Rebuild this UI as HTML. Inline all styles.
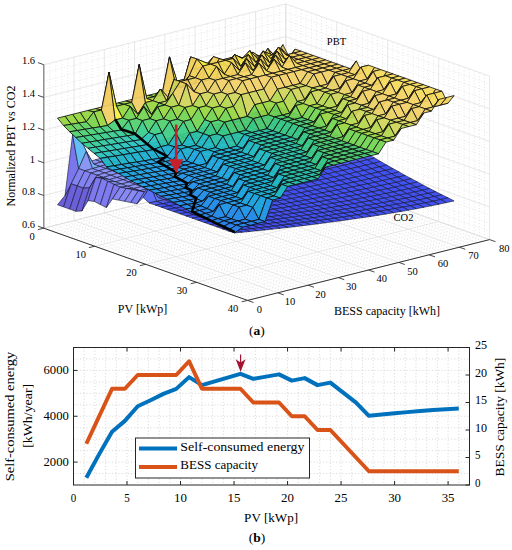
<!DOCTYPE html>
<html><head><meta charset="utf-8"><style>
html,body{margin:0;padding:0;background:#fff;width:512px;height:550px;overflow:hidden}
svg{display:block}
text{font-family:"Liberation Serif",serif;fill:#000}
.tl{font-size:13px}
.lg{font-size:13.2px}
.al{font-size:13.5px}
.gd{stroke:#c4c4c4;stroke-width:0.7;stroke-dasharray:1 2.2}
.tk{stroke:#262626;stroke-width:1}
.gM{stroke:#dcdcdc;stroke-width:0.7}
.gm{stroke:#cfcfcf;stroke-width:0.6;stroke-dasharray:0.8 2.2}
.q polygon{stroke:#0a0a0a;stroke-width:0.8;stroke-linejoin:round}
.q polygon.c{stroke:#12122a;stroke-width:0.6}
.t3{font-size:10.5px}
.l3{font-size:12px}
</style></head><body>
<svg width="512" height="550" viewBox="0 0 512 550">
<line x1="43.80" y1="228.20" x2="43.80" y2="64.70" class="gM"/>
<line x1="49.85" y1="226.68" x2="49.85" y2="63.18" class="gm"/>
<line x1="55.90" y1="225.16" x2="55.90" y2="61.66" class="gm"/>
<line x1="61.95" y1="223.64" x2="61.95" y2="60.14" class="gm"/>
<line x1="68.00" y1="222.12" x2="68.00" y2="58.62" class="gm"/>
<line x1="74.05" y1="220.60" x2="74.05" y2="57.10" class="gM"/>
<line x1="80.10" y1="219.08" x2="80.10" y2="55.58" class="gm"/>
<line x1="86.15" y1="217.56" x2="86.15" y2="54.06" class="gm"/>
<line x1="92.20" y1="216.04" x2="92.20" y2="52.54" class="gm"/>
<line x1="98.25" y1="214.52" x2="98.25" y2="51.02" class="gm"/>
<line x1="104.30" y1="213.00" x2="104.30" y2="49.50" class="gM"/>
<line x1="110.35" y1="211.48" x2="110.35" y2="47.98" class="gm"/>
<line x1="116.40" y1="209.96" x2="116.40" y2="46.46" class="gm"/>
<line x1="122.45" y1="208.44" x2="122.45" y2="44.94" class="gm"/>
<line x1="128.50" y1="206.92" x2="128.50" y2="43.42" class="gm"/>
<line x1="134.55" y1="205.40" x2="134.55" y2="41.90" class="gM"/>
<line x1="140.60" y1="203.88" x2="140.60" y2="40.38" class="gm"/>
<line x1="146.65" y1="202.36" x2="146.65" y2="38.86" class="gm"/>
<line x1="152.70" y1="200.84" x2="152.70" y2="37.34" class="gm"/>
<line x1="158.75" y1="199.32" x2="158.75" y2="35.82" class="gm"/>
<line x1="164.80" y1="197.80" x2="164.80" y2="34.30" class="gM"/>
<line x1="170.85" y1="196.28" x2="170.85" y2="32.78" class="gm"/>
<line x1="176.90" y1="194.76" x2="176.90" y2="31.26" class="gm"/>
<line x1="182.95" y1="193.24" x2="182.95" y2="29.74" class="gm"/>
<line x1="189.00" y1="191.72" x2="189.00" y2="28.22" class="gm"/>
<line x1="195.05" y1="190.20" x2="195.05" y2="26.70" class="gM"/>
<line x1="201.10" y1="188.68" x2="201.10" y2="25.18" class="gm"/>
<line x1="207.15" y1="187.16" x2="207.15" y2="23.66" class="gm"/>
<line x1="213.20" y1="185.64" x2="213.20" y2="22.14" class="gm"/>
<line x1="219.25" y1="184.12" x2="219.25" y2="20.62" class="gm"/>
<line x1="225.30" y1="182.60" x2="225.30" y2="19.10" class="gM"/>
<line x1="231.35" y1="181.08" x2="231.35" y2="17.58" class="gm"/>
<line x1="237.40" y1="179.56" x2="237.40" y2="16.06" class="gm"/>
<line x1="243.45" y1="178.04" x2="243.45" y2="14.54" class="gm"/>
<line x1="249.50" y1="176.52" x2="249.50" y2="13.02" class="gm"/>
<line x1="255.55" y1="175.00" x2="255.55" y2="11.50" class="gM"/>
<line x1="261.60" y1="173.48" x2="261.60" y2="9.98" class="gm"/>
<line x1="267.65" y1="171.96" x2="267.65" y2="8.46" class="gm"/>
<line x1="273.70" y1="170.44" x2="273.70" y2="6.94" class="gm"/>
<line x1="279.75" y1="168.92" x2="279.75" y2="5.42" class="gm"/>
<line x1="285.80" y1="167.40" x2="285.80" y2="3.90" class="gM"/>
<line x1="43.80" y1="228.20" x2="285.80" y2="167.40" class="gM"/>
<line x1="43.80" y1="220.02" x2="285.80" y2="159.22" class="gm"/>
<line x1="43.80" y1="211.85" x2="285.80" y2="151.05" class="gm"/>
<line x1="43.80" y1="203.67" x2="285.80" y2="142.87" class="gm"/>
<line x1="43.80" y1="195.50" x2="285.80" y2="134.70" class="gM"/>
<line x1="43.80" y1="187.32" x2="285.80" y2="126.52" class="gm"/>
<line x1="43.80" y1="179.15" x2="285.80" y2="118.35" class="gm"/>
<line x1="43.80" y1="170.97" x2="285.80" y2="110.17" class="gm"/>
<line x1="43.80" y1="162.80" x2="285.80" y2="102.00" class="gM"/>
<line x1="43.80" y1="154.62" x2="285.80" y2="93.82" class="gm"/>
<line x1="43.80" y1="146.45" x2="285.80" y2="85.65" class="gm"/>
<line x1="43.80" y1="138.28" x2="285.80" y2="77.47" class="gm"/>
<line x1="43.80" y1="130.10" x2="285.80" y2="69.30" class="gM"/>
<line x1="43.80" y1="121.92" x2="285.80" y2="61.12" class="gm"/>
<line x1="43.80" y1="113.75" x2="285.80" y2="52.95" class="gm"/>
<line x1="43.80" y1="105.57" x2="285.80" y2="44.77" class="gm"/>
<line x1="43.80" y1="97.40" x2="285.80" y2="36.60" class="gM"/>
<line x1="43.80" y1="89.22" x2="285.80" y2="28.42" class="gm"/>
<line x1="43.80" y1="81.05" x2="285.80" y2="20.25" class="gm"/>
<line x1="43.80" y1="72.87" x2="285.80" y2="12.07" class="gm"/>
<line x1="43.80" y1="64.70" x2="285.80" y2="3.90" class="gM"/>
<line x1="285.80" y1="167.40" x2="285.80" y2="3.90" class="gM"/>
<line x1="290.89" y1="169.20" x2="290.89" y2="5.70" class="gm"/>
<line x1="295.99" y1="171.01" x2="295.99" y2="7.51" class="gm"/>
<line x1="301.08" y1="172.81" x2="301.08" y2="9.31" class="gm"/>
<line x1="306.18" y1="174.62" x2="306.18" y2="11.12" class="gm"/>
<line x1="311.27" y1="176.43" x2="311.27" y2="12.93" class="gm"/>
<line x1="316.37" y1="178.23" x2="316.37" y2="14.73" class="gm"/>
<line x1="321.47" y1="180.03" x2="321.47" y2="16.53" class="gm"/>
<line x1="326.56" y1="181.84" x2="326.56" y2="18.34" class="gm"/>
<line x1="331.65" y1="183.64" x2="331.65" y2="20.14" class="gm"/>
<line x1="336.75" y1="185.45" x2="336.75" y2="21.95" class="gM"/>
<line x1="341.85" y1="187.25" x2="341.85" y2="23.75" class="gm"/>
<line x1="346.94" y1="189.06" x2="346.94" y2="25.56" class="gm"/>
<line x1="352.03" y1="190.87" x2="352.03" y2="27.37" class="gm"/>
<line x1="357.13" y1="192.67" x2="357.13" y2="29.17" class="gm"/>
<line x1="362.23" y1="194.47" x2="362.23" y2="30.97" class="gm"/>
<line x1="367.32" y1="196.28" x2="367.32" y2="32.78" class="gm"/>
<line x1="372.41" y1="198.08" x2="372.41" y2="34.58" class="gm"/>
<line x1="377.51" y1="199.89" x2="377.51" y2="36.39" class="gm"/>
<line x1="382.61" y1="201.69" x2="382.61" y2="38.19" class="gm"/>
<line x1="387.70" y1="203.50" x2="387.70" y2="40.00" class="gM"/>
<line x1="392.79" y1="205.31" x2="392.79" y2="41.81" class="gm"/>
<line x1="397.89" y1="207.11" x2="397.89" y2="43.61" class="gm"/>
<line x1="402.99" y1="208.91" x2="402.99" y2="45.41" class="gm"/>
<line x1="408.08" y1="210.72" x2="408.08" y2="47.22" class="gm"/>
<line x1="413.18" y1="212.52" x2="413.18" y2="49.02" class="gm"/>
<line x1="418.27" y1="214.33" x2="418.27" y2="50.83" class="gm"/>
<line x1="423.37" y1="216.13" x2="423.37" y2="52.63" class="gm"/>
<line x1="428.46" y1="217.94" x2="428.46" y2="54.44" class="gm"/>
<line x1="433.56" y1="219.74" x2="433.56" y2="56.24" class="gm"/>
<line x1="438.65" y1="221.55" x2="438.65" y2="58.05" class="gM"/>
<line x1="443.75" y1="223.35" x2="443.75" y2="59.85" class="gm"/>
<line x1="448.84" y1="225.16" x2="448.84" y2="61.66" class="gm"/>
<line x1="453.94" y1="226.96" x2="453.94" y2="63.46" class="gm"/>
<line x1="459.03" y1="228.77" x2="459.03" y2="65.27" class="gm"/>
<line x1="464.12" y1="230.57" x2="464.12" y2="67.07" class="gm"/>
<line x1="469.22" y1="232.38" x2="469.22" y2="68.88" class="gm"/>
<line x1="474.31" y1="234.19" x2="474.31" y2="70.69" class="gm"/>
<line x1="479.41" y1="235.99" x2="479.41" y2="72.49" class="gm"/>
<line x1="484.50" y1="237.79" x2="484.50" y2="74.29" class="gm"/>
<line x1="489.60" y1="239.60" x2="489.60" y2="76.10" class="gM"/>
<line x1="285.80" y1="167.40" x2="489.60" y2="239.60" class="gM"/>
<line x1="285.80" y1="159.22" x2="489.60" y2="231.42" class="gm"/>
<line x1="285.80" y1="151.05" x2="489.60" y2="223.25" class="gm"/>
<line x1="285.80" y1="142.87" x2="489.60" y2="215.07" class="gm"/>
<line x1="285.80" y1="134.70" x2="489.60" y2="206.90" class="gM"/>
<line x1="285.80" y1="126.52" x2="489.60" y2="198.72" class="gm"/>
<line x1="285.80" y1="118.35" x2="489.60" y2="190.55" class="gm"/>
<line x1="285.80" y1="110.17" x2="489.60" y2="182.37" class="gm"/>
<line x1="285.80" y1="102.00" x2="489.60" y2="174.20" class="gM"/>
<line x1="285.80" y1="93.82" x2="489.60" y2="166.02" class="gm"/>
<line x1="285.80" y1="85.65" x2="489.60" y2="157.85" class="gm"/>
<line x1="285.80" y1="77.47" x2="489.60" y2="149.67" class="gm"/>
<line x1="285.80" y1="69.30" x2="489.60" y2="141.50" class="gM"/>
<line x1="285.80" y1="61.12" x2="489.60" y2="133.32" class="gm"/>
<line x1="285.80" y1="52.95" x2="489.60" y2="125.15" class="gm"/>
<line x1="285.80" y1="44.77" x2="489.60" y2="116.97" class="gm"/>
<line x1="285.80" y1="36.60" x2="489.60" y2="108.80" class="gM"/>
<line x1="285.80" y1="28.42" x2="489.60" y2="100.62" class="gm"/>
<line x1="285.80" y1="20.25" x2="489.60" y2="92.45" class="gm"/>
<line x1="285.80" y1="12.07" x2="489.60" y2="84.27" class="gm"/>
<line x1="285.80" y1="3.90" x2="489.60" y2="76.10" class="gM"/>
<line x1="43.80" y1="228.20" x2="285.80" y2="167.40" class="gM"/>
<line x1="48.89" y1="230.00" x2="290.89" y2="169.20" class="gm"/>
<line x1="53.99" y1="231.81" x2="295.99" y2="171.01" class="gm"/>
<line x1="59.08" y1="233.61" x2="301.08" y2="172.81" class="gm"/>
<line x1="64.18" y1="235.42" x2="306.18" y2="174.62" class="gm"/>
<line x1="69.27" y1="237.22" x2="311.27" y2="176.43" class="gm"/>
<line x1="74.37" y1="239.03" x2="316.37" y2="178.23" class="gm"/>
<line x1="79.47" y1="240.83" x2="321.47" y2="180.03" class="gm"/>
<line x1="84.56" y1="242.64" x2="326.56" y2="181.84" class="gm"/>
<line x1="89.66" y1="244.44" x2="331.65" y2="183.64" class="gm"/>
<line x1="94.75" y1="246.25" x2="336.75" y2="185.45" class="gM"/>
<line x1="99.84" y1="248.05" x2="341.85" y2="187.25" class="gm"/>
<line x1="104.94" y1="249.86" x2="346.94" y2="189.06" class="gm"/>
<line x1="110.03" y1="251.66" x2="352.03" y2="190.87" class="gm"/>
<line x1="115.13" y1="253.47" x2="357.13" y2="192.67" class="gm"/>
<line x1="120.22" y1="255.27" x2="362.23" y2="194.47" class="gm"/>
<line x1="125.32" y1="257.08" x2="367.32" y2="196.28" class="gm"/>
<line x1="130.41" y1="258.88" x2="372.41" y2="198.08" class="gm"/>
<line x1="135.51" y1="260.69" x2="377.51" y2="199.89" class="gm"/>
<line x1="140.60" y1="262.50" x2="382.61" y2="201.69" class="gm"/>
<line x1="145.70" y1="264.30" x2="387.70" y2="203.50" class="gM"/>
<line x1="150.79" y1="266.11" x2="392.79" y2="205.31" class="gm"/>
<line x1="155.89" y1="267.91" x2="397.89" y2="207.11" class="gm"/>
<line x1="160.98" y1="269.71" x2="402.99" y2="208.91" class="gm"/>
<line x1="166.08" y1="271.52" x2="408.08" y2="210.72" class="gm"/>
<line x1="171.18" y1="273.32" x2="413.18" y2="212.52" class="gm"/>
<line x1="176.27" y1="275.13" x2="418.27" y2="214.33" class="gm"/>
<line x1="181.37" y1="276.94" x2="423.37" y2="216.13" class="gm"/>
<line x1="186.46" y1="278.74" x2="428.46" y2="217.94" class="gm"/>
<line x1="191.56" y1="280.54" x2="433.56" y2="219.74" class="gm"/>
<line x1="196.65" y1="282.35" x2="438.65" y2="221.55" class="gM"/>
<line x1="201.75" y1="284.15" x2="443.75" y2="223.35" class="gm"/>
<line x1="206.84" y1="285.96" x2="448.84" y2="225.16" class="gm"/>
<line x1="211.94" y1="287.76" x2="453.94" y2="226.96" class="gm"/>
<line x1="217.03" y1="289.57" x2="459.03" y2="228.77" class="gm"/>
<line x1="222.12" y1="291.38" x2="464.12" y2="230.57" class="gm"/>
<line x1="227.22" y1="293.18" x2="469.22" y2="232.38" class="gm"/>
<line x1="232.31" y1="294.99" x2="474.31" y2="234.19" class="gm"/>
<line x1="237.41" y1="296.79" x2="479.41" y2="235.99" class="gm"/>
<line x1="242.50" y1="298.59" x2="484.50" y2="237.79" class="gm"/>
<line x1="247.60" y1="300.40" x2="489.60" y2="239.60" class="gM"/>
<line x1="43.80" y1="228.20" x2="247.60" y2="300.40" class="gM"/>
<line x1="49.85" y1="226.68" x2="253.65" y2="298.88" class="gm"/>
<line x1="55.90" y1="225.16" x2="259.70" y2="297.36" class="gm"/>
<line x1="61.95" y1="223.64" x2="265.75" y2="295.84" class="gm"/>
<line x1="68.00" y1="222.12" x2="271.80" y2="294.32" class="gm"/>
<line x1="74.05" y1="220.60" x2="277.85" y2="292.80" class="gM"/>
<line x1="80.10" y1="219.08" x2="283.90" y2="291.28" class="gm"/>
<line x1="86.15" y1="217.56" x2="289.95" y2="289.76" class="gm"/>
<line x1="92.20" y1="216.04" x2="296.00" y2="288.24" class="gm"/>
<line x1="98.25" y1="214.52" x2="302.05" y2="286.72" class="gm"/>
<line x1="104.30" y1="213.00" x2="308.10" y2="285.20" class="gM"/>
<line x1="110.35" y1="211.48" x2="314.15" y2="283.68" class="gm"/>
<line x1="116.40" y1="209.96" x2="320.20" y2="282.16" class="gm"/>
<line x1="122.45" y1="208.44" x2="326.25" y2="280.64" class="gm"/>
<line x1="128.50" y1="206.92" x2="332.30" y2="279.12" class="gm"/>
<line x1="134.55" y1="205.40" x2="338.35" y2="277.60" class="gM"/>
<line x1="140.60" y1="203.88" x2="344.40" y2="276.08" class="gm"/>
<line x1="146.65" y1="202.36" x2="350.45" y2="274.56" class="gm"/>
<line x1="152.70" y1="200.84" x2="356.50" y2="273.04" class="gm"/>
<line x1="158.75" y1="199.32" x2="362.55" y2="271.52" class="gm"/>
<line x1="164.80" y1="197.80" x2="368.60" y2="270.00" class="gM"/>
<line x1="170.85" y1="196.28" x2="374.65" y2="268.48" class="gm"/>
<line x1="176.90" y1="194.76" x2="380.70" y2="266.96" class="gm"/>
<line x1="182.95" y1="193.24" x2="386.75" y2="265.44" class="gm"/>
<line x1="189.00" y1="191.72" x2="392.80" y2="263.92" class="gm"/>
<line x1="195.05" y1="190.20" x2="398.85" y2="262.40" class="gM"/>
<line x1="201.10" y1="188.68" x2="404.90" y2="260.88" class="gm"/>
<line x1="207.15" y1="187.16" x2="410.95" y2="259.36" class="gm"/>
<line x1="213.20" y1="185.64" x2="417.00" y2="257.84" class="gm"/>
<line x1="219.25" y1="184.12" x2="423.05" y2="256.32" class="gm"/>
<line x1="225.30" y1="182.60" x2="429.10" y2="254.80" class="gM"/>
<line x1="231.35" y1="181.08" x2="435.15" y2="253.28" class="gm"/>
<line x1="237.40" y1="179.56" x2="441.20" y2="251.76" class="gm"/>
<line x1="243.45" y1="178.04" x2="447.25" y2="250.24" class="gm"/>
<line x1="249.50" y1="176.52" x2="453.30" y2="248.72" class="gm"/>
<line x1="255.55" y1="175.00" x2="459.35" y2="247.20" class="gM"/>
<line x1="261.60" y1="173.48" x2="465.40" y2="245.68" class="gm"/>
<line x1="267.65" y1="171.96" x2="471.45" y2="244.16" class="gm"/>
<line x1="273.70" y1="170.44" x2="477.50" y2="242.64" class="gm"/>
<line x1="279.75" y1="168.92" x2="483.55" y2="241.12" class="gm"/>
<line x1="285.80" y1="167.40" x2="489.60" y2="239.60" class="gM"/>
<line x1="43.8" y1="228.2" x2="43.8" y2="64.69999999999999" stroke="#7a7a7a" stroke-width="1.2"/>
<line x1="43.8" y1="228.2" x2="247.59999999999997" y2="300.4" stroke="#333" stroke-width="1"/>
<line x1="247.59999999999997" y1="300.4" x2="489.59999999999997" y2="239.59999999999997" stroke="#333" stroke-width="1"/>
<line x1="43.80" y1="228.20" x2="37.90" y2="226.10" stroke="#333" stroke-width="0.9"/>
<line x1="43.80" y1="195.50" x2="37.90" y2="193.40" stroke="#333" stroke-width="0.9"/>
<line x1="43.80" y1="162.80" x2="37.90" y2="160.70" stroke="#333" stroke-width="0.9"/>
<line x1="43.80" y1="130.10" x2="37.90" y2="128.00" stroke="#333" stroke-width="0.9"/>
<line x1="43.80" y1="97.40" x2="37.90" y2="95.30" stroke="#333" stroke-width="0.9"/>
<line x1="43.80" y1="64.70" x2="37.90" y2="62.60" stroke="#333" stroke-width="0.9"/>
<line x1="43.80" y1="228.20" x2="37.90" y2="229.60" stroke="#333" stroke-width="0.9"/>
<line x1="94.75" y1="246.25" x2="88.85" y2="247.65" stroke="#333" stroke-width="0.9"/>
<line x1="145.70" y1="264.30" x2="139.80" y2="265.70" stroke="#333" stroke-width="0.9"/>
<line x1="196.65" y1="282.35" x2="190.75" y2="283.75" stroke="#333" stroke-width="0.9"/>
<line x1="247.60" y1="300.40" x2="241.70" y2="301.80" stroke="#333" stroke-width="0.9"/>
<line x1="247.60" y1="300.40" x2="253.50" y2="302.50" stroke="#333" stroke-width="0.9"/>
<line x1="277.85" y1="292.80" x2="283.75" y2="294.90" stroke="#333" stroke-width="0.9"/>
<line x1="308.10" y1="285.20" x2="314.00" y2="287.30" stroke="#333" stroke-width="0.9"/>
<line x1="338.35" y1="277.60" x2="344.25" y2="279.70" stroke="#333" stroke-width="0.9"/>
<line x1="368.60" y1="270.00" x2="374.50" y2="272.10" stroke="#333" stroke-width="0.9"/>
<line x1="398.85" y1="262.40" x2="404.75" y2="264.50" stroke="#333" stroke-width="0.9"/>
<line x1="429.10" y1="254.80" x2="435.00" y2="256.90" stroke="#333" stroke-width="0.9"/>
<line x1="459.35" y1="247.20" x2="465.25" y2="249.30" stroke="#333" stroke-width="0.9"/>
<line x1="489.60" y1="239.60" x2="495.50" y2="241.70" stroke="#333" stroke-width="0.9"/>
<g class="q"><polygon points="269.2,108.6 275.3,110.8 282.9,108.6 276.8,106.3" fill="#81a3f5" class="c"/>
<polygon points="261.7,110.8 267.8,113.0 275.3,110.8 269.2,108.6" fill="#82a3f5" class="c"/>
<polygon points="275.3,110.8 281.5,113.2 289.0,110.9 282.9,108.6" fill="#81a3f5" class="c"/>
<polygon points="254.1,113.0 260.2,115.2 267.8,113.0 261.7,110.8" fill="#82a2f5" class="c"/>
<polygon points="267.8,113.0 273.9,115.4 281.5,113.2 275.3,110.8" fill="#82a3f5" class="c"/>
<polygon points="281.5,113.2 287.6,115.7 295.1,113.5 289.0,110.9" fill="#82a3f5" class="c"/>
<polygon points="269.2,64.9 275.3,56.4 282.9,44.7 276.8,63.0" fill="#cdd456" fill-opacity="0.92"/>
<polygon points="246.5,115.2 252.7,117.5 260.2,115.2 254.1,113.0" fill="#82a2f5" class="c"/>
<polygon points="260.2,115.2 266.3,117.6 273.9,115.4 267.8,113.0" fill="#82a2f5" class="c"/>
<polygon points="273.9,115.4 280.0,117.9 287.6,115.7 281.5,113.2" fill="#82a2f5" class="c"/>
<polygon points="287.6,115.7 293.7,118.3 301.2,116.1 295.1,113.5" fill="#82a2f5" class="c"/>
<polygon points="261.7,66.8 267.8,48.5 275.3,56.4 269.2,64.9" fill="#cdd456" fill-opacity="0.92"/>
<polygon points="239.0,117.5 245.1,119.7 252.7,117.5 246.5,115.2" fill="#83a1f5" class="c"/>
<polygon points="252.7,117.5 258.8,119.8 266.3,117.6 260.2,115.2" fill="#83a2f5" class="c"/>
<polygon points="275.3,56.4 281.5,48.8 289.0,56.7 282.9,44.7" fill="#e8cf61" fill-opacity="0.92"/>
<polygon points="266.3,117.6 272.4,120.1 280.0,117.9 273.9,115.4" fill="#82a2f5" class="c"/>
<polygon points="280.0,117.9 286.1,120.5 293.7,118.3 287.6,115.7" fill="#82a2f5" class="c"/>
<polygon points="293.7,118.3 299.8,121.1 307.4,118.9 301.2,116.1" fill="#83a2f5" class="c"/>
<polygon points="254.1,68.7 260.2,60.2 267.8,48.5 261.7,66.8" fill="#cdd456" fill-opacity="0.92"/>
<polygon points="231.4,119.7 237.5,121.9 245.1,119.7 239.0,117.5" fill="#83a0f5" class="c"/>
<polygon points="245.1,119.7 251.2,122.0 258.8,119.8 252.7,117.5" fill="#83a1f5" class="c"/>
<polygon points="267.8,48.5 273.9,60.5 281.5,48.8 275.3,56.4" fill="#f1cf63" fill-opacity="0.92"/>
<polygon points="258.8,119.8 264.9,122.3 272.4,120.1 266.3,117.6" fill="#83a1f5" class="c"/>
<polygon points="281.5,48.8 287.6,60.8 295.1,49.1 289.0,56.7" fill="#f1cf63" fill-opacity="0.92"/>
<polygon points="272.4,120.1 278.6,122.7 286.1,120.5 280.0,117.9" fill="#83a1f5" class="c"/>
<polygon points="286.1,120.5 292.2,123.3 299.8,121.1 293.7,118.3" fill="#83a1f5" class="c"/>
<polygon points="299.8,121.1 305.9,124.0 313.5,121.8 307.4,118.9" fill="#83a0f5" class="c"/>
<polygon points="246.5,70.6 252.7,52.3 260.2,60.2 254.1,68.7" fill="#cdd456" fill-opacity="0.92"/>
<polygon points="223.9,121.9 230.0,124.1 237.5,121.9 231.4,119.7" fill="#84a0f5" class="c"/>
<polygon points="237.5,121.9 243.6,124.3 251.2,122.0 245.1,119.7" fill="#83a0f5" class="c"/>
<polygon points="260.2,60.2 266.3,52.6 273.9,60.5 267.8,48.5" fill="#e8cf61" fill-opacity="0.92"/>
<polygon points="251.2,122.0 257.3,124.5 264.9,122.3 258.8,119.8" fill="#83a1f5" class="c"/>
<polygon points="273.9,60.5 280.0,52.9 287.6,60.8 281.5,48.8" fill="#e8cf61" fill-opacity="0.92"/>
<polygon points="264.9,122.3 271.0,124.9 278.6,122.7 272.4,120.1" fill="#83a1f5" class="c"/>
<polygon points="278.6,122.7 284.7,125.4 292.2,123.3 286.1,120.5" fill="#83a0f5" class="c"/>
<polygon points="292.2,123.3 298.3,126.1 305.9,124.0 299.8,121.1" fill="#84a0f5" class="c"/>
<polygon points="287.6,60.8 293.7,53.1 301.2,51.2 295.1,49.1" fill="#e8cf61" fill-opacity="0.92"/>
<polygon points="239.0,72.5 245.1,64.0 252.7,52.3 246.5,70.6" fill="#cdd456" fill-opacity="0.92"/>
<polygon points="305.9,124.0 312.0,127.0 319.6,124.9 313.5,121.8" fill="#849ff5" class="c"/>
<polygon points="216.3,124.1 222.4,126.4 230.0,124.1 223.9,121.9" fill="#849ff5" class="c"/>
<polygon points="230.0,124.1 236.1,126.5 243.6,124.3 237.5,121.9" fill="#84a0f5" class="c"/>
<polygon points="243.6,124.3 249.8,126.7 257.3,124.5 251.2,122.0" fill="#84a0f5" class="c"/>
<polygon points="252.7,52.3 258.8,56.0 266.3,52.6 260.2,60.2" fill="#f5d45f" fill-opacity="0.92"/>
<polygon points="257.3,124.5 263.4,127.1 271.0,124.9 264.9,122.3" fill="#84a0f5" class="c"/>
<polygon points="266.3,52.6 272.4,54.8 280.0,52.9 273.9,60.5" fill="#f1cf63" fill-opacity="0.92"/>
<polygon points="271.0,124.9 277.1,127.6 284.7,125.4 278.6,122.7" fill="#84a0f5" class="c"/>
<polygon points="284.7,125.4 290.8,128.3 298.3,126.1 292.2,123.3" fill="#849ff5" class="c"/>
<polygon points="280.0,52.9 286.1,55.0 293.7,53.1 287.6,60.8" fill="#f1cf63" fill-opacity="0.92"/>
<polygon points="231.4,74.4 237.5,56.1 245.1,64.0 239.0,72.5" fill="#cdd456" fill-opacity="0.92"/>
<polygon points="298.3,126.1 304.5,129.2 312.0,127.0 305.9,124.0" fill="#859ff5" class="c"/>
<polygon points="312.0,127.0 318.1,130.2 325.7,128.1 319.6,124.9" fill="#869df5" class="c"/>
<polygon points="293.7,53.1 299.8,55.3 307.4,53.4 301.2,51.2" fill="#f1cf63" fill-opacity="0.92"/>
<polygon points="208.7,126.4 214.8,128.6 222.4,126.4 216.3,124.1" fill="#859ff5" class="c"/>
<polygon points="222.4,126.4 228.5,128.7 236.1,126.5 230.0,124.1" fill="#849ff5" class="c"/>
<polygon points="236.1,126.5 242.2,128.9 249.8,126.7 243.6,124.3" fill="#849ff5" class="c"/>
<polygon points="245.1,64.0 251.2,56.4 258.8,56.0 252.7,52.3" fill="#f3d161" fill-opacity="0.92"/>
<polygon points="249.8,126.7 255.9,129.3 263.4,127.1 257.3,124.5" fill="#84a0f5" class="c"/>
<polygon points="263.4,127.1 269.5,129.8 277.1,127.6 271.0,124.9" fill="#849ff5" class="c"/>
<polygon points="258.8,56.0 264.9,58.1 272.4,54.8 266.3,52.6" fill="#f5f03c" fill-opacity="0.92"/>
<polygon points="277.1,127.6 283.2,130.5 290.8,128.3 284.7,125.4" fill="#859ff5" class="c"/>
<polygon points="290.8,128.3 296.9,131.3 304.5,129.2 298.3,126.1" fill="#859ef5" class="c"/>
<polygon points="223.9,76.3 230.0,58.0 237.5,56.1 231.4,74.4" fill="#cdd456" fill-opacity="0.92"/>
<polygon points="304.5,129.2 310.6,132.3 318.1,130.2 312.0,127.0" fill="#869df5" class="c"/>
<polygon points="272.4,54.8 278.6,47.1 286.1,55.0 280.0,52.9" fill="#f4d260" fill-opacity="0.92"/>
<polygon points="201.2,128.6 207.3,130.8 214.8,128.6 208.7,126.4" fill="#859ef5" class="c"/>
<polygon points="286.1,55.0 292.2,57.2 299.8,55.3 293.7,53.1" fill="#f1cf63" fill-opacity="0.92"/>
<polygon points="318.1,130.2 324.3,133.5 331.8,131.4 325.7,128.1" fill="#879cf5" class="c"/>
<polygon points="299.8,55.3 305.9,57.5 313.5,55.6 307.4,53.4" fill="#f1cf63" fill-opacity="0.92"/>
<polygon points="214.8,128.6 221.0,130.9 228.5,128.7 222.4,126.4" fill="#859ff5" class="c"/>
<polygon points="228.5,128.7 234.6,131.1 242.2,128.9 236.1,126.5" fill="#859ff5" class="c"/>
<polygon points="242.2,128.9 248.3,131.5 255.9,129.3 249.8,126.7" fill="#849ff5" class="c"/>
<polygon points="237.5,56.1 243.6,58.3 251.2,56.4 245.1,64.0" fill="#f1cf63" fill-opacity="0.92"/>
<polygon points="255.9,129.3 262.0,132.0 269.5,129.8 263.4,127.1" fill="#859ff5" class="c"/>
<polygon points="251.2,56.4 257.3,58.6 264.9,58.1 258.8,56.0" fill="#f5d45f" fill-opacity="0.92"/>
<polygon points="269.5,129.8 275.7,132.6 283.2,130.5 277.1,127.6" fill="#859ef5" class="c"/>
<polygon points="283.2,130.5 289.3,133.4 296.9,131.3 290.8,128.3" fill="#869ef5" class="c"/>
<polygon points="296.9,131.3 303.0,134.4 310.6,132.3 304.5,129.2" fill="#869df5" class="c"/>
<polygon points="216.3,78.2 222.4,59.9 230.0,58.0 223.9,76.3" fill="#cdd456" fill-opacity="0.92"/>
<polygon points="264.9,58.1 271.0,58.8 278.6,47.1 272.4,54.8" fill="#f5f03c" fill-opacity="0.92"/>
<polygon points="193.6,130.8 199.7,133.0 207.3,130.8 201.2,128.6" fill="#869df5" class="c"/>
<polygon points="310.6,132.3 316.7,135.6 324.3,133.5 318.1,130.2" fill="#879bf5" class="c"/>
<polygon points="324.3,133.5 330.4,137.0 337.9,134.9 331.8,131.4" fill="#8999f5" class="c"/>
<polygon points="278.6,47.1 284.7,59.1 292.2,57.2 286.1,55.0" fill="#f5da58" fill-opacity="0.92"/>
<polygon points="207.3,130.8 213.4,133.1 221.0,130.9 214.8,128.6" fill="#859ef5" class="c"/>
<polygon points="292.2,57.2 298.3,59.4 305.9,57.5 299.8,55.3" fill="#f1cf63" fill-opacity="0.92"/>
<polygon points="305.9,57.5 312.0,59.6 319.6,57.7 313.5,55.6" fill="#f1cf63" fill-opacity="0.92"/>
<polygon points="221.0,130.9 227.1,133.3 234.6,131.1 228.5,128.7" fill="#859ef5" class="c"/>
<polygon points="234.6,131.1 240.7,133.7 248.3,131.5 242.2,128.9" fill="#859ef5" class="c"/>
<polygon points="248.3,131.5 254.4,134.1 262.0,132.0 255.9,129.3" fill="#859ef5" class="c"/>
<polygon points="230.0,58.0 236.1,56.3 243.6,58.3 237.5,56.1" fill="#f5d45f" fill-opacity="0.92"/>
<polygon points="262.0,132.0 268.1,134.8 275.7,132.6 269.5,129.8" fill="#859ef5" class="c"/>
<polygon points="275.7,132.6 281.8,135.6 289.3,133.4 283.2,130.5" fill="#869df5" class="c"/>
<polygon points="243.6,58.3 249.8,50.7 257.3,58.6 251.2,56.4" fill="#f4d260" fill-opacity="0.92"/>
<polygon points="289.3,133.4 295.5,136.5 303.0,134.4 296.9,131.3" fill="#879cf5" class="c"/>
<polygon points="208.7,80.1 214.8,61.8 222.4,59.9 216.3,78.2" fill="#cdd456" fill-opacity="0.92"/>
<polygon points="186.0,133.1 192.2,135.3 199.7,133.0 193.6,130.8" fill="#869df5" class="c"/>
<polygon points="257.3,58.6 263.4,50.9 271.0,58.8 264.9,58.1" fill="#f5d45f" fill-opacity="0.92"/>
<polygon points="303.0,134.4 309.1,137.7 316.7,135.6 310.6,132.3" fill="#889bf5" class="c"/>
<polygon points="316.7,135.6 322.8,139.0 330.4,137.0 324.3,133.5" fill="#8999f5" class="c"/>
<polygon points="199.7,133.0 205.8,135.3 213.4,133.1 207.3,130.8" fill="#869df5" class="c"/>
<polygon points="284.7,59.1 290.8,61.3 298.3,59.4 292.2,57.2" fill="#f1cf63" fill-opacity="0.92"/>
<polygon points="330.4,137.0 336.5,140.6 344.0,138.5 337.9,134.9" fill="#8a97f5" class="c"/>
<polygon points="271.0,58.8 277.1,51.2 284.7,59.1 278.6,47.1" fill="#f4d260" fill-opacity="0.92"/>
<polygon points="213.4,133.1 219.5,135.5 227.1,133.3 221.0,130.9" fill="#859ef5" class="c"/>
<polygon points="298.3,59.4 304.5,61.5 312.0,59.6 305.9,57.5" fill="#f1cf63" fill-opacity="0.92"/>
<polygon points="227.1,133.3 233.2,135.9 240.7,133.7 234.6,131.1" fill="#859ef5" class="c"/>
<polygon points="312.0,59.6 318.1,61.8 325.7,59.9 319.6,57.7" fill="#f1cf63" fill-opacity="0.92"/>
<polygon points="240.7,133.7 246.9,136.3 254.4,134.1 248.3,131.5" fill="#859ef5" class="c"/>
<polygon points="222.4,59.9 228.5,62.1 236.1,56.3 230.0,58.0" fill="#f5d45f" fill-opacity="0.92"/>
<polygon points="254.4,134.1 260.5,136.9 268.1,134.8 262.0,132.0" fill="#869df5" class="c"/>
<polygon points="268.1,134.8 274.2,137.7 281.8,135.6 275.7,132.6" fill="#869df5" class="c"/>
<polygon points="281.8,135.6 287.9,138.6 295.5,136.5 289.3,133.4" fill="#879cf5" class="c"/>
<polygon points="201.2,82.0 207.3,63.7 214.8,61.8 208.7,80.1" fill="#cdd456" fill-opacity="0.92"/>
<polygon points="236.1,56.3 242.2,58.4 249.8,50.7 243.6,58.3" fill="#f5f03c" fill-opacity="0.92"/>
<polygon points="178.5,135.3 184.6,137.5 192.2,135.3 186.0,133.1" fill="#869cf5" class="c"/>
<polygon points="295.5,136.5 301.6,139.7 309.1,137.7 303.0,134.4" fill="#889af5" class="c"/>
<polygon points="309.1,137.7 315.2,141.1 322.8,139.0 316.7,135.6" fill="#8999f5" class="c"/>
<polygon points="192.2,135.3 198.3,137.6 205.8,135.3 199.7,133.0" fill="#869df5" class="c"/>
<polygon points="249.8,50.7 255.9,62.6 263.4,50.9 257.3,58.6" fill="#f5da58" fill-opacity="0.92"/>
<polygon points="322.8,139.0 328.9,142.6 336.5,140.6 330.4,137.0" fill="#8a97f5" class="c"/>
<polygon points="336.5,140.6 342.6,144.3 350.2,142.3 344.0,138.5" fill="#8c94f5" class="c"/>
<polygon points="205.8,135.3 211.9,137.7 219.5,135.5 213.4,133.1" fill="#869df5" class="c"/>
<polygon points="263.4,50.9 269.5,62.9 277.1,51.2 271.0,58.8" fill="#f5da58" fill-opacity="0.92"/>
<polygon points="277.1,51.2 283.2,63.2 290.8,61.3 284.7,59.1" fill="#f5da58" fill-opacity="0.92"/>
<polygon points="290.8,61.3 296.9,63.4 304.5,61.5 298.3,59.4" fill="#f1cf63" fill-opacity="0.92"/>
<polygon points="219.5,135.5 225.6,138.0 233.2,135.9 227.1,133.3" fill="#869df5" class="c"/>
<polygon points="304.5,61.5 310.6,63.7 318.1,61.8 312.0,59.6" fill="#f1cf63" fill-opacity="0.92"/>
<polygon points="233.2,135.9 239.3,138.5 246.9,136.3 240.7,133.7" fill="#869df5" class="c"/>
<polygon points="318.1,61.8 324.3,64.0 331.8,62.1 325.7,59.9" fill="#f1cf63" fill-opacity="0.92"/>
<polygon points="214.8,61.8 221.0,64.0 228.5,62.1 222.4,59.9" fill="#f1cf63" fill-opacity="0.92"/>
<polygon points="246.9,136.3 253.0,139.1 260.5,136.9 254.4,134.1" fill="#869df5" class="c"/>
<polygon points="260.5,136.9 266.6,139.8 274.2,137.7 268.1,134.8" fill="#879cf5" class="c"/>
<polygon points="193.6,83.9 199.7,75.4 207.3,63.7 201.2,82.0" fill="#cdd456" fill-opacity="0.92"/>
<polygon points="274.2,137.7 280.3,140.7 287.9,138.6 281.8,135.6" fill="#879bf5" class="c"/>
<polygon points="170.9,137.5 177.0,139.7 184.6,137.5 178.5,135.3" fill="#879cf5" class="c"/>
<polygon points="228.5,62.1 234.6,54.5 242.2,58.4 236.1,56.3" fill="#f5d45f" fill-opacity="0.92"/>
<polygon points="287.9,138.6 294.0,141.8 301.6,139.7 295.5,136.5" fill="#889af5" class="c"/>
<polygon points="301.6,139.7 307.7,143.1 315.2,141.1 309.1,137.7" fill="#8998f5" class="c"/>
<polygon points="184.6,137.5 190.7,139.8 198.3,137.6 192.2,135.3" fill="#879cf5" class="c"/>
<polygon points="315.2,141.1 321.4,144.6 328.9,142.6 322.8,139.0" fill="#8b97f5" class="c"/>
<polygon points="242.2,58.4 248.3,54.7 255.9,62.6 249.8,50.7" fill="#f5f03c" fill-opacity="0.92"/>
<polygon points="328.9,142.6 335.0,146.2 342.6,144.3 336.5,140.6" fill="#8c94f5" class="c"/>
<polygon points="198.3,137.6 204.4,139.9 211.9,137.7 205.8,135.3" fill="#869df5" class="c"/>
<polygon points="255.9,62.6 262.0,55.0 269.5,62.9 263.4,50.9" fill="#f4d260" fill-opacity="0.92"/>
<polygon points="342.6,144.3 348.7,148.1 356.3,146.2 350.2,142.3" fill="#7f85f4" class="c"/>
<polygon points="211.9,137.7 218.1,140.2 225.6,138.0 219.5,135.5" fill="#869df5" class="c"/>
<polygon points="269.5,62.9 275.7,55.3 283.2,63.2 277.1,51.2" fill="#f4d260" fill-opacity="0.92"/>
<polygon points="283.2,63.2 289.3,55.5 296.9,63.4 290.8,61.3" fill="#f4d260" fill-opacity="0.92"/>
<polygon points="296.9,63.4 303.0,65.6 310.6,63.7 304.5,61.5" fill="#f1cf63" fill-opacity="0.92"/>
<polygon points="225.6,138.0 231.7,140.6 239.3,138.5 233.2,135.9" fill="#869df5" class="c"/>
<polygon points="310.6,63.7 316.7,65.9 324.3,64.0 318.1,61.8" fill="#f1cf63" fill-opacity="0.92"/>
<polygon points="239.3,138.5 245.4,141.2 253.0,139.1 246.9,136.3" fill="#869cf5" class="c"/>
<polygon points="207.3,63.7 213.4,56.6 221.0,64.0 214.8,61.8" fill="#f5d45f" fill-opacity="0.92"/>
<polygon points="324.3,64.0 330.4,66.1 337.9,64.2 331.8,62.1" fill="#f1cf63" fill-opacity="0.92"/>
<polygon points="253.0,139.1 259.1,141.9 266.6,139.8 260.5,136.9" fill="#879cf5" class="c"/>
<polygon points="186.0,85.8 192.2,67.5 199.7,75.4 193.6,83.9" fill="#cdd456" fill-opacity="0.92"/>
<polygon points="221.0,64.0 227.1,66.2 234.6,54.5 228.5,62.1" fill="#f4d260" fill-opacity="0.92"/>
<polygon points="266.6,139.8 272.8,142.8 280.3,140.7 274.2,137.7" fill="#879bf5" class="c"/>
<polygon points="163.4,139.7 169.5,141.9 177.0,139.7 170.9,137.5" fill="#879bf5" class="c"/>
<polygon points="280.3,140.7 286.4,143.9 294.0,141.8 287.9,138.6" fill="#889af5" class="c"/>
<polygon points="294.0,141.8 300.1,145.1 307.7,143.1 301.6,139.7" fill="#8998f5" class="c"/>
<polygon points="177.0,139.7 183.1,142.0 190.7,139.8 184.6,137.5" fill="#879cf5" class="c"/>
<polygon points="307.7,143.1 313.8,146.5 321.4,144.6 315.2,141.1" fill="#8b96f5" class="c"/>
<polygon points="234.6,54.5 240.7,66.4 248.3,54.7 242.2,58.4" fill="#f5e54a" fill-opacity="0.92"/>
<polygon points="190.7,139.8 196.8,142.2 204.4,139.9 198.3,137.6" fill="#879cf5" class="c"/>
<polygon points="321.4,144.6 327.5,148.2 335.0,146.2 328.9,142.6" fill="#8c94f5" class="c"/>
<polygon points="248.3,54.7 254.4,66.7 262.0,55.0 255.9,62.6" fill="#f5da58" fill-opacity="0.92"/>
<polygon points="335.0,146.2 341.1,150.0 348.7,148.1 342.6,144.3" fill="#7f85f4" class="c"/>
<polygon points="348.7,148.1 354.8,152.1 362.4,150.2 356.3,146.2" fill="#6e77f3" class="c"/>
<polygon points="204.4,139.9 210.5,142.4 218.1,140.2 211.9,137.7" fill="#879cf5" class="c"/>
<polygon points="262.0,55.0 268.1,67.0 275.7,55.3 269.5,62.9" fill="#f5da58" fill-opacity="0.92"/>
<polygon points="218.1,140.2 224.2,142.8 231.7,140.6 225.6,138.0" fill="#879cf5" class="c"/>
<polygon points="275.7,55.3 281.8,67.2 289.3,55.5 283.2,63.2" fill="#f5da58" fill-opacity="0.92"/>
<polygon points="289.3,55.5 295.5,67.5 303.0,65.6 296.9,63.4" fill="#f5da58" fill-opacity="0.92"/>
<polygon points="303.0,65.6 309.1,67.8 316.7,65.9 310.6,63.7" fill="#f1cf63" fill-opacity="0.92"/>
<polygon points="199.7,75.4 205.8,67.8 213.4,56.6 207.3,63.7" fill="#f3d161" fill-opacity="0.92"/>
<polygon points="231.7,140.6 237.8,143.4 245.4,141.2 239.3,138.5" fill="#879cf5" class="c"/>
<polygon points="316.7,65.9 322.8,68.0 330.4,66.1 324.3,64.0" fill="#f1cf63" fill-opacity="0.92"/>
<polygon points="245.4,141.2 251.5,144.0 259.1,141.9 253.0,139.1" fill="#879bf5" class="c"/>
<polygon points="178.5,87.7 184.6,79.2 192.2,67.5 186.0,85.8" fill="#cdd456" fill-opacity="0.92"/>
<polygon points="330.4,66.1 336.5,68.3 344.0,66.4 337.9,64.2" fill="#f1cf63" fill-opacity="0.92"/>
<polygon points="259.1,141.9 265.2,144.9 272.8,142.8 266.6,139.8" fill="#889af5" class="c"/>
<polygon points="155.8,142.0 161.9,144.2 169.5,141.9 163.4,139.7" fill="#889af5" class="c"/>
<polygon points="213.4,56.6 219.5,58.7 227.1,66.2 221.0,64.0" fill="#f5f03c" fill-opacity="0.92"/>
<polygon points="272.8,142.8 278.9,145.9 286.4,143.9 280.3,140.7" fill="#8999f5" class="c"/>
<polygon points="169.5,141.9 175.6,144.2 183.1,142.0 177.0,139.7" fill="#879bf5" class="c"/>
<polygon points="286.4,143.9 292.6,147.1 300.1,145.1 294.0,141.8" fill="#8a98f5" class="c"/>
<polygon points="227.1,66.2 233.2,58.5 240.7,66.4 234.6,54.5" fill="#f4d260" fill-opacity="0.92"/>
<polygon points="300.1,145.1 306.2,148.5 313.8,146.5 307.7,143.1" fill="#8b96f5" class="c"/>
<polygon points="183.1,142.0 189.3,144.4 196.8,142.2 190.7,139.8" fill="#879bf5" class="c"/>
<polygon points="313.8,146.5 319.9,150.1 327.5,148.2 321.4,144.6" fill="#8d94f5" class="c"/>
<polygon points="240.7,66.4 246.9,58.8 254.4,66.7 248.3,54.7" fill="#f4d260" fill-opacity="0.92"/>
<polygon points="327.5,148.2 333.6,152.0 341.1,150.0 335.0,146.2" fill="#7f85f4" class="c"/>
<polygon points="341.1,150.0 347.3,154.0 354.8,152.1 348.7,148.1" fill="#6e77f3" class="c"/>
<polygon points="196.8,142.2 202.9,144.6 210.5,142.4 204.4,139.9" fill="#879cf5" class="c"/>
<polygon points="354.8,152.1 360.9,156.2 368.5,154.4 362.4,150.2" fill="#5f69f3" class="c"/>
<polygon points="254.4,66.7 260.5,59.1 268.1,67.0 262.0,55.0" fill="#f4d260" fill-opacity="0.92"/>
<polygon points="192.2,67.5 198.3,69.7 205.8,67.8 199.7,75.4" fill="#f1cf63" fill-opacity="0.92"/>
<polygon points="210.5,142.4 216.6,145.0 224.2,142.8 218.1,140.2" fill="#879cf5" class="c"/>
<polygon points="268.1,67.0 274.2,59.3 281.8,67.2 275.7,55.3" fill="#f4d260" fill-opacity="0.92"/>
<polygon points="281.8,67.2 287.9,69.4 295.5,67.5 289.3,55.5" fill="#f4d260" fill-opacity="0.92"/>
<polygon points="295.5,67.5 301.6,69.7 309.1,67.8 303.0,65.6" fill="#f1cf63" fill-opacity="0.92"/>
<polygon points="224.2,142.8 230.3,145.5 237.8,143.4 231.7,140.6" fill="#879bf5" class="c"/>
<polygon points="170.9,89.6 177.0,81.1 184.6,79.2 178.5,87.7" fill="#b1d64a" fill-opacity="0.92"/>
<polygon points="309.1,67.8 315.2,69.9 322.8,68.0 316.7,65.9" fill="#f1cf63" fill-opacity="0.92"/>
<polygon points="237.8,143.4 244.0,146.1 251.5,144.0 245.4,141.2" fill="#889bf5" class="c"/>
<polygon points="322.8,68.0 328.9,70.2 336.5,68.3 330.4,66.1" fill="#f1cf63" fill-opacity="0.92"/>
<polygon points="251.5,144.0 257.6,147.0 265.2,144.9 259.1,141.9" fill="#889af5" class="c"/>
<polygon points="148.2,144.2 154.3,146.4 161.9,144.2 155.8,142.0" fill="#889af5" class="c"/>
<polygon points="265.2,144.9 271.3,148.0 278.9,145.9 272.8,142.8" fill="#8999f5" class="c"/>
<polygon points="205.8,67.8 211.9,70.0 219.5,58.7 213.4,56.6" fill="#f5d45f" fill-opacity="0.92"/>
<polygon points="336.5,68.3 342.6,70.5 350.2,68.6 344.0,66.4" fill="#f1cf63" fill-opacity="0.92"/>
<polygon points="161.9,144.2 168.0,146.4 175.6,144.2 169.5,141.9" fill="#889af5" class="c"/>
<polygon points="278.9,145.9 285.0,149.1 292.6,147.1 286.4,143.9" fill="#8a98f5" class="c"/>
<polygon points="292.6,147.1 298.7,150.5 306.2,148.5 300.1,145.1" fill="#8b96f5" class="c"/>
<polygon points="175.6,144.2 181.7,146.6 189.3,144.4 183.1,142.0" fill="#889bf5" class="c"/>
<polygon points="306.2,148.5 312.3,152.1 319.9,150.1 313.8,146.5" fill="#8d94f5" class="c"/>
<polygon points="219.5,58.7 225.6,60.4 233.2,58.5 227.1,66.2" fill="#f5f03c" fill-opacity="0.92"/>
<polygon points="233.2,58.5 239.3,70.5 246.9,58.8 240.7,66.4" fill="#f5da58" fill-opacity="0.92"/>
<polygon points="319.9,150.1 326.0,153.8 333.6,152.0 327.5,148.2" fill="#7e85f4" class="c"/>
<polygon points="189.3,144.4 195.4,146.8 202.9,144.6 196.8,142.2" fill="#879bf5" class="c"/>
<polygon points="333.6,152.0 339.7,155.8 347.3,154.0 341.1,150.0" fill="#6e77f3" class="c"/>
<polygon points="347.3,154.0 353.4,158.1 360.9,156.2 354.8,152.1" fill="#5f69f3" class="c"/>
<polygon points="246.9,58.8 253.0,70.8 260.5,59.1 254.4,66.7" fill="#f5da58" fill-opacity="0.92"/>
<polygon points="360.9,156.2 367.1,159.8 374.6,158.0 368.5,154.4" fill="#505df2" class="c"/>
<polygon points="202.9,144.6 209.0,147.1 216.6,145.0 210.5,142.4" fill="#879bf5" class="c"/>
<polygon points="260.5,59.1 266.6,71.0 274.2,59.3 268.1,67.0" fill="#f5da58" fill-opacity="0.92"/>
<polygon points="274.2,59.3 280.3,71.3 287.9,69.4 281.8,67.2" fill="#f5da58" fill-opacity="0.92"/>
<polygon points="287.9,69.4 294.0,71.6 301.6,69.7 295.5,67.5" fill="#f1cf63" fill-opacity="0.92"/>
<polygon points="216.6,145.0 222.7,147.6 230.3,145.5 224.2,142.8" fill="#889bf5" class="c"/>
<polygon points="184.6,79.2 190.7,56.9 198.3,69.7 192.2,67.5" fill="#f3d161" fill-opacity="0.92"/>
<polygon points="301.6,69.7 307.7,71.8 315.2,69.9 309.1,67.8" fill="#f1cf63" fill-opacity="0.92"/>
<polygon points="230.3,145.5 236.4,148.3 244.0,146.1 237.8,143.4" fill="#889af5" class="c"/>
<polygon points="244.0,146.1 250.1,149.0 257.6,147.0 251.5,144.0" fill="#889af5" class="c"/>
<polygon points="315.2,69.9 321.4,72.1 328.9,70.2 322.8,68.0" fill="#f1cf63" fill-opacity="0.92"/>
<polygon points="198.3,69.7 204.4,62.1 211.9,70.0 205.8,67.8" fill="#f4d260" fill-opacity="0.92"/>
<polygon points="140.7,146.4 146.8,148.6 154.3,146.4 148.2,144.2" fill="#8999f5" class="c"/>
<polygon points="257.6,147.0 263.8,150.0 271.3,148.0 265.2,144.9" fill="#8999f5" class="c"/>
<polygon points="328.9,70.2 335.0,72.4 342.6,70.5 336.5,68.3" fill="#f1cf63" fill-opacity="0.92"/>
<polygon points="163.4,91.5 169.5,56.9 177.0,81.1 170.9,89.6" fill="#f1ce63" fill-opacity="0.92"/>
<polygon points="154.3,146.4 160.5,148.6 168.0,146.4 161.9,144.2" fill="#889af5" class="c"/>
<polygon points="271.3,148.0 277.4,151.1 285.0,149.1 278.9,145.9" fill="#8a97f5" class="c"/>
<polygon points="285.0,149.1 291.1,152.5 298.7,150.5 292.6,147.1" fill="#8b96f5" class="c"/>
<polygon points="168.0,146.4 174.1,148.8 181.7,146.6 175.6,144.2" fill="#889af5" class="c"/>
<polygon points="298.7,150.5 304.8,154.0 312.3,152.1 306.2,148.5" fill="#8d94f5" class="c"/>
<polygon points="211.9,70.0 218.1,62.3 225.6,60.4 219.5,58.7" fill="#f5d45f" fill-opacity="0.92"/>
<polygon points="342.6,70.5 348.7,72.6 356.3,60.9 350.2,68.6" fill="#f4d260" fill-opacity="0.92"/>
<polygon points="312.3,152.1 318.5,155.7 326.0,153.8 319.9,150.1" fill="#7e85f4" class="c"/>
<polygon points="181.7,146.6 187.8,149.0 195.4,146.8 189.3,144.4" fill="#889af5" class="c"/>
<polygon points="326.0,153.8 332.1,157.7 339.7,155.8 333.6,152.0" fill="#6e77f3" class="c"/>
<polygon points="225.6,60.4 231.7,62.6 239.3,70.5 233.2,58.5" fill="#f5da58" fill-opacity="0.92"/>
<polygon points="339.7,155.8 345.8,159.9 353.4,158.1 347.3,154.0" fill="#5f69f3" class="c"/>
<polygon points="177.0,81.1 183.1,83.3 190.7,56.9 184.6,79.2" fill="#f3d161" fill-opacity="0.92"/>
<polygon points="239.3,70.5 245.4,62.9 253.0,70.8 246.9,58.8" fill="#f4d260" fill-opacity="0.92"/>
<polygon points="353.4,158.1 359.5,161.7 367.1,159.8 360.9,156.2" fill="#505df2" class="c"/>
<polygon points="195.4,146.8 201.5,149.3 209.0,147.1 202.9,144.6" fill="#889bf5" class="c"/>
<polygon points="367.1,159.8 373.2,163.4 380.7,161.6 374.6,158.0" fill="#4252f2" class="c"/>
<polygon points="253.0,70.8 259.1,63.1 266.6,71.0 260.5,59.1" fill="#f4d260" fill-opacity="0.92"/>
<polygon points="266.6,71.0 272.8,73.2 280.3,71.3 274.2,59.3" fill="#f4d260" fill-opacity="0.92"/>
<polygon points="280.3,71.3 286.4,73.5 294.0,71.6 287.9,69.4" fill="#f1cf63" fill-opacity="0.92"/>
<polygon points="294.0,71.6 300.1,83.5 307.7,71.8 301.6,69.7" fill="#f1cf63" fill-opacity="0.92"/>
<polygon points="209.0,147.1 215.2,149.8 222.7,147.6 216.6,145.0" fill="#889af5" class="c"/>
<polygon points="222.7,147.6 228.8,150.4 236.4,148.3 230.3,145.5" fill="#889af5" class="c"/>
<polygon points="236.4,148.3 242.5,151.1 250.1,149.0 244.0,146.1" fill="#8999f5" class="c"/>
<polygon points="307.7,71.8 313.8,74.0 321.4,72.1 315.2,69.9" fill="#f1cf63" fill-opacity="0.92"/>
<polygon points="133.1,148.6 139.2,150.8 146.8,148.6 140.7,146.4" fill="#8999f5" class="c"/>
<polygon points="321.4,72.1 327.5,84.1 335.0,72.4 328.9,70.2" fill="#f1cf63" fill-opacity="0.92"/>
<polygon points="155.8,93.4 161.9,94.8 169.5,56.9 163.4,91.5" fill="#f1ce63" fill-opacity="0.92"/>
<polygon points="250.1,149.0 256.2,152.0 263.8,150.0 257.6,147.0" fill="#8998f5" class="c"/>
<polygon points="146.8,148.6 152.9,150.9 160.5,148.6 154.3,146.4" fill="#8999f5" class="c"/>
<polygon points="263.8,150.0 269.9,153.1 277.4,151.1 271.3,148.0" fill="#8a97f5" class="c"/>
<polygon points="335.0,72.4 341.1,74.5 348.7,72.6 342.6,70.5" fill="#f1cf63" fill-opacity="0.92"/>
<polygon points="277.4,151.1 283.5,154.4 291.1,152.5 285.0,149.1" fill="#8b95f5" class="c"/>
<polygon points="160.5,148.6 166.6,151.0 174.1,148.8 168.0,146.4" fill="#889af5" class="c"/>
<polygon points="291.1,152.5 297.2,155.9 304.8,154.0 298.7,150.5" fill="#8d93f5" class="c"/>
<polygon points="190.7,56.9 196.8,59.0 204.4,62.1 198.3,69.7" fill="#f5f03c" fill-opacity="0.92"/>
<polygon points="204.4,62.1 210.5,64.2 218.1,62.3 211.9,70.0" fill="#f5da58" fill-opacity="0.92"/>
<polygon points="304.8,154.0 310.9,157.6 318.5,155.7 312.3,152.1" fill="#7e85f4" class="c"/>
<polygon points="174.1,148.8 180.2,151.2 187.8,149.0 181.7,146.6" fill="#889af5" class="c"/>
<polygon points="318.5,155.7 324.6,159.5 332.1,157.7 326.0,153.8" fill="#6e77f3" class="c"/>
<polygon points="218.1,62.3 224.2,74.3 231.7,62.6 225.6,60.4" fill="#f5da58" fill-opacity="0.92"/>
<polygon points="332.1,157.7 338.2,161.6 345.8,159.9 339.7,155.8" fill="#5f69f3" class="c"/>
<polygon points="348.7,72.6 354.8,74.8 362.4,72.9 356.3,60.9" fill="#f4d260" fill-opacity="0.92"/>
<polygon points="231.7,62.6 237.8,74.6 245.4,62.9 239.3,70.5" fill="#f5da58" fill-opacity="0.92"/>
<polygon points="148.2,95.3 154.3,96.7 161.9,94.8 155.8,93.4" fill="#93d43b" fill-opacity="0.92"/>
<polygon points="169.5,56.9 175.6,85.2 183.1,83.3 177.0,81.1" fill="#f5f03c" fill-opacity="0.92"/>
<polygon points="345.8,159.9 351.9,163.4 359.5,161.7 353.4,158.1" fill="#505df2" class="c"/>
<polygon points="187.8,149.0 193.9,151.5 201.5,149.3 195.4,146.8" fill="#889af5" class="c"/>
<polygon points="286.4,73.5 292.6,85.4 300.1,83.5 294.0,71.6" fill="#f1cf63" fill-opacity="0.92"/>
<polygon points="359.5,161.7 365.6,165.2 373.2,163.4 367.1,159.8" fill="#4252f2" class="c"/>
<polygon points="245.4,62.9 251.5,74.8 259.1,63.1 253.0,70.8" fill="#f5da58" fill-opacity="0.92"/>
<polygon points="259.1,63.1 265.2,75.1 272.8,73.2 266.6,71.0" fill="#f5da58" fill-opacity="0.92"/>
<polygon points="272.8,73.2 278.9,75.4 286.4,73.5 280.3,71.3" fill="#f1cf63" fill-opacity="0.92"/>
<polygon points="373.2,163.4 379.3,166.9 386.8,165.1 380.7,161.6" fill="#4252f2" class="c"/>
<polygon points="201.5,149.3 207.6,151.9 215.2,149.8 209.0,147.1" fill="#889af5" class="c"/>
<polygon points="300.1,83.5 306.2,85.7 313.8,74.0 307.7,71.8" fill="#e8cf61" fill-opacity="0.92"/>
<polygon points="215.2,149.8 221.3,152.5 228.8,150.4 222.7,147.6" fill="#889af5" class="c"/>
<polygon points="313.8,74.0 319.9,86.0 327.5,84.1 321.4,72.1" fill="#f1cf63" fill-opacity="0.92"/>
<polygon points="228.8,150.4 235.0,153.2 242.5,151.1 236.4,148.3" fill="#8999f5" class="c"/>
<polygon points="125.5,150.9 131.7,153.1 139.2,150.8 133.1,148.6" fill="#8a98f5" class="c"/>
<polygon points="242.5,151.1 248.6,154.1 256.2,152.0 250.1,149.0" fill="#8a98f5" class="c"/>
<polygon points="183.1,83.3 189.3,75.7 196.8,59.0 190.7,56.9" fill="#f3d161" fill-opacity="0.92"/>
<polygon points="139.2,150.8 145.3,153.1 152.9,150.9 146.8,148.6" fill="#8999f5" class="c"/>
<polygon points="327.5,84.1 333.6,76.4 341.1,74.5 335.0,72.4" fill="#e8cf61" fill-opacity="0.92"/>
<polygon points="256.2,152.0 262.3,155.1 269.9,153.1 263.8,150.0" fill="#8a97f5" class="c"/>
<polygon points="269.9,153.1 276.0,156.4 283.5,154.4 277.4,151.1" fill="#8c95f5" class="c"/>
<polygon points="152.9,150.9 159.0,153.2 166.6,151.0 160.5,148.6" fill="#8999f5" class="c"/>
<polygon points="161.9,94.8 168.0,96.9 175.6,85.2 169.5,56.9" fill="#f1ce63" fill-opacity="0.92"/>
<polygon points="283.5,154.4 289.7,157.8 297.2,155.9 291.1,152.5" fill="#8d93f5" class="c"/>
<polygon points="341.1,74.5 347.3,76.7 354.8,74.8 348.7,72.6" fill="#f1cf63" fill-opacity="0.92"/>
<polygon points="224.2,74.3 230.3,76.5 237.8,74.6 231.7,62.6" fill="#f4d260" fill-opacity="0.92"/>
<polygon points="297.2,155.9 303.3,159.5 310.9,157.6 304.8,154.0" fill="#7e85f4" class="c"/>
<polygon points="166.6,151.0 172.7,153.4 180.2,151.2 174.1,148.8" fill="#8999f5" class="c"/>
<polygon points="292.6,85.4 298.7,87.6 306.2,85.7 300.1,83.5" fill="#cfd457" fill-opacity="0.92"/>
<polygon points="310.9,157.6 317.0,161.3 324.6,159.5 318.5,155.7" fill="#6e77f3" class="c"/>
<polygon points="175.6,85.2 181.7,87.4 189.3,75.7 183.1,83.3" fill="#e8cf61" fill-opacity="0.92"/>
<polygon points="210.5,64.2 216.6,66.4 224.2,74.3 218.1,62.3" fill="#f5da58" fill-opacity="0.92"/>
<polygon points="324.6,159.5 330.7,163.4 338.2,161.6 332.1,157.7" fill="#5f69f3" class="c"/>
<polygon points="237.8,74.6 244.0,76.7 251.5,74.8 245.4,62.9" fill="#f4d260" fill-opacity="0.92"/>
<polygon points="140.7,97.2 146.8,98.6 154.3,96.7 148.2,95.3" fill="#93d43b" fill-opacity="0.92"/>
<polygon points="180.2,151.2 186.4,153.6 193.9,151.5 187.8,149.0" fill="#8999f5" class="c"/>
<polygon points="196.8,59.0 202.9,66.1 210.5,64.2 204.4,62.1" fill="#f5f03c" fill-opacity="0.92"/>
<polygon points="338.2,161.6 344.4,165.2 351.9,163.4 345.8,159.9" fill="#505df2" class="c"/>
<polygon points="278.9,75.4 285.0,87.3 292.6,85.4 286.4,73.5" fill="#f1cf63" fill-opacity="0.92"/>
<polygon points="351.9,163.4 358.0,167.0 365.6,165.2 359.5,161.7" fill="#4252f2" class="c"/>
<polygon points="251.5,74.8 257.6,77.0 265.2,75.1 259.1,63.1" fill="#f4d260" fill-opacity="0.92"/>
<polygon points="193.9,151.5 200.0,154.0 207.6,151.9 201.5,149.3" fill="#8999f5" class="c"/>
<polygon points="265.2,75.1 271.3,77.3 278.9,75.4 272.8,73.2" fill="#f1cf63" fill-opacity="0.92"/>
<polygon points="365.6,165.2 371.7,168.7 379.3,166.9 373.2,163.4" fill="#4252f2" class="c"/>
<polygon points="306.2,85.7 312.3,87.9 319.9,86.0 313.8,74.0" fill="#e8cf61" fill-opacity="0.92"/>
<polygon points="379.3,166.9 385.4,170.4 393.0,168.6 386.8,165.1" fill="#4252f2" class="c"/>
<polygon points="354.8,74.8 360.9,67.1 368.5,65.2 362.4,72.9" fill="#f4d260" fill-opacity="0.92"/>
<polygon points="207.6,151.9 213.7,154.6 221.3,152.5 215.2,149.8" fill="#8999f5" class="c"/>
<polygon points="154.3,96.7 160.5,89.0 168.0,96.9 161.9,94.8" fill="#b4d64b" fill-opacity="0.92"/>
<polygon points="319.9,86.0 326.0,88.1 333.6,76.4 327.5,84.1" fill="#e8cf61" fill-opacity="0.92"/>
<polygon points="221.3,152.5 227.4,155.3 235.0,153.2 228.8,150.4" fill="#8999f5" class="c"/>
<polygon points="118.0,153.1 124.1,155.3 131.7,153.1 125.5,150.9" fill="#8a97f5" class="c"/>
<polygon points="235.0,153.2 241.1,156.1 248.6,154.1 242.5,151.1" fill="#8a98f5" class="c"/>
<polygon points="131.7,153.1 137.8,155.3 145.3,153.1 139.2,150.8" fill="#8a98f5" class="c"/>
<polygon points="248.6,154.1 254.7,157.1 262.3,155.1 256.2,152.0" fill="#8b97f5" class="c"/>
<polygon points="262.3,155.1 268.4,158.3 276.0,156.4 269.9,153.1" fill="#8c95f5" class="c"/>
<polygon points="145.3,153.1 151.4,155.4 159.0,153.2 152.9,150.9" fill="#8998f5" class="c"/>
<polygon points="333.6,76.4 339.7,88.4 347.3,76.7 341.1,74.5" fill="#f1cf63" fill-opacity="0.92"/>
<polygon points="189.3,75.7 195.4,77.8 202.9,66.1 196.8,59.0" fill="#f5d45f" fill-opacity="0.92"/>
<polygon points="276.0,156.4 282.1,159.7 289.7,157.8 283.5,154.4" fill="#8d93f5" class="c"/>
<polygon points="168.0,96.9 174.1,79.5 181.7,87.4 175.6,85.2" fill="#cfd457" fill-opacity="0.92"/>
<polygon points="216.6,66.4 222.7,78.4 230.3,76.5 224.2,74.3" fill="#f5da58" fill-opacity="0.92"/>
<polygon points="159.0,153.2 165.1,155.5 172.7,153.4 166.6,151.0" fill="#8999f5" class="c"/>
<polygon points="289.7,157.8 295.8,161.3 303.3,159.5 297.2,155.9" fill="#7e85f4" class="c"/>
<polygon points="230.3,76.5 236.4,78.6 244.0,76.7 237.8,74.6" fill="#f1cf63" fill-opacity="0.92"/>
<polygon points="285.0,87.3 291.1,89.5 298.7,87.6 292.6,85.4" fill="#cfd457" fill-opacity="0.92"/>
<polygon points="303.3,159.5 309.4,163.1 317.0,161.3 310.9,157.6" fill="#6e77f3" class="c"/>
<polygon points="298.7,87.6 304.8,99.6 312.3,87.9 306.2,85.7" fill="#cfd457" fill-opacity="0.92"/>
<polygon points="202.9,66.1 209.0,78.1 216.6,66.4 210.5,64.2" fill="#f5da58" fill-opacity="0.92"/>
<polygon points="317.0,161.3 323.1,165.2 330.7,163.4 324.6,159.5" fill="#5f69f3" class="c"/>
<polygon points="172.7,153.4 178.8,155.8 186.4,153.6 180.2,151.2" fill="#8999f5" class="c"/>
<polygon points="244.0,76.7 250.1,78.9 257.6,77.0 251.5,74.8" fill="#f1cf63" fill-opacity="0.92"/>
<polygon points="257.6,77.0 263.8,89.0 271.3,77.3 265.2,75.1" fill="#f1cf63" fill-opacity="0.92"/>
<polygon points="271.3,77.3 277.4,89.2 285.0,87.3 278.9,75.4" fill="#f1cf63" fill-opacity="0.92"/>
<polygon points="330.7,163.4 336.8,166.9 344.4,165.2 338.2,161.6" fill="#505df2" class="c"/>
<polygon points="344.4,165.2 350.5,168.7 358.0,167.0 351.9,163.4" fill="#4252f2" class="c"/>
<polygon points="347.3,76.7 353.4,78.9 360.9,67.1 354.8,74.8" fill="#f4d260" fill-opacity="0.92"/>
<polygon points="186.4,153.6 192.5,156.2 200.0,154.0 193.9,151.5" fill="#8999f5" class="c"/>
<polygon points="358.0,167.0 364.2,170.4 371.7,168.7 365.6,165.2" fill="#4252f2" class="c"/>
<polygon points="312.3,87.9 318.5,90.0 326.0,88.1 319.9,86.0" fill="#cfd457" fill-opacity="0.92"/>
<polygon points="371.7,168.7 377.8,172.2 385.4,170.4 379.3,166.9" fill="#4252f2" class="c"/>
<polygon points="200.0,154.0 206.1,156.7 213.7,154.6 207.6,151.9" fill="#8999f5" class="c"/>
<polygon points="146.8,98.6 152.9,100.7 160.5,89.0 154.3,96.7" fill="#b4d64b" fill-opacity="0.92"/>
<polygon points="385.4,170.4 391.5,173.8 399.1,172.0 393.0,168.6" fill="#4252f2" class="c"/>
<polygon points="181.7,87.4 187.8,79.7 195.4,77.8 189.3,75.7" fill="#e8cf61" fill-opacity="0.92"/>
<polygon points="213.7,154.6 219.8,157.3 227.4,155.3 221.3,152.5" fill="#8998f5" class="c"/>
<polygon points="110.4,155.3 116.5,157.5 124.1,155.3 118.0,153.1" fill="#8a97f5" class="c"/>
<polygon points="133.1,99.1 139.2,64.5 146.8,98.6 140.7,97.2" fill="#f1ce63" fill-opacity="0.92"/>
<polygon points="326.0,88.1 332.1,90.3 339.7,88.4 333.6,76.4" fill="#e8cf61" fill-opacity="0.92"/>
<polygon points="227.4,155.3 233.5,158.1 241.1,156.1 235.0,153.2" fill="#8a97f5" class="c"/>
<polygon points="360.9,67.1 367.1,79.1 374.6,67.4 368.5,65.2" fill="#f5da58" fill-opacity="0.92"/>
<polygon points="124.1,155.3 130.2,157.5 137.8,155.3 131.7,153.1" fill="#8a97f5" class="c"/>
<polygon points="241.1,156.1 247.2,159.1 254.7,157.1 248.6,154.1" fill="#8b96f5" class="c"/>
<polygon points="160.5,89.0 166.6,101.0 174.1,79.5 168.0,96.9" fill="#e8cf61" fill-opacity="0.92"/>
<polygon points="137.8,155.3 143.9,157.6 151.4,155.4 145.3,153.1" fill="#8a98f5" class="c"/>
<polygon points="254.7,157.1 260.9,160.3 268.4,158.3 262.3,155.1" fill="#8c95f5" class="c"/>
<polygon points="195.4,77.8 201.5,80.0 209.0,78.1 202.9,66.1" fill="#f4d260" fill-opacity="0.92"/>
<polygon points="263.8,89.0 269.9,100.9 277.4,89.2 271.3,77.3" fill="#e8cf61" fill-opacity="0.92"/>
<polygon points="268.4,158.3 274.5,161.6 282.1,159.7 276.0,156.4" fill="#8d93f5" class="c"/>
<polygon points="277.4,89.2 283.5,101.2 291.1,89.5 285.0,87.3" fill="#cfd457" fill-opacity="0.92"/>
<polygon points="291.1,89.5 297.2,101.5 304.8,99.6 298.7,87.6" fill="#cfd457" fill-opacity="0.92"/>
<polygon points="151.4,155.4 157.6,157.7 165.1,155.5 159.0,153.2" fill="#8998f5" class="c"/>
<polygon points="209.0,78.1 215.2,80.3 222.7,78.4 216.6,66.4" fill="#f4d260" fill-opacity="0.92"/>
<polygon points="339.7,88.4 345.8,80.8 353.4,78.9 347.3,76.7" fill="#e8cf61" fill-opacity="0.92"/>
<polygon points="282.1,159.7 288.2,163.2 295.8,161.3 289.7,157.8" fill="#7e85f4" class="c"/>
<polygon points="222.7,78.4 228.8,80.5 236.4,78.6 230.3,76.5" fill="#f1cf63" fill-opacity="0.92"/>
<polygon points="250.1,78.9 256.2,90.9 263.8,89.0 257.6,77.0" fill="#f1cf63" fill-opacity="0.92"/>
<polygon points="295.8,161.3 301.9,164.9 309.4,163.1 303.3,159.5" fill="#6e77f3" class="c"/>
<polygon points="165.1,155.5 171.2,158.0 178.8,155.8 172.7,153.4" fill="#8998f5" class="c"/>
<polygon points="309.4,163.1 315.6,166.9 323.1,165.2 317.0,161.3" fill="#5f69f3" class="c"/>
<polygon points="236.4,78.6 242.5,80.8 250.1,78.9 244.0,76.7" fill="#f1cf63" fill-opacity="0.92"/>
<polygon points="323.1,165.2 329.2,168.6 336.8,166.9 330.7,163.4" fill="#505df2" class="c"/>
<polygon points="304.8,99.6 310.9,91.9 318.5,90.0 312.3,87.9" fill="#b4d64b" fill-opacity="0.92"/>
<polygon points="336.8,166.9 342.9,170.4 350.5,168.7 344.4,165.2" fill="#4252f2" class="c"/>
<polygon points="178.8,155.8 184.9,158.3 192.5,156.2 186.4,153.6" fill="#8998f5" class="c"/>
<polygon points="350.5,168.7 356.6,172.1 364.2,170.4 358.0,167.0" fill="#4252f2" class="c"/>
<polygon points="364.2,170.4 370.3,173.9 377.8,172.2 371.7,168.7" fill="#4252f2" class="c"/>
<polygon points="192.5,156.2 198.6,158.8 206.1,156.7 200.0,154.0" fill="#8998f5" class="c"/>
<polygon points="353.4,78.9 359.5,81.0 367.1,79.1 360.9,67.1" fill="#f4d260" fill-opacity="0.92"/>
<polygon points="377.8,172.2 383.9,175.6 391.5,173.8 385.4,170.4" fill="#4252f2" class="c"/>
<polygon points="174.1,79.5 180.2,81.6 187.8,79.7 181.7,87.4" fill="#f1cf63" fill-opacity="0.92"/>
<polygon points="318.5,90.0 324.6,92.2 332.1,90.3 326.0,88.1" fill="#cfd457" fill-opacity="0.92"/>
<polygon points="102.9,157.6 109.0,159.7 116.5,157.5 110.4,155.3" fill="#8b96f5" class="c"/>
<polygon points="391.5,173.8 397.6,177.2 405.2,175.4 399.1,172.0" fill="#4252f2" class="c"/>
<polygon points="206.1,156.7 212.3,159.4 219.8,157.3 213.7,154.6" fill="#8a98f5" class="c"/>
<polygon points="152.9,100.7 159.0,102.9 166.6,101.0 160.5,89.0" fill="#b4d64b" fill-opacity="0.92"/>
<polygon points="125.5,101.0 131.7,102.4 139.2,64.5 133.1,99.1" fill="#f1ce63" fill-opacity="0.92"/>
<polygon points="187.8,79.7 193.9,91.7 201.5,80.0 195.4,77.8" fill="#f1cf63" fill-opacity="0.92"/>
<polygon points="219.8,157.3 225.9,160.2 233.5,158.1 227.4,155.3" fill="#8a97f5" class="c"/>
<polygon points="116.5,157.5 122.6,159.7 130.2,157.5 124.1,155.3" fill="#8a97f5" class="c"/>
<polygon points="256.2,90.9 262.3,102.8 269.9,100.9 263.8,89.0" fill="#cfd457" fill-opacity="0.92"/>
<polygon points="269.9,100.9 276.0,103.1 283.5,101.2 277.4,89.2" fill="#b4d64b" fill-opacity="0.92"/>
<polygon points="283.5,101.2 289.7,113.2 297.2,101.5 291.1,89.5" fill="#b4d64b" fill-opacity="0.92"/>
<polygon points="233.5,158.1 239.6,161.1 247.2,159.1 241.1,156.1" fill="#8b96f5" class="c"/>
<polygon points="201.5,80.0 207.6,92.0 215.2,80.3 209.0,78.1" fill="#f1cf63" fill-opacity="0.92"/>
<polygon points="332.1,90.3 338.2,92.5 345.8,80.8 339.7,88.4" fill="#e8cf61" fill-opacity="0.92"/>
<polygon points="139.2,64.5 145.3,102.6 152.9,100.7 146.8,98.6" fill="#f5f03c" fill-opacity="0.92"/>
<polygon points="367.1,79.1 373.2,71.5 380.7,69.6 374.6,67.4" fill="#f4d260" fill-opacity="0.92"/>
<polygon points="130.2,157.5 136.3,159.8 143.9,157.6 137.8,155.3" fill="#8a97f5" class="c"/>
<polygon points="247.2,159.1 253.3,162.2 260.9,160.3 254.7,157.1" fill="#8c95f5" class="c"/>
<polygon points="215.2,80.3 221.3,92.2 228.8,80.5 222.7,78.4" fill="#f1cf63" fill-opacity="0.92"/>
<polygon points="260.9,160.3 267.0,163.5 274.5,161.6 268.4,158.3" fill="#8d93f5" class="c"/>
<polygon points="143.9,157.6 150.0,159.9 157.6,157.7 151.4,155.4" fill="#8a98f5" class="c"/>
<polygon points="297.2,101.5 303.3,103.6 310.9,91.9 304.8,99.6" fill="#b4d64b" fill-opacity="0.92"/>
<polygon points="274.5,161.6 280.6,165.0 288.2,163.2 282.1,159.7" fill="#7e85f4" class="c"/>
<polygon points="228.8,80.5 235.0,92.5 242.5,80.8 236.4,78.6" fill="#f1cf63" fill-opacity="0.92"/>
<polygon points="242.5,80.8 248.6,92.8 256.2,90.9 250.1,78.9" fill="#f1cf63" fill-opacity="0.92"/>
<polygon points="288.2,163.2 294.3,166.7 301.9,164.9 295.8,161.3" fill="#6f77f3" class="c"/>
<polygon points="157.6,157.7 163.7,160.1 171.2,158.0 165.1,155.5" fill="#8a98f5" class="c"/>
<polygon points="301.9,164.9 308.0,168.6 315.6,166.9 309.4,163.1" fill="#5f6af3" class="c"/>
<polygon points="118.0,102.9 124.1,104.3 131.7,102.4 125.5,101.0" fill="#93d43b" fill-opacity="0.92"/>
<polygon points="345.8,80.8 351.9,92.7 359.5,81.0 353.4,78.9" fill="#f1cf63" fill-opacity="0.92"/>
<polygon points="315.6,166.9 321.7,170.3 329.2,168.6 323.1,165.2" fill="#505df2" class="c"/>
<polygon points="166.6,101.0 172.7,93.3 180.2,81.6 174.1,79.5" fill="#cfd457" fill-opacity="0.92"/>
<polygon points="171.2,158.0 177.3,160.4 184.9,158.3 178.8,155.8" fill="#8a98f5" class="c"/>
<polygon points="329.2,168.6 335.4,172.1 342.9,170.4 336.8,166.9" fill="#4252f2" class="c"/>
<polygon points="145.3,102.6 151.4,114.6 159.0,102.9 152.9,100.7" fill="#96d53c" fill-opacity="0.92"/>
<polygon points="342.9,170.4 349.0,173.8 356.6,172.1 350.5,168.7" fill="#4252f2" class="c"/>
<polygon points="310.9,91.9 317.0,103.9 324.6,92.2 318.5,90.0" fill="#cfd457" fill-opacity="0.92"/>
<polygon points="184.9,158.3 191.0,160.9 198.6,158.8 192.5,156.2" fill="#8a98f5" class="c"/>
<polygon points="356.6,172.1 362.7,175.6 370.3,173.9 364.2,170.4" fill="#4252f2" class="c"/>
<polygon points="262.3,102.8 268.4,114.8 276.0,103.1 269.9,100.9" fill="#96d53c" fill-opacity="0.92"/>
<polygon points="276.0,103.1 282.1,115.1 289.7,113.2 283.5,101.2" fill="#96d53c" fill-opacity="0.92"/>
<polygon points="370.3,173.9 376.4,177.3 383.9,175.6 377.8,172.2" fill="#4252f2" class="c"/>
<polygon points="193.9,91.7 200.0,93.9 207.6,92.0 201.5,80.0" fill="#e8cf61" fill-opacity="0.92"/>
<polygon points="95.3,159.8 101.4,162.0 109.0,159.7 102.9,157.6" fill="#8b96f5" class="c"/>
<polygon points="198.6,158.8 204.7,161.5 212.3,159.4 206.1,156.7" fill="#8a97f5" class="c"/>
<polygon points="383.9,175.6 390.1,178.9 397.6,177.2 391.5,173.8" fill="#4252f2" class="c"/>
<polygon points="359.5,81.0 365.6,83.2 373.2,71.5 367.1,79.1" fill="#f4d260" fill-opacity="0.92"/>
<polygon points="397.6,177.2 403.7,180.5 411.3,178.7 405.2,175.4" fill="#4252f2" class="c"/>
<polygon points="180.2,81.6 186.4,83.8 193.9,91.7 187.8,79.7" fill="#f1cf63" fill-opacity="0.92"/>
<polygon points="324.6,92.2 330.7,94.4 338.2,92.5 332.1,90.3" fill="#cfd457" fill-opacity="0.92"/>
<polygon points="212.3,159.4 218.4,162.2 225.9,160.2 219.8,157.3" fill="#8b97f5" class="c"/>
<polygon points="207.6,92.0 213.7,94.1 221.3,92.2 215.2,80.3" fill="#e8cf61" fill-opacity="0.92"/>
<polygon points="131.7,102.4 137.8,114.3 145.3,102.6 139.2,64.5" fill="#f1ce63" fill-opacity="0.92"/>
<polygon points="109.0,159.7 115.1,161.9 122.6,159.7 116.5,157.5" fill="#8b96f5" class="c"/>
<polygon points="248.6,92.8 254.7,104.7 262.3,102.8 256.2,90.9" fill="#cfd457" fill-opacity="0.92"/>
<polygon points="159.0,102.9 165.1,105.0 172.7,93.3 166.6,101.0" fill="#b4d64b" fill-opacity="0.92"/>
<polygon points="289.7,113.2 295.8,105.5 303.3,103.6 297.2,101.5" fill="#70d24e" fill-opacity="0.92"/>
<polygon points="225.9,160.2 232.1,163.1 239.6,161.1 233.5,158.1" fill="#8b96f5" class="c"/>
<polygon points="221.3,92.2 227.4,94.4 235.0,92.5 228.8,80.5" fill="#e8cf61" fill-opacity="0.92"/>
<polygon points="122.6,159.7 128.8,162.0 136.3,159.8 130.2,157.5" fill="#8b97f5" class="c"/>
<polygon points="239.6,161.1 245.7,164.1 253.3,162.2 247.2,159.1" fill="#8c95f5" class="c"/>
<polygon points="338.2,92.5 344.4,94.6 351.9,92.7 345.8,80.8" fill="#e8cf61" fill-opacity="0.92"/>
<polygon points="235.0,92.5 241.1,94.7 248.6,92.8 242.5,80.8" fill="#e8cf61" fill-opacity="0.92"/>
<polygon points="373.2,71.5 379.3,83.5 386.8,71.7 380.7,69.6" fill="#f5da58" fill-opacity="0.92"/>
<polygon points="253.3,162.2 259.4,165.4 267.0,163.5 260.9,160.3" fill="#8d93f5" class="c"/>
<polygon points="136.3,159.8 142.4,162.1 150.0,159.9 143.9,157.6" fill="#8a97f5" class="c"/>
<polygon points="267.0,163.5 273.1,166.8 280.6,165.0 274.5,161.6" fill="#7e85f4" class="c"/>
<polygon points="280.6,165.0 286.8,168.5 294.3,166.7 288.2,163.2" fill="#6f77f3" class="c"/>
<polygon points="150.0,159.9 156.1,162.3 163.7,160.1 157.6,157.7" fill="#8a97f5" class="c"/>
<polygon points="303.3,103.6 309.4,105.8 317.0,103.9 310.9,91.9" fill="#b4d64b" fill-opacity="0.92"/>
<polygon points="110.4,104.8 116.5,106.2 124.1,104.3 118.0,102.9" fill="#93d43b" fill-opacity="0.92"/>
<polygon points="294.3,166.7 300.4,170.3 308.0,168.6 301.9,164.9" fill="#5f6af3" class="c"/>
<polygon points="124.1,104.3 130.2,106.4 137.8,114.3 131.7,102.4" fill="#96d53c" fill-opacity="0.92"/>
<polygon points="137.8,114.3 143.9,106.7 151.4,114.6 145.3,102.6" fill="#70d24e" fill-opacity="0.92"/>
<polygon points="308.0,168.6 314.1,172.0 321.7,170.3 315.6,166.9" fill="#505df2" class="c"/>
<polygon points="163.7,160.1 169.8,162.6 177.3,160.4 171.2,158.0" fill="#8a97f5" class="c"/>
<polygon points="321.7,170.3 327.8,173.8 335.4,172.1 329.2,168.6" fill="#4252f2" class="c"/>
<polygon points="351.9,92.7 358.0,85.1 365.6,83.2 359.5,81.0" fill="#e8cf61" fill-opacity="0.92"/>
<polygon points="254.7,104.7 260.9,116.7 268.4,114.8 262.3,102.8" fill="#96d53c" fill-opacity="0.92"/>
<polygon points="268.4,114.8 274.5,117.0 282.1,115.1 276.0,103.1" fill="#70d24e" fill-opacity="0.92"/>
<polygon points="335.4,172.1 341.5,175.5 349.0,173.8 342.9,170.4" fill="#4252f2" class="c"/>
<polygon points="172.7,93.3 178.8,105.3 186.4,83.8 180.2,81.6" fill="#e8cf61" fill-opacity="0.92"/>
<polygon points="186.4,83.8 192.5,105.6 200.0,93.9 193.9,91.7" fill="#f1cf63" fill-opacity="0.92"/>
<polygon points="177.3,160.4 183.5,163.0 191.0,160.9 184.9,158.3" fill="#8a97f5" class="c"/>
<polygon points="317.0,103.9 323.1,106.1 330.7,94.4 324.6,92.2" fill="#b4d64b" fill-opacity="0.92"/>
<polygon points="200.0,93.9 206.1,105.8 213.7,94.1 207.6,92.0" fill="#cfd457" fill-opacity="0.92"/>
<polygon points="349.0,173.8 355.1,177.2 362.7,175.6 356.6,172.1" fill="#4252f2" class="c"/>
<polygon points="151.4,114.6 157.6,106.9 165.1,105.0 159.0,102.9" fill="#70d24e" fill-opacity="0.92"/>
<polygon points="362.7,175.6 368.8,178.9 376.4,177.3 370.3,173.9" fill="#4252f2" class="c"/>
<polygon points="282.1,115.1 288.2,117.3 295.8,105.5 289.7,113.2" fill="#70d24e" fill-opacity="0.92"/>
<polygon points="87.7,162.0 93.8,164.2 101.4,162.0 95.3,159.8" fill="#8c95f5" class="c"/>
<polygon points="191.0,160.9 197.1,163.5 204.7,161.5 198.6,158.8" fill="#8a97f5" class="c"/>
<polygon points="213.7,94.1 219.8,106.1 227.4,94.4 221.3,92.2" fill="#cfd457" fill-opacity="0.92"/>
<polygon points="376.4,177.3 382.5,180.6 390.1,178.9 383.9,175.6" fill="#4252f2" class="c"/>
<polygon points="241.1,94.7 247.2,116.5 254.7,104.7 248.6,92.8" fill="#cfd457" fill-opacity="0.92"/>
<polygon points="390.1,178.9 396.2,182.3 403.7,180.5 397.6,177.2" fill="#4252f2" class="c"/>
<polygon points="204.7,161.5 210.8,164.2 218.4,162.2 212.3,159.4" fill="#8b96f5" class="c"/>
<polygon points="101.4,162.0 107.5,164.2 115.1,161.9 109.0,159.7" fill="#8b96f5" class="c"/>
<polygon points="330.7,94.4 336.8,106.3 344.4,94.6 338.2,92.5" fill="#cfd457" fill-opacity="0.92"/>
<polygon points="227.4,94.4 233.5,106.4 241.1,94.7 235.0,92.5" fill="#cfd457" fill-opacity="0.92"/>
<polygon points="403.7,180.5 409.8,183.8 417.4,182.0 411.3,178.7" fill="#4252f2" class="c"/>
<polygon points="365.6,83.2 371.7,85.4 379.3,83.5 373.2,71.5" fill="#f4d260" fill-opacity="0.92"/>
<polygon points="218.4,162.2 224.5,165.0 232.1,163.1 225.9,160.2" fill="#8b96f5" class="c"/>
<polygon points="115.1,161.9 121.2,164.2 128.8,162.0 122.6,159.7" fill="#8b96f5" class="c"/>
<polygon points="232.1,163.1 238.2,166.1 245.7,164.1 239.6,161.1" fill="#8c94f5" class="c"/>
<polygon points="165.1,105.0 171.2,107.2 178.8,105.3 172.7,93.3" fill="#b4d64b" fill-opacity="0.92"/>
<polygon points="295.8,105.5 301.9,117.5 309.4,105.8 303.3,103.6" fill="#96d53c" fill-opacity="0.92"/>
<polygon points="245.7,164.1 251.8,167.2 259.4,165.4 253.3,162.2" fill="#8d93f5" class="c"/>
<polygon points="128.8,162.0 134.9,164.3 142.4,162.1 136.3,159.8" fill="#8b97f5" class="c"/>
<polygon points="259.4,165.4 265.5,168.6 273.1,166.8 267.0,163.5" fill="#7e85f4" class="c"/>
<polygon points="344.4,94.6 350.5,96.8 358.0,85.1 351.9,92.7" fill="#e8cf61" fill-opacity="0.92"/>
<polygon points="379.3,83.5 385.4,75.8 393.0,73.9 386.8,71.7" fill="#f4d260" fill-opacity="0.92"/>
<polygon points="260.9,116.7 267.0,128.7 274.5,117.0 268.4,114.8" fill="#4ecf6c" fill-opacity="0.92"/>
<polygon points="142.4,162.1 148.5,164.4 156.1,162.3 150.0,159.9" fill="#8a97f5" class="c"/>
<polygon points="273.1,166.8 279.2,170.2 286.8,168.5 280.6,165.0" fill="#6f77f3" class="c"/>
<polygon points="178.8,105.3 184.9,107.5 192.5,105.6 186.4,83.8" fill="#cfd457" fill-opacity="0.92"/>
<polygon points="309.4,105.8 315.6,108.0 323.1,106.1 317.0,103.9" fill="#96d53c" fill-opacity="0.92"/>
<polygon points="192.5,105.6 198.6,107.7 206.1,105.8 200.0,93.9" fill="#b4d64b" fill-opacity="0.92"/>
<polygon points="286.8,168.5 292.9,172.1 300.4,170.3 294.3,166.7" fill="#5f6af3" class="c"/>
<polygon points="116.5,106.2 122.6,118.1 130.2,106.4 124.1,104.3" fill="#96d53c" fill-opacity="0.92"/>
<polygon points="247.2,116.5 253.3,118.6 260.9,116.7 254.7,104.7" fill="#70d24e" fill-opacity="0.92"/>
<polygon points="130.2,106.4 136.3,118.4 143.9,106.7 137.8,114.3" fill="#96d53c" fill-opacity="0.92"/>
<polygon points="300.4,170.3 306.6,173.7 314.1,172.0 308.0,168.6" fill="#505df2" class="c"/>
<polygon points="156.1,162.3 162.2,164.7 169.8,162.6 163.7,160.1" fill="#8a97f5" class="c"/>
<polygon points="206.1,105.8 212.3,108.0 219.8,106.1 213.7,94.1" fill="#b4d64b" fill-opacity="0.92"/>
<polygon points="314.1,172.0 320.2,175.4 327.8,173.8 321.7,170.3" fill="#4252f2" class="c"/>
<polygon points="233.5,106.4 239.6,118.4 247.2,116.5 241.1,94.7" fill="#b4d64b" fill-opacity="0.92"/>
<polygon points="143.9,106.7 150.0,118.7 157.6,106.9 151.4,114.6" fill="#96d53c" fill-opacity="0.92"/>
<polygon points="274.5,117.0 280.6,119.2 288.2,117.3 282.1,115.1" fill="#4ecf6c" fill-opacity="0.92"/>
<polygon points="327.8,173.8 333.9,177.1 341.5,175.5 335.4,172.1" fill="#4252f2" class="c"/>
<polygon points="169.8,162.6 175.9,165.1 183.5,163.0 177.3,160.4" fill="#8a97f5" class="c"/>
<polygon points="323.1,106.1 329.2,108.2 336.8,106.3 330.7,94.4" fill="#b4d64b" fill-opacity="0.92"/>
<polygon points="219.8,106.1 225.9,108.3 233.5,106.4 227.4,94.4" fill="#b4d64b" fill-opacity="0.92"/>
<polygon points="341.5,175.5 347.6,178.8 355.1,177.2 349.0,173.8" fill="#4252f2" class="c"/>
<polygon points="355.1,177.2 361.3,180.6 368.8,178.9 362.7,175.6" fill="#4252f2" class="c"/>
<polygon points="183.5,163.0 189.6,165.6 197.1,163.5 191.0,160.9" fill="#8b97f5" class="c"/>
<polygon points="368.8,178.9 374.9,182.3 382.5,180.6 376.4,177.3" fill="#4252f2" class="c"/>
<polygon points="358.0,85.1 364.2,87.3 371.7,85.4 365.6,83.2" fill="#f1cf63" fill-opacity="0.92"/>
<polygon points="157.6,106.9 163.7,118.9 171.2,107.2 165.1,105.0" fill="#96d53c" fill-opacity="0.92"/>
<polygon points="102.9,106.7 109.0,72.1 116.5,106.2 110.4,104.8" fill="#f1ce63" fill-opacity="0.92"/>
<polygon points="288.2,117.3 294.3,119.4 301.9,117.5 295.8,105.5" fill="#70d24e" fill-opacity="0.92"/>
<polygon points="382.5,180.6 388.6,183.9 396.2,182.3 390.1,178.9" fill="#4252f2" class="c"/>
<polygon points="197.1,163.5 203.3,166.2 210.8,164.2 204.7,161.5" fill="#8b96f5" class="c"/>
<polygon points="93.8,164.2 100.0,166.4 107.5,164.2 101.4,162.0" fill="#8c95f5" class="c"/>
<polygon points="396.2,182.3 402.3,185.5 409.8,183.8 403.7,180.5" fill="#4252f2" class="c"/>
<polygon points="210.8,164.2 216.9,167.0 224.5,165.0 218.4,162.2" fill="#8c95f5" class="c"/>
<polygon points="171.2,107.2 177.3,119.2 184.9,107.5 178.8,105.3" fill="#96d53c" fill-opacity="0.92"/>
<polygon points="409.8,183.8 416.0,187.1 423.5,185.3 417.4,182.0" fill="#4252f2" class="c"/>
<polygon points="107.5,164.2 113.6,166.4 121.2,164.2 115.1,161.9" fill="#8b96f5" class="c"/>
<polygon points="336.8,106.3 342.9,98.7 350.5,96.8 344.4,94.6" fill="#b4d64b" fill-opacity="0.92"/>
<polygon points="224.5,165.0 230.6,168.0 238.2,166.1 232.1,163.1" fill="#8c94f5" class="c"/>
<polygon points="301.9,117.5 308.0,119.7 315.6,108.0 309.4,105.8" fill="#70d24e" fill-opacity="0.92"/>
<polygon points="184.9,107.5 191.0,119.5 198.6,107.7 192.5,105.6" fill="#96d53c" fill-opacity="0.92"/>
<polygon points="121.2,164.2 127.3,166.5 134.9,164.3 128.8,162.0" fill="#8b96f5" class="c"/>
<polygon points="238.2,166.1 244.3,169.1 251.8,167.2 245.7,164.1" fill="#8d93f5" class="c"/>
<polygon points="239.6,118.4 245.7,130.3 253.3,118.6 247.2,116.5" fill="#4ecf6c" fill-opacity="0.92"/>
<polygon points="371.7,85.4 377.8,77.7 385.4,75.8 379.3,83.5" fill="#f4d260" fill-opacity="0.92"/>
<polygon points="253.3,118.6 259.4,130.6 267.0,128.7 260.9,116.7" fill="#4ecf6c" fill-opacity="0.92"/>
<polygon points="80.2,137.7 86.3,151.4 93.8,164.2 87.7,162.0" fill="#6abaf5" class="c"/>
<polygon points="198.6,107.7 204.7,119.7 212.3,108.0 206.1,105.8" fill="#96d53c" fill-opacity="0.92"/>
<polygon points="251.8,167.2 258.0,170.5 265.5,168.6 259.4,165.4" fill="#7e85f4" class="c"/>
<polygon points="122.6,118.1 128.8,120.3 136.3,118.4 130.2,106.4" fill="#70d24e" fill-opacity="0.92"/>
<polygon points="134.9,164.3 141.0,166.6 148.5,164.4 142.4,162.1" fill="#8b96f5" class="c"/>
<polygon points="267.0,128.7 273.1,130.9 280.6,119.2 274.5,117.0" fill="#37cd82" fill-opacity="0.92"/>
<polygon points="265.5,168.6 271.6,172.0 279.2,170.2 273.1,166.8" fill="#6f77f3" class="c"/>
<polygon points="212.3,108.0 218.4,120.0 225.9,108.3 219.8,106.1" fill="#96d53c" fill-opacity="0.92"/>
<polygon points="279.2,170.2 285.3,173.7 292.9,172.1 286.8,168.5" fill="#5f6af3" class="c"/>
<polygon points="225.9,108.3 232.1,120.3 239.6,118.4 233.5,106.4" fill="#96d53c" fill-opacity="0.92"/>
<polygon points="136.3,118.4 142.4,120.6 150.0,118.7 143.9,106.7" fill="#70d24e" fill-opacity="0.92"/>
<polygon points="148.5,164.4 154.7,166.8 162.2,164.7 156.1,162.3" fill="#8b97f5" class="c"/>
<polygon points="292.9,172.1 299.0,175.4 306.6,173.7 300.4,170.3" fill="#505df2" class="c"/>
<polygon points="315.6,108.0 321.7,110.1 329.2,108.2 323.1,106.1" fill="#96d53c" fill-opacity="0.92"/>
<polygon points="306.6,173.7 312.7,177.0 320.2,175.4 314.1,172.0" fill="#4252f2" class="c"/>
<polygon points="350.5,96.8 356.6,99.0 364.2,87.3 358.0,85.1" fill="#e8cf61" fill-opacity="0.92"/>
<polygon points="385.4,75.8 391.5,78.0 399.1,76.1 393.0,73.9" fill="#f5da58" fill-opacity="0.92"/>
<polygon points="150.0,118.7 156.1,120.8 163.7,118.9 157.6,106.9" fill="#70d24e" fill-opacity="0.92"/>
<polygon points="162.2,164.7 168.3,167.2 175.9,165.1 169.8,162.6" fill="#8b97f5" class="c"/>
<polygon points="320.2,175.4 326.3,178.7 333.9,177.1 327.8,173.8" fill="#4252f2" class="c"/>
<polygon points="333.9,177.1 340.0,180.4 347.6,178.8 341.5,175.5" fill="#4252f2" class="c"/>
<polygon points="280.6,119.2 286.8,121.3 294.3,119.4 288.2,117.3" fill="#4ecf6c" fill-opacity="0.92"/>
<polygon points="175.9,165.1 182.0,167.6 189.6,165.6 183.5,163.0" fill="#8b96f5" class="c"/>
<polygon points="163.7,118.9 169.8,121.1 177.3,119.2 171.2,107.2" fill="#70d24e" fill-opacity="0.92"/>
<polygon points="347.6,178.8 353.7,182.2 361.3,180.6 355.1,177.2" fill="#4252f2" class="c"/>
<polygon points="109.0,72.1 115.1,120.0 122.6,118.1 116.5,106.2" fill="#f5f03c" fill-opacity="0.92"/>
<polygon points="329.2,108.2 335.4,110.4 342.9,98.7 336.8,106.3" fill="#b4d64b" fill-opacity="0.92"/>
<polygon points="361.3,180.6 367.4,183.9 374.9,182.3 368.8,178.9" fill="#4252f2" class="c"/>
<polygon points="95.3,108.6 101.4,110.0 109.0,72.1 102.9,106.7" fill="#f1ce63" fill-opacity="0.92"/>
<polygon points="189.6,165.6 195.7,168.2 203.3,166.2 197.1,163.5" fill="#8b96f5" class="c"/>
<polygon points="294.3,119.4 300.4,121.6 308.0,119.7 301.9,117.5" fill="#4ecf6c" fill-opacity="0.92"/>
<polygon points="177.3,119.2 183.5,121.4 191.0,119.5 184.9,107.5" fill="#70d24e" fill-opacity="0.92"/>
<polygon points="374.9,182.3 381.0,185.5 388.6,183.9 382.5,180.6" fill="#4252f2" class="c"/>
<polygon points="191.0,119.5 197.1,131.4 204.7,119.7 198.6,107.7" fill="#70d24e" fill-opacity="0.92"/>
<polygon points="388.6,183.9 394.7,187.2 402.3,185.5 396.2,182.3" fill="#4252f2" class="c"/>
<polygon points="203.3,166.2 209.4,169.0 216.9,167.0 210.8,164.2" fill="#8c95f5" class="c"/>
<polygon points="100.0,166.4 106.1,168.6 113.6,166.4 107.5,164.2" fill="#8c95f5" class="c"/>
<polygon points="402.3,185.5 408.4,188.8 416.0,187.1 409.8,183.8" fill="#4252f2" class="c"/>
<polygon points="86.3,151.4 92.4,168.6 100.0,166.4 93.8,164.2" fill="#78b0f5" class="c"/>
<polygon points="232.1,120.3 238.2,132.2 245.7,130.3 239.6,118.4" fill="#4ecf6c" fill-opacity="0.92"/>
<polygon points="364.2,87.3 370.3,89.4 377.8,77.7 371.7,85.4" fill="#f4d260" fill-opacity="0.92"/>
<polygon points="245.7,130.3 251.8,132.5 259.4,130.6 253.3,118.6" fill="#37cd82" fill-opacity="0.92"/>
<polygon points="216.9,167.0 223.0,169.9 230.6,168.0 224.5,165.0" fill="#8c94f5" class="c"/>
<polygon points="259.4,130.6 265.5,132.8 273.1,130.9 267.0,128.7" fill="#2bc6a5" fill-opacity="0.92"/>
<polygon points="115.1,120.0 121.2,130.0 128.8,120.3 122.6,118.1" fill="#4ecf6c" fill-opacity="0.92"/>
<polygon points="416.0,187.1 422.1,190.3 429.6,188.5 423.5,185.3" fill="#4252f2" class="c"/>
<polygon points="204.7,119.7 210.8,121.9 218.4,120.0 212.3,108.0" fill="#70d24e" fill-opacity="0.92"/>
<polygon points="113.6,166.4 119.7,168.6 127.3,166.5 121.2,164.2" fill="#8b95f5" class="c"/>
<polygon points="128.8,120.3 134.9,134.6 142.4,120.6 136.3,118.4" fill="#4ecf6c" fill-opacity="0.92"/>
<polygon points="230.6,168.0 236.7,171.0 244.3,169.1 238.2,166.1" fill="#8d93f5" class="c"/>
<polygon points="308.0,119.7 314.1,121.9 321.7,110.1 315.6,108.0" fill="#70d24e" fill-opacity="0.92"/>
<polygon points="244.3,169.1 250.4,172.3 258.0,170.5 251.8,167.2" fill="#7e85f4" class="c"/>
<polygon points="57.5,204.8 63.6,206.9 71.2,183.8 65.0,195.5" fill="#6c60da" class="c"/>
<polygon points="218.4,120.0 224.5,122.2 232.1,120.3 225.9,108.3" fill="#70d24e" fill-opacity="0.92"/>
<polygon points="342.9,98.7 349.0,100.9 356.6,99.0 350.5,96.8" fill="#cfd457" fill-opacity="0.92"/>
<polygon points="127.3,166.5 133.4,168.8 141.0,166.6 134.9,164.3" fill="#8b96f5" class="c"/>
<polygon points="142.4,120.6 148.5,132.5 156.1,120.8 150.0,118.7" fill="#4ecf6c" fill-opacity="0.92"/>
<polygon points="258.0,170.5 264.1,173.7 271.6,172.0 265.5,168.6" fill="#6f77f3" class="c"/>
<polygon points="87.7,110.5 93.8,111.9 101.4,110.0 95.3,108.6" fill="#93d43b" fill-opacity="0.92"/>
<polygon points="271.6,172.0 277.7,175.4 285.3,173.7 279.2,170.2" fill="#5f6af3" class="c"/>
<polygon points="141.0,166.6 147.1,169.0 154.7,166.8 148.5,164.4" fill="#8b96f5" class="c"/>
<polygon points="377.8,77.7 383.9,89.7 391.5,78.0 385.4,75.8" fill="#f5da58" fill-opacity="0.92"/>
<polygon points="273.1,130.9 279.2,133.0 286.8,121.3 280.6,119.2" fill="#37cd82" fill-opacity="0.92"/>
<polygon points="156.1,120.8 162.2,132.8 169.8,121.1 163.7,118.9" fill="#4ecf6c" fill-opacity="0.92"/>
<polygon points="285.3,173.7 291.4,177.0 299.0,175.4 292.9,172.1" fill="#505df2" class="c"/>
<polygon points="299.0,175.4 305.1,178.7 312.7,177.0 306.6,173.7" fill="#4252f2" class="c"/>
<polygon points="65.0,195.5 71.2,183.8 78.7,168.6 72.6,134.7" fill="#7b76ec" class="c"/>
<polygon points="154.7,166.8 160.8,169.3 168.3,167.2 162.2,164.7" fill="#8b96f5" class="c"/>
<polygon points="169.8,121.1 175.9,133.1 183.5,121.4 177.3,119.2" fill="#4ecf6c" fill-opacity="0.92"/>
<polygon points="312.7,177.0 318.8,180.3 326.3,178.7 320.2,175.4" fill="#4252f2" class="c"/>
<polygon points="183.5,121.4 189.6,133.3 197.1,131.4 191.0,119.5" fill="#4ecf6c" fill-opacity="0.92"/>
<polygon points="72.6,134.7 78.7,168.6 86.3,151.4 80.2,137.7" fill="#64bef5" class="c"/>
<polygon points="321.7,110.1 327.8,112.3 335.4,110.4 329.2,108.2" fill="#96d53c" fill-opacity="0.92"/>
<polygon points="326.3,178.7 332.5,182.0 340.0,180.4 333.9,177.1" fill="#4252f2" class="c"/>
<polygon points="101.4,110.0 107.5,125.5 115.1,120.0 109.0,72.1" fill="#f1ce63" fill-opacity="0.92"/>
<polygon points="168.3,167.2 174.5,169.7 182.0,167.6 175.9,165.1" fill="#8b96f5" class="c"/>
<polygon points="391.5,78.0 397.6,80.1 405.2,78.2 399.1,76.1" fill="#f5da58" fill-opacity="0.92"/>
<polygon points="340.0,180.4 346.1,183.7 353.7,182.2 347.6,178.8" fill="#4252f2" class="c"/>
<polygon points="197.1,131.4 203.3,133.6 210.8,121.9 204.7,119.7" fill="#37cd82" fill-opacity="0.92"/>
<polygon points="356.6,99.0 362.7,91.3 370.3,89.4 364.2,87.3" fill="#e8cf61" fill-opacity="0.92"/>
<polygon points="353.7,182.2 359.8,185.4 367.4,183.9 361.3,180.6" fill="#4252f2" class="c"/>
<polygon points="182.0,167.6 188.1,170.2 195.7,168.2 189.6,165.6" fill="#8b96f5" class="c"/>
<polygon points="286.8,121.3 292.9,123.5 300.4,121.6 294.3,119.4" fill="#4ecf6c" fill-opacity="0.92"/>
<polygon points="367.4,183.9 373.5,187.1 381.0,185.5 374.9,182.3" fill="#4252f2" class="c"/>
<polygon points="121.2,130.0 127.3,135.8 134.9,134.6 128.8,120.3" fill="#3ccd7e" fill-opacity="0.92"/>
<polygon points="238.2,132.2 244.3,134.4 251.8,132.5 245.7,130.3" fill="#2bc6a5" fill-opacity="0.92"/>
<polygon points="107.5,125.5 113.6,131.3 121.2,130.0 115.1,120.0" fill="#45ce74" fill-opacity="0.92"/>
<polygon points="381.0,185.5 387.2,188.8 394.7,187.2 388.6,183.9" fill="#4252f2" class="c"/>
<polygon points="195.7,168.2 201.8,170.9 209.4,169.0 203.3,166.2" fill="#8c95f5" class="c"/>
<polygon points="92.4,168.6 98.5,170.8 106.1,168.6 100.0,166.4" fill="#8c94f5" class="c"/>
<polygon points="134.9,134.6 141.0,139.6 148.5,132.5 142.4,120.6" fill="#34cb8a" fill-opacity="0.92"/>
<polygon points="300.4,121.6 306.6,123.8 314.1,121.9 308.0,119.7" fill="#4ecf6c" fill-opacity="0.92"/>
<polygon points="394.7,187.2 400.8,190.4 408.4,188.8 402.3,185.5" fill="#4252f2" class="c"/>
<polygon points="78.7,168.6 84.8,170.8 92.4,168.6 86.3,151.4" fill="#8a98f5" class="c"/>
<polygon points="210.8,121.9 216.9,133.9 224.5,122.2 218.4,120.0" fill="#4ecf6c" fill-opacity="0.92"/>
<polygon points="335.4,110.4 341.5,112.6 349.0,100.9 342.9,98.7" fill="#b4d64b" fill-opacity="0.92"/>
<polygon points="224.5,122.2 230.6,134.1 238.2,132.2 232.1,120.3" fill="#4ecf6c" fill-opacity="0.92"/>
<polygon points="209.4,169.0 215.5,171.8 223.0,169.9 216.9,167.0" fill="#8c94f5" class="c"/>
<polygon points="251.8,132.5 258.0,134.7 265.5,132.8 259.4,130.6" fill="#2bc6a5" fill-opacity="0.92"/>
<polygon points="408.4,188.8 414.5,192.0 422.1,190.3 416.0,187.1" fill="#4252f2" class="c"/>
<polygon points="106.1,168.6 112.2,170.8 119.7,168.6 113.6,166.4" fill="#8c95f5" class="c"/>
<polygon points="422.1,190.3 428.2,193.4 435.8,191.7 429.6,188.5" fill="#4252f2" class="c"/>
<polygon points="223.0,169.9 229.2,172.8 236.7,171.0 230.6,168.0" fill="#8d93f5" class="c"/>
<polygon points="370.3,89.4 376.4,91.6 383.9,89.7 377.8,77.7" fill="#f4d260" fill-opacity="0.92"/>
<polygon points="93.8,111.9 100.0,126.8 107.5,125.5 101.4,110.0" fill="#96d53c" fill-opacity="0.92"/>
<polygon points="265.5,132.8 271.6,134.9 279.2,133.0 273.1,130.9" fill="#2bc6a5" fill-opacity="0.92"/>
<polygon points="148.5,132.5 154.7,134.7 162.2,132.8 156.1,120.8" fill="#37cd82" fill-opacity="0.92"/>
<polygon points="162.2,132.8 168.3,144.8 175.9,133.1 169.8,121.1" fill="#37cd82" fill-opacity="0.92"/>
<polygon points="236.7,171.0 242.8,174.1 250.4,172.3 244.3,169.1" fill="#7f85f4" class="c"/>
<polygon points="80.2,112.4 86.3,121.8 93.8,111.9 87.7,110.5" fill="#93d43b" fill-opacity="0.92"/>
<polygon points="119.7,168.6 125.9,170.9 133.4,168.8 127.3,166.5" fill="#8c95f5" class="c"/>
<polygon points="250.4,172.3 256.5,175.5 264.1,173.7 258.0,170.5" fill="#6f77f3" class="c"/>
<polygon points="175.9,133.1 182.0,145.0 189.6,133.3 183.5,121.4" fill="#37cd82" fill-opacity="0.92"/>
<polygon points="189.6,133.3 195.7,145.3 203.3,133.6 197.1,131.4" fill="#2bc6a5" fill-opacity="0.92"/>
<polygon points="264.1,173.7 270.2,177.1 277.7,175.4 271.6,172.0" fill="#5f6af3" class="c"/>
<polygon points="133.4,168.8 139.5,171.1 147.1,169.0 141.0,166.6" fill="#8b96f5" class="c"/>
<polygon points="71.2,183.8 77.3,185.9 84.8,170.8 78.7,168.6" fill="#8382f1" class="c"/>
<polygon points="277.7,175.4 283.9,178.7 291.4,177.0 285.3,173.7" fill="#505ef2" class="c"/>
<polygon points="314.1,121.9 320.2,114.2 327.8,112.3 321.7,110.1" fill="#70d24e" fill-opacity="0.92"/>
<polygon points="349.0,100.9 355.1,103.0 362.7,91.3 356.6,99.0" fill="#e8cf61" fill-opacity="0.92"/>
<polygon points="291.4,177.0 297.5,180.3 305.1,178.7 299.0,175.4" fill="#4252f2" class="c"/>
<polygon points="147.1,169.0 153.2,171.4 160.8,169.3 154.7,166.8" fill="#8b96f5" class="c"/>
<polygon points="63.6,206.9 69.7,209.1 77.3,185.9 71.2,183.8" fill="#6c60da" class="c"/>
<polygon points="383.9,89.7 390.1,82.0 397.6,80.1 391.5,78.0" fill="#f4d260" fill-opacity="0.92"/>
<polygon points="279.2,133.0 285.3,135.2 292.9,123.5 286.8,121.3" fill="#37cd82" fill-opacity="0.92"/>
<polygon points="305.1,178.7 311.2,181.9 318.8,180.3 312.7,177.0" fill="#4252f2" class="c"/>
<polygon points="318.8,180.3 324.9,183.6 332.5,182.0 326.3,178.7" fill="#4252f2" class="c"/>
<polygon points="160.8,169.3 166.9,171.7 174.5,169.7 168.3,167.2" fill="#8b96f5" class="c"/>
<polygon points="332.5,182.0 338.6,185.3 346.1,183.7 340.0,180.4" fill="#4252f2" class="c"/>
<polygon points="127.3,135.8 133.4,140.9 141.0,139.6 134.9,134.6" fill="#27c4b0" fill-opacity="0.92"/>
<polygon points="203.3,133.6 209.4,135.8 216.9,133.9 210.8,121.9" fill="#37cd82" fill-opacity="0.92"/>
<polygon points="327.8,112.3 333.9,114.5 341.5,112.6 335.4,110.4" fill="#96d53c" fill-opacity="0.92"/>
<polygon points="230.6,134.1 236.7,146.1 244.3,134.4 238.2,132.2" fill="#2bc6a5" fill-opacity="0.92"/>
<polygon points="346.1,183.7 352.2,187.0 359.8,185.4 353.7,182.2" fill="#4252f2" class="c"/>
<polygon points="174.5,169.7 180.6,172.3 188.1,170.2 182.0,167.6" fill="#8c95f5" class="c"/>
<polygon points="113.6,131.3 119.7,137.1 127.3,135.8 121.2,130.0" fill="#31ca92" fill-opacity="0.92"/>
<polygon points="397.6,80.1 403.7,82.3 411.3,80.4 405.2,78.2" fill="#f5da58" fill-opacity="0.92"/>
<polygon points="359.8,185.4 365.9,188.7 373.5,187.1 367.4,183.9" fill="#4252f2" class="c"/>
<polygon points="100.0,126.8 106.1,132.5 113.6,131.3 107.5,125.5" fill="#40ce79" fill-opacity="0.92"/>
<polygon points="216.9,133.9 223.0,136.0 230.6,134.1 224.5,122.2" fill="#37cd82" fill-opacity="0.92"/>
<polygon points="141.0,139.6 147.1,144.7 154.7,134.7 148.5,132.5" fill="#25c3b7" fill-opacity="0.92"/>
<polygon points="362.7,91.3 368.8,103.3 376.4,91.6 370.3,89.4" fill="#f1cf63" fill-opacity="0.92"/>
<polygon points="188.1,170.2 194.2,172.9 201.8,170.9 195.7,168.2" fill="#8c95f5" class="c"/>
<polygon points="373.5,187.1 379.6,190.3 387.2,188.8 381.0,185.5" fill="#4252f2" class="c"/>
<polygon points="84.8,170.8 90.9,173.0 98.5,170.8 92.4,168.6" fill="#8d94f5" class="c"/>
<polygon points="154.7,134.7 160.8,146.7 168.3,144.8 162.2,132.8" fill="#2bc6a5" fill-opacity="0.92"/>
<polygon points="168.3,144.8 174.5,146.9 182.0,145.0 175.9,133.1" fill="#22bfc2" fill-opacity="0.92"/>
<polygon points="292.9,123.5 299.0,125.7 306.6,123.8 300.4,121.6" fill="#4ecf6c" fill-opacity="0.92"/>
<polygon points="387.2,188.8 393.3,192.0 400.8,190.4 394.7,187.2" fill="#4252f2" class="c"/>
<polygon points="201.8,170.9 207.9,173.7 215.5,171.8 209.4,169.0" fill="#8d94f5" class="c"/>
<polygon points="244.3,134.4 250.4,136.6 258.0,134.7 251.8,132.5" fill="#2bc6a5" fill-opacity="0.92"/>
<polygon points="400.8,190.4 407.0,193.6 414.5,192.0 408.4,188.8" fill="#4252f2" class="c"/>
<polygon points="98.5,170.8 104.6,173.0 112.2,170.8 106.1,168.6" fill="#8c94f5" class="c"/>
<polygon points="86.3,121.8 92.4,128.0 100.0,126.8 93.8,111.9" fill="#78d347" fill-opacity="0.92"/>
<polygon points="182.0,145.0 188.1,147.2 195.7,145.3 189.6,133.3" fill="#22bfc2" fill-opacity="0.92"/>
<polygon points="215.5,171.8 221.6,174.7 229.2,172.8 223.0,169.9" fill="#8d93f5" class="c"/>
<polygon points="414.5,192.0 420.6,195.1 428.2,193.4 422.1,190.3" fill="#4252f2" class="c"/>
<polygon points="72.6,114.3 78.7,123.0 86.3,121.8 80.2,112.4" fill="#91d439" fill-opacity="0.92"/>
<polygon points="258.0,134.7 264.1,136.8 271.6,134.9 265.5,132.8" fill="#2bc6a5" fill-opacity="0.92"/>
<polygon points="428.2,193.4 434.3,196.5 441.9,194.8 435.8,191.7" fill="#4252f2" class="c"/>
<polygon points="306.6,123.8 312.7,125.9 320.2,114.2 314.1,121.9" fill="#70d24e" fill-opacity="0.92"/>
<polygon points="112.2,170.8 118.3,173.1 125.9,170.9 119.7,168.6" fill="#8c95f5" class="c"/>
<polygon points="229.2,172.8 235.3,175.9 242.8,174.1 236.7,171.0" fill="#7f85f4" class="c"/>
<polygon points="341.5,112.6 347.6,104.9 355.1,103.0 349.0,100.9" fill="#b4d64b" fill-opacity="0.92"/>
<polygon points="376.4,91.6 382.5,93.8 390.1,82.0 383.9,89.7" fill="#f4d260" fill-opacity="0.92"/>
<polygon points="271.6,134.9 277.7,137.1 285.3,135.2 279.2,133.0" fill="#2bc6a5" fill-opacity="0.92"/>
<polygon points="242.8,174.1 248.9,177.2 256.5,175.5 250.4,172.3" fill="#6f77f3" class="c"/>
<polygon points="195.7,145.3 201.8,147.5 209.4,135.8 203.3,133.6" fill="#22bfc2" fill-opacity="0.92"/>
<polygon points="125.9,170.9 132.0,173.2 139.5,171.1 133.4,168.8" fill="#8c95f5" class="c"/>
<polygon points="256.5,175.5 262.6,178.8 270.2,177.1 264.1,173.7" fill="#5f6af3" class="c"/>
<polygon points="270.2,177.1 276.3,180.3 283.9,178.7 277.7,175.4" fill="#505ef2" class="c"/>
<polygon points="139.5,171.1 145.6,173.5 153.2,171.4 147.1,169.0" fill="#8c95f5" class="c"/>
<polygon points="283.9,178.7 290.0,181.9 297.5,180.3 291.4,177.0" fill="#4252f2" class="c"/>
<polygon points="77.3,185.9 83.4,188.1 90.9,173.0 84.8,170.8" fill="#8382f1" class="c"/>
<polygon points="297.5,180.3 303.7,183.5 311.2,181.9 305.1,178.7" fill="#4252f2" class="c"/>
<polygon points="320.2,114.2 326.3,126.2 333.9,114.5 327.8,112.3" fill="#96d53c" fill-opacity="0.92"/>
<polygon points="209.4,135.8 215.5,147.7 223.0,136.0 216.9,133.9" fill="#2bc6a5" fill-opacity="0.92"/>
<polygon points="223.0,136.0 229.2,148.0 236.7,146.1 230.6,134.1" fill="#2bc6a5" fill-opacity="0.92"/>
<polygon points="355.1,103.0 361.3,105.2 368.8,103.3 362.7,91.3" fill="#e8cf61" fill-opacity="0.92"/>
<polygon points="153.2,171.4 159.3,173.8 166.9,171.7 160.8,169.3" fill="#8c95f5" class="c"/>
<polygon points="311.2,181.9 317.3,185.1 324.9,183.6 318.8,180.3" fill="#4252f2" class="c"/>
<polygon points="69.7,209.1 75.8,211.3 83.4,188.1 77.3,185.9" fill="#6c60da" class="c"/>
<polygon points="390.1,82.0 396.2,94.0 403.7,82.3 397.6,80.1" fill="#f5da58" fill-opacity="0.92"/>
<polygon points="285.3,135.2 291.4,137.4 299.0,125.7 292.9,123.5" fill="#37cd82" fill-opacity="0.92"/>
<polygon points="160.8,146.7 166.9,157.0 174.5,146.9 168.3,144.8" fill="#20b6d3" fill-opacity="0.92"/>
<polygon points="133.4,140.9 139.5,145.9 147.1,144.7 141.0,139.6" fill="#22c0c0" fill-opacity="0.92"/>
<polygon points="324.9,183.6 331.0,186.8 338.6,185.3 332.5,182.0" fill="#4252f2" class="c"/>
<polygon points="119.7,137.1 125.9,142.1 133.4,140.9 127.3,135.8" fill="#29c5ac" fill-opacity="0.92"/>
<polygon points="236.7,146.1 242.8,148.3 250.4,136.6 244.3,134.4" fill="#22bfc2" fill-opacity="0.92"/>
<polygon points="166.9,171.7 173.0,174.3 180.6,172.3 174.5,169.7" fill="#8c95f5" class="c"/>
<polygon points="338.6,185.3 344.7,188.5 352.2,187.0 346.1,183.7" fill="#4252f2" class="c"/>
<polygon points="147.1,144.7 153.2,149.7 160.8,146.7 154.7,134.7" fill="#23c1bf" fill-opacity="0.92"/>
<polygon points="106.1,132.5 112.2,138.3 119.7,137.1 113.6,131.3" fill="#33cb8e" fill-opacity="0.92"/>
<polygon points="352.2,187.0 358.4,190.2 365.9,188.7 359.8,185.4" fill="#4252f2" class="c"/>
<polygon points="180.6,172.3 186.7,174.9 194.2,172.9 188.1,170.2" fill="#8c95f5" class="c"/>
<polygon points="92.4,128.0 98.5,133.8 106.1,132.5 100.0,126.8" fill="#43ce76" fill-opacity="0.92"/>
<polygon points="365.9,188.7 372.0,191.9 379.6,190.3 373.5,187.1" fill="#4252f2" class="c"/>
<polygon points="403.7,82.3 409.8,84.5 417.4,82.6 411.3,80.4" fill="#f5da58" fill-opacity="0.92"/>
<polygon points="174.5,146.9 180.6,149.1 188.1,147.2 182.0,145.0" fill="#20b6d3" fill-opacity="0.92"/>
<polygon points="78.7,123.0 84.8,129.3 92.4,128.0 86.3,121.8" fill="#5cd05e" fill-opacity="0.92"/>
<polygon points="333.9,114.5 340.0,116.6 347.6,104.9 341.5,112.6" fill="#b4d64b" fill-opacity="0.92"/>
<polygon points="379.6,190.3 385.7,193.5 393.3,192.0 387.2,188.8" fill="#4252f2" class="c"/>
<polygon points="194.2,172.9 200.4,175.6 207.9,173.7 201.8,170.9" fill="#8d94f5" class="c"/>
<polygon points="368.8,103.3 374.9,95.7 382.5,93.8 376.4,91.6" fill="#e8cf61" fill-opacity="0.92"/>
<polygon points="90.9,173.0 97.1,175.2 104.6,173.0 98.5,170.8" fill="#8d94f5" class="c"/>
<polygon points="393.3,192.0 399.4,195.1 407.0,193.6 400.8,190.4" fill="#4252f2" class="c"/>
<polygon points="299.0,125.7 305.1,127.8 312.7,125.9 306.6,123.8" fill="#4ecf6c" fill-opacity="0.92"/>
<polygon points="188.1,147.2 194.2,149.4 201.8,147.5 195.7,145.3" fill="#20b6d3" fill-opacity="0.92"/>
<polygon points="207.9,173.7 214.0,176.5 221.6,174.7 215.5,171.8" fill="#8d93f5" class="c"/>
<polygon points="407.0,193.6 413.1,196.7 420.6,195.1 414.5,192.0" fill="#4252f2" class="c"/>
<polygon points="65.0,116.2 71.2,124.3 78.7,123.0 72.6,114.3" fill="#91d439" fill-opacity="0.92"/>
<polygon points="250.4,136.6 256.5,138.7 264.1,136.8 258.0,134.7" fill="#2bc6a5" fill-opacity="0.92"/>
<polygon points="104.6,173.0 110.7,175.2 118.3,173.1 112.2,170.8" fill="#8c94f5" class="c"/>
<polygon points="420.6,195.1 426.7,198.2 434.3,196.5 428.2,193.4" fill="#4252f2" class="c"/>
<polygon points="221.6,174.7 227.7,177.6 235.3,175.9 229.2,172.8" fill="#7f85f4" class="c"/>
<polygon points="264.1,136.8 270.2,139.0 277.7,137.1 271.6,134.9" fill="#2bc6a5" fill-opacity="0.92"/>
<polygon points="434.3,196.5 440.4,199.6 448.0,197.8 441.9,194.8" fill="#4252f2" class="c"/>
<polygon points="235.3,175.9 241.4,178.9 248.9,177.2 242.8,174.1" fill="#6f77f4" class="c"/>
<polygon points="118.3,173.1 124.4,175.3 132.0,173.2 125.9,170.9" fill="#8c95f5" class="c"/>
<polygon points="312.7,125.9 318.8,128.1 326.3,126.2 320.2,114.2" fill="#70d24e" fill-opacity="0.92"/>
<polygon points="201.8,147.5 207.9,149.6 215.5,147.7 209.4,135.8" fill="#22bfc2" fill-opacity="0.92"/>
<polygon points="248.9,177.2 255.1,180.4 262.6,178.8 256.5,175.5" fill="#5f6af3" class="c"/>
<polygon points="347.6,104.9 353.7,116.9 361.3,105.2 355.1,103.0" fill="#cfd457" fill-opacity="0.92"/>
<polygon points="382.5,93.8 388.6,95.9 396.2,94.0 390.1,82.0" fill="#f4d260" fill-opacity="0.92"/>
<polygon points="277.7,137.1 283.9,139.3 291.4,137.4 285.3,135.2" fill="#2bc6a5" fill-opacity="0.92"/>
<polygon points="262.6,178.8 268.7,181.9 276.3,180.3 270.2,177.1" fill="#505ef2" class="c"/>
<polygon points="132.0,173.2 138.1,175.5 145.6,173.5 139.5,171.1" fill="#8c95f5" class="c"/>
<polygon points="215.5,147.7 221.6,149.9 229.2,148.0 223.0,136.0" fill="#22bfc2" fill-opacity="0.92"/>
<polygon points="229.2,148.0 235.3,150.2 242.8,148.3 236.7,146.1" fill="#20b6d3" fill-opacity="0.92"/>
<polygon points="276.3,180.3 282.4,183.4 290.0,181.9 283.9,178.7" fill="#4252f2" class="c"/>
<polygon points="153.2,149.7 159.3,158.3 166.9,157.0 160.8,146.7" fill="#1fb5d5" fill-opacity="0.92"/>
<polygon points="290.0,181.9 296.1,185.0 303.7,183.5 297.5,180.3" fill="#4252f2" class="c"/>
<polygon points="145.6,173.5 151.8,175.8 159.3,173.8 153.2,171.4" fill="#8c95f5" class="c"/>
<polygon points="303.7,183.5 309.8,186.7 317.3,185.1 311.2,181.9" fill="#4252f2" class="c"/>
<polygon points="139.5,145.9 145.6,151.0 153.2,149.7 147.1,144.7" fill="#21baca" fill-opacity="0.92"/>
<polygon points="166.9,157.0 173.0,160.1 180.6,149.1 174.5,146.9" fill="#1faedf" fill-opacity="0.92"/>
<polygon points="83.4,188.1 89.5,187.8 97.1,175.2 90.9,173.0" fill="#8382f1" class="c"/>
<polygon points="326.3,126.2 332.5,118.5 340.0,116.6 333.9,114.5" fill="#70d24e" fill-opacity="0.92"/>
<polygon points="317.3,185.1 323.4,188.3 331.0,186.8 324.9,183.6" fill="#4252f2" class="c"/>
<polygon points="125.9,142.1 132.0,147.2 139.5,145.9 133.4,140.9" fill="#23c1be" fill-opacity="0.92"/>
<polygon points="159.3,173.8 165.4,176.3 173.0,174.3 166.9,171.7" fill="#8c95f5" class="c"/>
<polygon points="361.3,105.2 367.4,107.4 374.9,95.7 368.8,103.3" fill="#e8cf61" fill-opacity="0.92"/>
<polygon points="112.2,138.3 118.3,143.4 125.9,142.1 119.7,137.1" fill="#2ac6a7" fill-opacity="0.92"/>
<polygon points="331.0,186.8 337.1,190.0 344.7,188.5 338.6,185.3" fill="#4252f2" class="c"/>
<polygon points="396.2,94.0 402.3,86.4 409.8,84.5 403.7,82.3" fill="#f4d260" fill-opacity="0.92"/>
<polygon points="291.4,137.4 297.5,139.5 305.1,127.8 299.0,125.7" fill="#37cd82" fill-opacity="0.92"/>
<polygon points="98.5,133.8 104.6,139.5 112.2,138.3 106.1,132.5" fill="#35cc89" fill-opacity="0.92"/>
<polygon points="75.8,211.3 81.9,211.0 89.5,187.8 83.4,188.1" fill="#6c60da" class="c"/>
<polygon points="344.7,188.5 350.8,191.7 358.4,190.2 352.2,187.0" fill="#4252f2" class="c"/>
<polygon points="173.0,174.3 179.1,176.8 186.7,174.9 180.6,172.3" fill="#8c94f5" class="c"/>
<polygon points="84.8,129.3 90.9,135.0 98.5,133.8 92.4,128.0" fill="#46ce73" fill-opacity="0.92"/>
<polygon points="358.4,190.2 364.5,193.3 372.0,191.9 365.9,188.7" fill="#4252f2" class="c"/>
<polygon points="180.6,149.1 186.7,161.1 194.2,149.4 188.1,147.2" fill="#20b6d3" fill-opacity="0.92"/>
<polygon points="186.7,174.9 192.8,177.5 200.4,175.6 194.2,172.9" fill="#8d94f5" class="c"/>
<polygon points="372.0,191.9 378.1,195.0 385.7,193.5 379.6,190.3" fill="#4252f2" class="c"/>
<polygon points="71.2,124.3 77.3,130.5 84.8,129.3 78.7,123.0" fill="#61d15a" fill-opacity="0.92"/>
<polygon points="242.8,148.3 248.9,140.6 256.5,138.7 250.4,136.6" fill="#22bfc2" fill-opacity="0.92"/>
<polygon points="409.8,84.5 416.0,86.6 423.5,84.7 417.4,82.6" fill="#f5da58" fill-opacity="0.92"/>
<polygon points="385.7,193.5 391.8,196.6 399.4,195.1 393.3,192.0" fill="#4252f2" class="c"/>
<polygon points="200.4,175.6 206.5,178.4 214.0,176.5 207.9,173.7" fill="#8d93f5" class="c"/>
<polygon points="340.0,116.6 346.1,118.8 353.7,116.9 347.6,104.9" fill="#b4d64b" fill-opacity="0.92"/>
<polygon points="399.4,195.1 405.5,198.2 413.1,196.7 407.0,193.6" fill="#4252f2" class="c"/>
<polygon points="57.5,118.1 63.6,125.5 71.2,124.3 65.0,116.2" fill="#91d439" fill-opacity="0.92"/>
<polygon points="374.9,95.7 381.0,107.6 388.6,95.9 382.5,93.8" fill="#f1cf63" fill-opacity="0.92"/>
<polygon points="97.1,175.2 103.2,177.4 110.7,175.2 104.6,173.0" fill="#8d94f5" class="c"/>
<polygon points="214.0,176.5 220.1,179.4 227.7,177.6 221.6,174.7" fill="#7f85f4" class="c"/>
<polygon points="305.1,127.8 311.2,130.0 318.8,128.1 312.7,125.9" fill="#4ecf6c" fill-opacity="0.92"/>
<polygon points="413.1,196.7 419.2,199.8 426.7,198.2 420.6,195.1" fill="#4252f2" class="c"/>
<polygon points="194.2,149.4 200.4,151.5 207.9,149.6 201.8,147.5" fill="#20b6d3" fill-opacity="0.92"/>
<polygon points="256.5,138.7 262.6,140.9 270.2,139.0 264.1,136.8" fill="#2bc6a5" fill-opacity="0.92"/>
<polygon points="426.7,198.2 432.9,201.2 440.4,199.6 434.3,196.5" fill="#4252f2" class="c"/>
<polygon points="227.7,177.6 233.8,180.7 241.4,178.9 235.3,175.9" fill="#6f77f4" class="c"/>
<polygon points="110.7,175.2 116.8,177.5 124.4,175.3 118.3,173.1" fill="#8c94f5" class="c"/>
<polygon points="207.9,149.6 214.0,151.8 221.6,149.9 215.5,147.7" fill="#20b6d3" fill-opacity="0.92"/>
<polygon points="440.4,199.6 446.5,202.6 454.1,200.9 448.0,197.8" fill="#4252f2" class="c"/>
<polygon points="241.4,178.9 247.5,182.1 255.1,180.4 248.9,177.2" fill="#606af3" class="c"/>
<polygon points="270.2,139.0 276.3,141.2 283.9,139.3 277.7,137.1" fill="#2bc6a5" fill-opacity="0.92"/>
<polygon points="255.1,180.4 261.2,183.5 268.7,181.9 262.6,178.8" fill="#515ef2" class="c"/>
<polygon points="124.4,175.3 130.5,177.6 138.1,175.5 132.0,173.2" fill="#8c94f5" class="c"/>
<polygon points="318.8,128.1 324.9,130.2 332.5,118.5 326.3,126.2" fill="#70d24e" fill-opacity="0.92"/>
<polygon points="221.6,149.9 227.7,152.1 235.3,150.2 229.2,148.0" fill="#20b6d3" fill-opacity="0.92"/>
<polygon points="159.3,158.3 165.4,161.5 173.0,160.1 166.9,157.0" fill="#23a5e5" fill-opacity="0.92"/>
<polygon points="353.7,116.9 359.8,109.3 367.4,107.4 361.3,105.2" fill="#b4d64b" fill-opacity="0.92"/>
<polygon points="268.7,181.9 274.9,185.0 282.4,183.4 276.3,180.3" fill="#4252f2" class="c"/>
<polygon points="388.6,95.9 394.7,98.1 402.3,86.4 396.2,94.0" fill="#f4d260" fill-opacity="0.92"/>
<polygon points="283.9,139.3 290.0,141.4 297.5,139.5 291.4,137.4" fill="#2bc6a5" fill-opacity="0.92"/>
<polygon points="145.6,151.0 151.8,159.5 159.3,158.3 153.2,149.7" fill="#1fb5d4" fill-opacity="0.92"/>
<polygon points="138.1,175.5 144.2,177.9 151.8,175.8 145.6,173.5" fill="#8c95f5" class="c"/>
<polygon points="282.4,183.4 288.5,186.6 296.1,185.0 290.0,181.9" fill="#4252f2" class="c"/>
<polygon points="296.1,185.0 302.2,188.2 309.8,186.7 303.7,183.5" fill="#4252f2" class="c"/>
<polygon points="173.0,160.1 179.1,163.0 186.7,161.1 180.6,149.1" fill="#20ade0" fill-opacity="0.92"/>
<polygon points="132.0,147.2 138.1,152.2 145.6,151.0 139.5,145.9" fill="#21bcc8" fill-opacity="0.92"/>
<polygon points="151.8,175.8 157.9,178.3 165.4,176.3 159.3,173.8" fill="#8c94f5" class="c"/>
<polygon points="309.8,186.7 315.9,189.8 323.4,188.3 317.3,185.1" fill="#4252f2" class="c"/>
<polygon points="235.3,150.2 241.4,152.3 248.9,140.6 242.8,148.3" fill="#22bfc2" fill-opacity="0.92"/>
<polygon points="118.3,143.4 124.4,148.4 132.0,147.2 125.9,142.1" fill="#23c2bc" fill-opacity="0.92"/>
<polygon points="104.6,139.5 110.7,144.6 118.3,143.4 112.2,138.3" fill="#2cc7a2" fill-opacity="0.92"/>
<polygon points="323.4,188.3 329.6,191.4 337.1,190.0 331.0,186.8" fill="#4252f2" class="c"/>
<polygon points="90.9,135.0 97.1,140.8 104.6,139.5 98.5,133.8" fill="#36cd84" fill-opacity="0.92"/>
<polygon points="165.4,176.3 171.6,178.8 179.1,176.8 173.0,174.3" fill="#8c94f5" class="c"/>
<polygon points="337.1,190.0 343.2,193.1 350.8,191.7 344.7,188.5" fill="#4252f2" class="c"/>
<polygon points="367.4,107.4 373.5,109.5 381.0,107.6 374.9,95.7" fill="#e8cf61" fill-opacity="0.92"/>
<polygon points="402.3,86.4 408.4,98.3 416.0,86.6 409.8,84.5" fill="#f5da58" fill-opacity="0.92"/>
<polygon points="77.3,130.5 83.4,136.3 90.9,135.0 84.8,129.3" fill="#49cf70" fill-opacity="0.92"/>
<polygon points="350.8,191.7 356.9,194.8 364.5,193.3 358.4,190.2" fill="#4252f2" class="c"/>
<polygon points="186.7,161.1 192.8,163.3 200.4,151.5 194.2,149.4" fill="#20ace1" fill-opacity="0.92"/>
<polygon points="179.1,176.8 185.2,179.4 192.8,177.5 186.7,174.9" fill="#8d94f5" class="c"/>
<polygon points="332.5,118.5 338.6,120.7 346.1,118.8 340.0,116.6" fill="#96d53c" fill-opacity="0.92"/>
<polygon points="364.5,193.3 370.6,196.5 378.1,195.0 372.0,191.9" fill="#4252f2" class="c"/>
<polygon points="63.6,125.5 69.7,131.8 77.3,130.5 71.2,124.3" fill="#67d155" fill-opacity="0.92"/>
<polygon points="89.5,187.8 95.6,177.6 103.2,177.4 97.1,175.2" fill="#8685f2" class="c"/>
<polygon points="297.5,139.5 303.7,131.9 311.2,130.0 305.1,127.8" fill="#37cd82" fill-opacity="0.92"/>
<polygon points="378.1,195.0 384.3,198.1 391.8,196.6 385.7,193.5" fill="#4252f2" class="c"/>
<polygon points="192.8,177.5 198.9,180.2 206.5,178.4 200.4,175.6" fill="#8d93f5" class="c"/>
<polygon points="391.8,196.6 397.9,199.7 405.5,198.2 399.4,195.1" fill="#4252f2" class="c"/>
<polygon points="416.0,86.6 422.1,88.8 429.6,86.9 423.5,84.7" fill="#f5da58" fill-opacity="0.92"/>
<polygon points="206.5,178.4 212.6,181.2 220.1,179.4 214.0,176.5" fill="#7f85f4" class="c"/>
<polygon points="200.4,151.5 206.5,163.5 214.0,151.8 207.9,149.6" fill="#20b6d3" fill-opacity="0.92"/>
<polygon points="405.5,198.2 411.6,201.3 419.2,199.8 413.1,196.7" fill="#4252f2" class="c"/>
<polygon points="248.9,140.6 255.1,142.8 262.6,140.9 256.5,138.7" fill="#2bc6a5" fill-opacity="0.92"/>
<polygon points="381.0,107.6 387.2,100.0 394.7,98.1 388.6,95.9" fill="#e8cf61" fill-opacity="0.92"/>
<polygon points="220.1,179.4 226.3,182.4 233.8,180.7 227.7,177.6" fill="#6f78f4" class="c"/>
<polygon points="103.2,177.4 109.3,179.6 116.8,177.5 110.7,175.2" fill="#8d94f5" class="c"/>
<polygon points="419.2,199.8 425.3,202.8 432.9,201.2 426.7,198.2" fill="#4252f2" class="c"/>
<polygon points="311.2,130.0 317.3,132.1 324.9,130.2 318.8,128.1" fill="#4ecf6c" fill-opacity="0.92"/>
<polygon points="81.9,211.0 88.0,200.7 95.6,177.6 89.5,187.8" fill="#6f64de" class="c"/>
<polygon points="346.1,118.8 352.2,111.2 359.8,109.3 353.7,116.9" fill="#b4d64b" fill-opacity="0.92"/>
<polygon points="432.9,201.2 439.0,204.2 446.5,202.6 440.4,199.6" fill="#4252f2" class="c"/>
<polygon points="233.8,180.7 239.9,183.7 247.5,182.1 241.4,178.9" fill="#606af3" class="c"/>
<polygon points="262.6,140.9 268.7,143.1 276.3,141.2 270.2,139.0" fill="#2bc6a5" fill-opacity="0.92"/>
<polygon points="116.8,177.5 123.0,179.7 130.5,177.6 124.4,175.3" fill="#8d94f5" class="c"/>
<polygon points="247.5,182.1 253.6,185.1 261.2,183.5 255.1,180.4" fill="#515ef2" class="c"/>
<polygon points="214.0,151.8 220.1,154.0 227.7,152.1 221.6,149.9" fill="#20b6d3" fill-opacity="0.92"/>
<polygon points="151.8,159.5 157.9,162.8 165.4,161.5 159.3,158.3" fill="#22a7e4" fill-opacity="0.92"/>
<polygon points="261.2,183.5 267.3,186.6 274.9,185.0 268.7,181.9" fill="#4252f2" class="c"/>
<polygon points="276.3,141.2 282.4,143.3 290.0,141.4 283.9,139.3" fill="#2bc6a5" fill-opacity="0.92"/>
<polygon points="130.5,177.6 136.6,179.9 144.2,177.9 138.1,175.5" fill="#8c94f5" class="c"/>
<polygon points="165.4,161.5 171.6,164.8 179.1,163.0 173.0,160.1" fill="#25a2e7" fill-opacity="0.92"/>
<polygon points="138.1,152.2 144.2,160.8 151.8,159.5 145.6,151.0" fill="#20b6d2" fill-opacity="0.92"/>
<polygon points="274.9,185.0 281.0,188.1 288.5,186.6 282.4,183.4" fill="#4252f2" class="c"/>
<polygon points="227.7,152.1 233.8,154.2 241.4,152.3 235.3,150.2" fill="#20b6d3" fill-opacity="0.92"/>
<polygon points="394.7,98.1 400.8,100.2 408.4,98.3 402.3,86.4" fill="#f4d260" fill-opacity="0.92"/>
<polygon points="288.5,186.6 294.6,189.6 302.2,188.2 296.1,185.0" fill="#4252f2" class="c"/>
<polygon points="179.1,163.0 185.2,165.2 192.8,163.3 186.7,161.1" fill="#269fe9" fill-opacity="0.92"/>
<polygon points="144.2,177.9 150.3,180.3 157.9,178.3 151.8,175.8" fill="#8c94f5" class="c"/>
<polygon points="324.9,130.2 331.0,132.4 338.6,120.7 332.5,118.5" fill="#70d24e" fill-opacity="0.92"/>
<polygon points="124.4,148.4 130.5,153.5 138.1,152.2 132.0,147.2" fill="#22bdc6" fill-opacity="0.92"/>
<polygon points="302.2,188.2 308.3,191.3 315.9,189.8 309.8,186.7" fill="#4252f2" class="c"/>
<polygon points="359.8,109.3 365.9,111.4 373.5,109.5 367.4,107.4" fill="#cfd457" fill-opacity="0.92"/>
<polygon points="110.7,144.6 116.8,149.7 124.4,148.4 118.3,143.4" fill="#25c3b7" fill-opacity="0.92"/>
<polygon points="290.0,141.4 296.1,143.6 303.7,131.9 297.5,139.5" fill="#37cd82" fill-opacity="0.92"/>
<polygon points="315.9,189.8 322.0,192.9 329.6,191.4 323.4,188.3" fill="#4252f2" class="c"/>
<polygon points="97.1,140.8 103.2,145.8 110.7,144.6 104.6,139.5" fill="#2dc89e" fill-opacity="0.92"/>
<polygon points="157.9,178.3 164.0,180.7 171.6,178.8 165.4,176.3" fill="#8d94f5" class="c"/>
<polygon points="83.4,136.3 89.5,142.0 97.1,140.8 90.9,135.0" fill="#38cd80" fill-opacity="0.92"/>
<polygon points="329.6,191.4 335.7,194.6 343.2,193.1 337.1,190.0" fill="#4252f2" class="c"/>
<polygon points="343.2,193.1 349.3,196.2 356.9,194.8 350.8,191.7" fill="#4252f2" class="c"/>
<polygon points="69.7,131.8 75.8,137.5 83.4,136.3 77.3,130.5" fill="#4ccf6d" fill-opacity="0.92"/>
<polygon points="192.8,163.3 198.9,165.4 206.5,163.5 200.4,151.5" fill="#20ace1" fill-opacity="0.92"/>
<polygon points="171.6,178.8 177.7,181.3 185.2,179.4 179.1,176.8" fill="#8d94f5" class="c"/>
<polygon points="241.4,152.3 247.5,154.5 255.1,142.8 248.9,140.6" fill="#22bfc2" fill-opacity="0.92"/>
<polygon points="356.9,194.8 363.0,197.9 370.6,196.5 364.5,193.3" fill="#4252f2" class="c"/>
<polygon points="408.4,98.3 414.5,90.7 422.1,88.8 416.0,86.6" fill="#f4d260" fill-opacity="0.92"/>
<polygon points="185.2,179.4 191.3,182.1 198.9,180.2 192.8,177.5" fill="#8d93f5" class="c"/>
<polygon points="370.6,196.5 376.7,199.5 384.3,198.1 378.1,195.0" fill="#4252f2" class="c"/>
<polygon points="373.5,109.5 379.6,101.9 387.2,100.0 381.0,107.6" fill="#e8cf61" fill-opacity="0.92"/>
<polygon points="384.3,198.1 390.4,201.2 397.9,199.7 391.8,196.6" fill="#4252f2" class="c"/>
<polygon points="198.9,180.2 205.0,183.0 212.6,181.2 206.5,178.4" fill="#7f85f4" class="c"/>
<polygon points="422.1,88.8 428.2,100.8 435.8,89.1 429.6,86.9" fill="#f5da58" fill-opacity="0.92"/>
<polygon points="397.9,199.7 404.1,202.8 411.6,201.3 405.5,198.2" fill="#4252f2" class="c"/>
<polygon points="338.6,120.7 344.7,122.9 352.2,111.2 346.1,118.8" fill="#b4d64b" fill-opacity="0.92"/>
<polygon points="212.6,181.2 218.7,184.1 226.3,182.4 220.1,179.4" fill="#6f78f4" class="c"/>
<polygon points="411.6,201.3 417.7,204.3 425.3,202.8 419.2,199.8" fill="#4252f2" class="c"/>
<polygon points="303.7,131.9 309.8,134.0 317.3,132.1 311.2,130.0" fill="#4ecf6c" fill-opacity="0.92"/>
<polygon points="95.6,177.6 101.7,178.2 109.3,179.6 103.2,177.4" fill="#8a97f5" class="c"/>
<polygon points="206.5,163.5 212.6,155.9 220.1,154.0 214.0,151.8" fill="#20ace1" fill-opacity="0.92"/>
<polygon points="226.3,182.4 232.4,185.4 239.9,183.7 233.8,180.7" fill="#606bf3" class="c"/>
<polygon points="425.3,202.8 431.4,205.8 439.0,204.2 432.9,201.2" fill="#4252f2" class="c"/>
<polygon points="255.1,142.8 261.2,145.0 268.7,143.1 262.6,140.9" fill="#2bc6a5" fill-opacity="0.92"/>
<polygon points="109.3,179.6 115.4,181.8 123.0,179.7 116.8,177.5" fill="#8d94f5" class="c"/>
<polygon points="239.9,183.7 246.1,186.7 253.6,185.1 247.5,182.1" fill="#515ef2" class="c"/>
<polygon points="317.3,132.1 323.4,134.3 331.0,132.4 324.9,130.2" fill="#4ecf6c" fill-opacity="0.92"/>
<polygon points="387.2,100.0 393.3,102.1 400.8,100.2 394.7,98.1" fill="#f1cf63" fill-opacity="0.92"/>
<polygon points="268.7,143.1 274.9,145.2 282.4,143.3 276.3,141.2" fill="#2bc6a5" fill-opacity="0.92"/>
<polygon points="253.6,185.1 259.7,188.1 267.3,186.6 261.2,183.5" fill="#4252f2" class="c"/>
<polygon points="144.2,160.8 150.3,164.0 157.9,162.8 151.8,159.5" fill="#22a8e3" fill-opacity="0.92"/>
<polygon points="123.0,179.7 129.1,182.0 136.6,179.9 130.5,177.6" fill="#8d94f5" class="c"/>
<polygon points="157.9,162.8 164.0,166.1 171.6,164.8 165.4,161.5" fill="#24a4e6" fill-opacity="0.92"/>
<polygon points="220.1,154.0 226.3,156.1 233.8,154.2 227.7,152.1" fill="#20b6d3" fill-opacity="0.92"/>
<polygon points="267.3,186.6 273.4,189.6 281.0,188.1 274.9,185.0" fill="#4252f2" class="c"/>
<polygon points="352.2,111.2 358.4,123.1 365.9,111.4 359.8,109.3" fill="#cfd457" fill-opacity="0.92"/>
<polygon points="130.5,153.5 136.6,162.0 144.2,160.8 138.1,152.2" fill="#20b8d0" fill-opacity="0.92"/>
<polygon points="282.4,143.3 288.5,145.5 296.1,143.6 290.0,141.4" fill="#2bc6a5" fill-opacity="0.92"/>
<polygon points="171.6,164.8 177.7,167.1 185.2,165.2 179.1,163.0" fill="#269fe9" fill-opacity="0.92"/>
<polygon points="281.0,188.1 287.1,191.1 294.6,189.6 288.5,186.6" fill="#4252f2" class="c"/>
<polygon points="136.6,179.9 142.8,182.3 150.3,180.3 144.2,177.9" fill="#8d94f5" class="c"/>
<polygon points="233.8,154.2 239.9,156.4 247.5,154.5 241.4,152.3" fill="#20b6d3" fill-opacity="0.92"/>
<polygon points="116.8,149.7 123.0,154.7 130.5,153.5 124.4,148.4" fill="#22bec4" fill-opacity="0.92"/>
<polygon points="294.6,189.6 300.8,192.7 308.3,191.3 302.2,188.2" fill="#4252f2" class="c"/>
<polygon points="400.8,100.2 407.0,102.4 414.5,90.7 408.4,98.3" fill="#f4d260" fill-opacity="0.92"/>
<polygon points="103.2,145.8 109.3,150.9 116.8,149.7 110.7,144.6" fill="#26c4b2" fill-opacity="0.92"/>
<polygon points="185.2,165.2 191.3,167.3 198.9,165.4 192.8,163.3" fill="#269fe9" fill-opacity="0.92"/>
<polygon points="308.3,191.3 314.4,194.3 322.0,192.9 315.9,189.8" fill="#4252f2" class="c"/>
<polygon points="150.3,180.3 156.4,182.7 164.0,180.7 157.9,178.3" fill="#8d94f5" class="c"/>
<polygon points="89.5,142.0 95.6,147.1 103.2,145.8 97.1,140.8" fill="#2fc999" fill-opacity="0.92"/>
<polygon points="88.0,200.7 94.2,201.4 101.7,178.2 95.6,177.6" fill="#7e7aee" class="c"/>
<polygon points="322.0,192.9 328.1,196.0 335.7,194.6 329.6,191.4" fill="#4252f2" class="c"/>
<polygon points="75.8,137.5 81.9,143.3 89.5,142.0 83.4,136.3" fill="#3ccd7e" fill-opacity="0.92"/>
<polygon points="164.0,180.7 170.1,183.2 177.7,181.3 171.6,178.8" fill="#8d93f5" class="c"/>
<polygon points="335.7,194.6 341.8,197.6 349.3,196.2 343.2,193.1" fill="#4252f2" class="c"/>
<polygon points="331.0,132.4 337.1,124.8 344.7,122.9 338.6,120.7" fill="#70d24e" fill-opacity="0.92"/>
<polygon points="365.9,111.4 372.0,113.6 379.6,101.9 373.5,109.5" fill="#e8cf61" fill-opacity="0.92"/>
<polygon points="349.3,196.2 355.5,199.3 363.0,197.9 356.9,194.8" fill="#4252f2" class="c"/>
<polygon points="414.5,90.7 420.6,102.7 428.2,100.8 422.1,88.8" fill="#f5da58" fill-opacity="0.92"/>
<polygon points="296.1,143.6 302.2,145.8 309.8,134.0 303.7,131.9" fill="#37cd82" fill-opacity="0.92"/>
<polygon points="177.7,181.3 183.8,183.9 191.3,182.1 185.2,179.4" fill="#8d93f5" class="c"/>
<polygon points="198.9,165.4 205.0,167.6 212.6,155.9 206.5,163.5" fill="#20ace1" fill-opacity="0.92"/>
<polygon points="363.0,197.9 369.1,200.9 376.7,199.5 370.6,196.5" fill="#4252f2" class="c"/>
<polygon points="247.5,154.5 253.6,156.7 261.2,145.0 255.1,142.8" fill="#22bfc2" fill-opacity="0.92"/>
<polygon points="376.7,199.5 382.8,202.6 390.4,201.2 384.3,198.1" fill="#4252f2" class="c"/>
<polygon points="191.3,182.1 197.5,184.7 205.0,183.0 198.9,180.2" fill="#7f85f4" class="c"/>
<polygon points="390.4,201.2 396.5,204.2 404.1,202.8 397.9,199.7" fill="#4252f2" class="c"/>
<polygon points="205.0,183.0 211.1,185.8 218.7,184.1 212.6,181.2" fill="#6f78f4" class="c"/>
<polygon points="404.1,202.8 410.2,205.8 417.7,204.3 411.6,201.3" fill="#4252f2" class="c"/>
<polygon points="428.2,100.8 434.3,93.1 441.9,91.2 435.8,89.1" fill="#f4d260" fill-opacity="0.92"/>
<polygon points="344.7,122.9 350.8,125.0 358.4,123.1 352.2,111.2" fill="#b4d64b" fill-opacity="0.92"/>
<polygon points="218.7,184.1 224.8,187.0 232.4,185.4 226.3,182.4" fill="#606bf3" class="c"/>
<polygon points="417.7,204.3 423.8,207.3 431.4,205.8 425.3,202.8" fill="#4252f2" class="c"/>
<polygon points="379.6,101.9 385.7,113.9 393.3,102.1 387.2,100.0" fill="#f1cf63" fill-opacity="0.92"/>
<polygon points="309.8,134.0 315.9,136.2 323.4,134.3 317.3,132.1" fill="#4ecf6c" fill-opacity="0.92"/>
<polygon points="232.4,185.4 238.5,188.3 246.1,186.7 239.9,183.7" fill="#515ef2" class="c"/>
<polygon points="101.7,178.2 107.8,181.3 115.4,181.8 109.3,179.6" fill="#889af5" class="c"/>
<polygon points="261.2,145.0 267.3,147.1 274.9,145.2 268.7,143.1" fill="#2bc6a5" fill-opacity="0.92"/>
<polygon points="115.4,181.8 121.5,184.0 129.1,182.0 123.0,179.7" fill="#8d94f5" class="c"/>
<polygon points="246.1,186.7 252.2,189.6 259.7,188.1 253.6,185.1" fill="#4252f2" class="c"/>
<polygon points="136.6,162.0 142.8,165.3 150.3,164.0 144.2,160.8" fill="#21aae2" fill-opacity="0.92"/>
<polygon points="212.6,155.9 218.7,158.0 226.3,156.1 220.1,154.0" fill="#20b6d3" fill-opacity="0.92"/>
<polygon points="150.3,164.0 156.4,167.3 164.0,166.1 157.9,162.8" fill="#23a6e5" fill-opacity="0.92"/>
<polygon points="259.7,188.1 265.8,191.1 273.4,189.6 267.3,186.6" fill="#4252f2" class="c"/>
<polygon points="123.0,154.7 129.1,163.2 136.6,162.0 130.5,153.5" fill="#20b9ce" fill-opacity="0.92"/>
<polygon points="393.3,102.1 399.4,104.3 407.0,102.4 400.8,100.2" fill="#f1cf63" fill-opacity="0.92"/>
<polygon points="274.9,145.2 281.0,147.4 288.5,145.5 282.4,143.3" fill="#2bc6a5" fill-opacity="0.92"/>
<polygon points="164.0,166.1 170.1,169.6 177.7,167.1 171.6,164.8" fill="#25a1e8" fill-opacity="0.92"/>
<polygon points="129.1,182.0 135.2,184.3 142.8,182.3 136.6,179.9" fill="#8d94f5" class="c"/>
<polygon points="273.4,189.6 279.5,192.6 287.1,191.1 281.0,188.1" fill="#4252f2" class="c"/>
<polygon points="323.4,134.3 329.6,136.5 337.1,124.8 331.0,132.4" fill="#70d24e" fill-opacity="0.92"/>
<polygon points="226.3,156.1 232.4,158.3 239.9,156.4 233.8,154.2" fill="#20b6d3" fill-opacity="0.92"/>
<polygon points="358.4,123.1 364.5,115.5 372.0,113.6 365.9,111.4" fill="#b4d64b" fill-opacity="0.92"/>
<polygon points="287.1,191.1 293.2,194.1 300.8,192.7 294.6,189.6" fill="#4252f2" class="c"/>
<polygon points="109.3,150.9 115.4,156.0 123.0,154.7 116.8,149.7" fill="#22bfc1" fill-opacity="0.92"/>
<polygon points="288.5,145.5 294.6,147.7 302.2,145.8 296.1,143.6" fill="#2bc6a5" fill-opacity="0.92"/>
<polygon points="177.7,167.1 183.8,169.2 191.3,167.3 185.2,165.2" fill="#269fe9" fill-opacity="0.92"/>
<polygon points="142.8,182.3 148.9,184.6 156.4,182.7 150.3,180.3" fill="#8d94f5" class="c"/>
<polygon points="95.6,147.1 101.7,152.1 109.3,150.9 103.2,145.8" fill="#28c5ae" fill-opacity="0.92"/>
<polygon points="300.8,192.7 306.9,195.7 314.4,194.3 308.3,191.3" fill="#4252f2" class="c"/>
<polygon points="81.9,143.3 88.0,148.3 95.6,147.1 89.5,142.0" fill="#31c995" fill-opacity="0.92"/>
<polygon points="239.9,156.4 246.1,158.6 253.6,156.7 247.5,154.5" fill="#20b6d3" fill-opacity="0.92"/>
<polygon points="314.4,194.3 320.5,197.3 328.1,196.0 322.0,192.9" fill="#4252f2" class="c"/>
<polygon points="407.0,102.4 413.1,104.6 420.6,102.7 414.5,90.7" fill="#f4d260" fill-opacity="0.92"/>
<polygon points="156.4,182.7 162.5,185.1 170.1,183.2 164.0,180.7" fill="#8d93f5" class="c"/>
<polygon points="191.3,167.3 197.5,169.5 205.0,167.6 198.9,165.4" fill="#269fe9" fill-opacity="0.92"/>
<polygon points="328.1,196.0 334.2,199.0 341.8,197.6 335.7,194.6" fill="#4252f2" class="c"/>
<polygon points="94.2,201.4 100.3,204.5 107.8,181.3 101.7,178.2" fill="#7f7cef" class="c"/>
<polygon points="341.8,197.6 347.9,200.7 355.5,199.3 349.3,196.2" fill="#4252f2" class="c"/>
<polygon points="170.1,183.2 176.2,185.7 183.8,183.9 177.7,181.3" fill="#8d93f5" class="c"/>
<polygon points="337.1,124.8 343.2,136.7 350.8,125.0 344.7,122.9" fill="#96d53c" fill-opacity="0.92"/>
<polygon points="355.5,199.3 361.6,202.3 369.1,200.9 363.0,197.9" fill="#4252f2" class="c"/>
<polygon points="372.0,113.6 378.1,115.8 385.7,113.9 379.6,101.9" fill="#e8cf61" fill-opacity="0.92"/>
<polygon points="183.8,183.9 189.9,186.5 197.5,184.7 191.3,182.1" fill="#7f85f4" class="c"/>
<polygon points="369.1,200.9 375.3,204.0 382.8,202.6 376.7,199.5" fill="#4252f2" class="c"/>
<polygon points="420.6,102.7 426.7,95.0 434.3,93.1 428.2,100.8" fill="#f4d260" fill-opacity="0.92"/>
<polygon points="382.8,202.6 388.9,205.6 396.5,204.2 390.4,201.2" fill="#4252f2" class="c"/>
<polygon points="197.5,184.7 203.6,187.5 211.1,185.8 205.0,183.0" fill="#6f78f4" class="c"/>
<polygon points="302.2,145.8 308.3,138.1 315.9,136.2 309.8,134.0" fill="#37cd82" fill-opacity="0.92"/>
<polygon points="396.5,204.2 402.6,207.2 410.2,205.8 404.1,202.8" fill="#4252f2" class="c"/>
<polygon points="434.3,93.1 440.4,105.1 448.0,103.2 441.9,91.2" fill="#f5da58" fill-opacity="0.92"/>
<polygon points="205.0,167.6 211.1,169.8 218.7,158.0 212.6,155.9" fill="#20ace1" fill-opacity="0.92"/>
<polygon points="211.1,185.8 217.2,188.6 224.8,187.0 218.7,184.1" fill="#606bf3" class="c"/>
<polygon points="253.6,156.7 259.7,149.0 267.3,147.1 261.2,145.0" fill="#22bfc2" fill-opacity="0.92"/>
<polygon points="410.2,205.8 416.3,208.7 423.8,207.3 417.7,204.3" fill="#4252f2" class="c"/>
<polygon points="224.8,187.0 230.9,189.8 238.5,188.3 232.4,185.4" fill="#515ef2" class="c"/>
<polygon points="350.8,125.0 356.9,127.2 364.5,115.5 358.4,123.1" fill="#b4d64b" fill-opacity="0.92"/>
<polygon points="385.7,113.9 391.8,106.2 399.4,104.3 393.3,102.1" fill="#e8cf61" fill-opacity="0.92"/>
<polygon points="238.5,188.3 244.6,191.2 252.2,189.6 246.1,186.7" fill="#4252f2" class="c"/>
<polygon points="107.8,181.3 114.0,184.4 121.5,184.0 115.4,181.8" fill="#8a98f5" class="c"/>
<polygon points="315.9,136.2 322.0,138.4 329.6,136.5 323.4,134.3" fill="#4ecf6c" fill-opacity="0.92"/>
<polygon points="129.1,163.2 135.2,166.5 142.8,165.3 136.6,162.0" fill="#20ace1" fill-opacity="0.92"/>
<polygon points="252.2,189.6 258.3,192.6 265.8,191.1 259.7,188.1" fill="#4252f2" class="c"/>
<polygon points="142.8,165.3 148.9,168.5 156.4,167.3 150.3,164.0" fill="#22a7e4" fill-opacity="0.92"/>
<polygon points="267.3,147.1 273.4,149.3 281.0,147.4 274.9,145.2" fill="#2bc6a5" fill-opacity="0.92"/>
<polygon points="121.5,184.0 127.6,186.3 135.2,184.3 129.1,182.0" fill="#8d93f5" class="c"/>
<polygon points="399.4,104.3 405.5,116.3 413.1,104.6 407.0,102.4" fill="#f1cf63" fill-opacity="0.92"/>
<polygon points="115.4,156.0 121.5,164.5 129.1,163.2 123.0,154.7" fill="#21bacb" fill-opacity="0.92"/>
<polygon points="156.4,167.3 162.5,170.8 170.1,169.6 164.0,166.1" fill="#24a3e7" fill-opacity="0.92"/>
<polygon points="265.8,191.1 272.0,194.0 279.5,192.6 273.4,189.6" fill="#4252f2" class="c"/>
<polygon points="218.7,158.0 224.8,160.2 232.4,158.3 226.3,156.1" fill="#20b6d3" fill-opacity="0.92"/>
<polygon points="170.1,169.6 176.2,173.1 183.8,169.2 177.7,167.1" fill="#269eea" fill-opacity="0.92"/>
<polygon points="279.5,192.6 285.6,195.5 293.2,194.1 287.1,191.1" fill="#4252f2" class="c"/>
<polygon points="281.0,147.4 287.1,149.6 294.6,147.7 288.5,145.5" fill="#2bc6a5" fill-opacity="0.92"/>
<polygon points="135.2,184.3 141.3,186.6 148.9,184.6 142.8,182.3" fill="#8d93f5" class="c"/>
<polygon points="101.7,152.1 107.8,157.2 115.4,156.0 109.3,150.9" fill="#23c0bf" fill-opacity="0.92"/>
<polygon points="329.6,136.5 335.7,138.6 343.2,136.7 337.1,124.8" fill="#70d24e" fill-opacity="0.92"/>
<polygon points="88.0,148.3 94.2,153.4 101.7,152.1 95.6,147.1" fill="#2ac6a9" fill-opacity="0.92"/>
<polygon points="293.2,194.1 299.3,197.1 306.9,195.7 300.8,192.7" fill="#4252f2" class="c"/>
<polygon points="232.4,158.3 238.5,160.5 246.1,158.6 239.9,156.4" fill="#20b6d3" fill-opacity="0.92"/>
<polygon points="364.5,115.5 370.6,127.5 378.1,115.8 372.0,113.6" fill="#cfd457" fill-opacity="0.92"/>
<polygon points="306.9,195.7 313.0,198.7 320.5,197.3 314.4,194.3" fill="#4252f2" class="c"/>
<polygon points="148.9,184.6 155.0,187.0 162.5,185.1 156.4,182.7" fill="#8d93f5" class="c"/>
<polygon points="183.8,169.2 189.9,171.4 197.5,169.5 191.3,167.3" fill="#269fe9" fill-opacity="0.92"/>
<polygon points="320.5,197.3 326.7,200.3 334.2,199.0 328.1,196.0" fill="#4252f2" class="c"/>
<polygon points="413.1,104.6 419.2,106.7 426.7,95.0 420.6,102.7" fill="#f4d260" fill-opacity="0.92"/>
<polygon points="294.6,147.7 300.8,149.8 308.3,138.1 302.2,145.8" fill="#37cd82" fill-opacity="0.92"/>
<polygon points="162.5,185.1 168.7,187.5 176.2,185.7 170.1,183.2" fill="#8d93f5" class="c"/>
<polygon points="334.2,199.0 340.3,202.0 347.9,200.7 341.8,197.6" fill="#4252f2" class="c"/>
<polygon points="100.3,204.5 106.4,207.5 114.0,184.4 107.8,181.3" fill="#7f7aef" class="c"/>
<polygon points="197.5,169.5 203.6,171.6 211.1,169.8 205.0,167.6" fill="#269fe9" fill-opacity="0.92"/>
<polygon points="246.1,158.6 252.2,160.7 259.7,149.0 253.6,156.7" fill="#22bfc2" fill-opacity="0.92"/>
<polygon points="347.9,200.7 354.0,203.6 361.6,202.3 355.5,199.3" fill="#4252f2" class="c"/>
<polygon points="176.2,185.7 182.3,188.3 189.9,186.5 183.8,183.9" fill="#7f85f4" class="c"/>
<polygon points="361.6,202.3 367.7,205.3 375.3,204.0 369.1,200.9" fill="#4252f2" class="c"/>
<polygon points="343.2,136.7 349.3,129.1 356.9,127.2 350.8,125.0" fill="#70d24e" fill-opacity="0.92"/>
<polygon points="378.1,115.8 384.3,117.9 391.8,106.2 385.7,113.9" fill="#e8cf61" fill-opacity="0.92"/>
<polygon points="375.3,204.0 381.4,206.9 388.9,205.6 382.8,202.6" fill="#4252f2" class="c"/>
<polygon points="189.9,186.5 196.0,189.2 203.6,187.5 197.5,184.7" fill="#6f78f4" class="c"/>
<polygon points="426.7,95.0 432.9,107.0 440.4,105.1 434.3,93.1" fill="#f5da58" fill-opacity="0.92"/>
<polygon points="388.9,205.6 395.0,208.5 402.6,207.2 396.5,204.2" fill="#4252f2" class="c"/>
<polygon points="203.6,187.5 209.7,190.2 217.2,188.6 211.1,185.8" fill="#606bf3" class="c"/>
<polygon points="402.6,207.2 408.7,210.1 416.3,208.7 410.2,205.8" fill="#4252f2" class="c"/>
<polygon points="440.4,105.1 446.5,97.5 454.1,95.6 448.0,103.2" fill="#f4d260" fill-opacity="0.92"/>
<polygon points="211.1,169.8 217.2,171.9 224.8,160.2 218.7,158.0" fill="#20ace1" fill-opacity="0.92"/>
<polygon points="217.2,188.6 223.4,191.4 230.9,189.8 224.8,187.0" fill="#515ef2" class="c"/>
<polygon points="391.8,106.2 397.9,118.2 405.5,116.3 399.4,104.3" fill="#f1cf63" fill-opacity="0.92"/>
<polygon points="230.9,189.8 237.0,192.7 244.6,191.2 238.5,188.3" fill="#4252f2" class="c"/>
<polygon points="308.3,138.1 314.4,140.3 322.0,138.4 315.9,136.2" fill="#4ecf6c" fill-opacity="0.92"/>
<polygon points="121.5,164.5 127.6,167.8 135.2,166.5 129.1,163.2" fill="#1fade0" fill-opacity="0.92"/>
<polygon points="356.9,127.2 363.0,129.4 370.6,127.5 364.5,115.5" fill="#b4d64b" fill-opacity="0.92"/>
<polygon points="259.7,149.0 265.8,151.2 273.4,149.3 267.3,147.1" fill="#2bc6a5" fill-opacity="0.92"/>
<polygon points="244.6,191.2 250.7,194.0 258.3,192.6 252.2,189.6" fill="#4252f2" class="c"/>
<polygon points="135.2,166.5 141.3,169.8 148.9,168.5 142.8,165.3" fill="#21a9e3" fill-opacity="0.92"/>
<polygon points="114.0,184.4 120.1,187.2 127.6,186.3 121.5,184.0" fill="#8b96f5" class="c"/>
<polygon points="107.8,157.2 114.0,165.7 121.5,164.5 115.4,156.0" fill="#21bbc9" fill-opacity="0.92"/>
<polygon points="148.9,168.5 155.0,172.1 162.5,170.8 156.4,167.3" fill="#24a4e6" fill-opacity="0.92"/>
<polygon points="322.0,138.4 328.1,140.5 335.7,138.6 329.6,136.5" fill="#4ecf6c" fill-opacity="0.92"/>
<polygon points="258.3,192.6 264.4,195.4 272.0,194.0 265.8,191.1" fill="#4252f2" class="c"/>
<polygon points="162.5,170.8 168.7,174.4 176.2,173.1 170.1,169.6" fill="#269fe9" fill-opacity="0.92"/>
<polygon points="273.4,149.3 279.5,151.5 287.1,149.6 281.0,147.4" fill="#2bc6a5" fill-opacity="0.92"/>
<polygon points="127.6,186.3 133.7,188.5 141.3,186.6 135.2,184.3" fill="#8d93f5" class="c"/>
<polygon points="405.5,116.3 411.6,108.6 419.2,106.7 413.1,104.6" fill="#e8cf61" fill-opacity="0.92"/>
<polygon points="272.0,194.0 278.1,196.9 285.6,195.5 279.5,192.6" fill="#4252f2" class="c"/>
<polygon points="94.2,153.4 100.3,158.4 107.8,157.2 101.7,152.1" fill="#23c2bd" fill-opacity="0.92"/>
<polygon points="224.8,160.2 230.9,162.4 238.5,160.5 232.4,158.3" fill="#20b6d3" fill-opacity="0.92"/>
<polygon points="285.6,195.5 291.7,198.5 299.3,197.1 293.2,194.1" fill="#4252f2" class="c"/>
<polygon points="176.2,173.1 182.3,173.3 189.9,171.4 183.8,169.2" fill="#279deb" fill-opacity="0.92"/>
<polygon points="287.1,149.6 293.2,151.7 300.8,149.8 294.6,147.7" fill="#2bc6a5" fill-opacity="0.92"/>
<polygon points="141.3,186.6 147.4,188.9 155.0,187.0 148.9,184.6" fill="#8d93f5" class="c"/>
<polygon points="299.3,197.1 305.4,200.1 313.0,198.7 306.9,195.7" fill="#4252f2" class="c"/>
<polygon points="335.7,138.6 341.8,140.8 349.3,129.1 343.2,136.7" fill="#70d24e" fill-opacity="0.92"/>
<polygon points="238.5,160.5 244.6,162.6 252.2,160.7 246.1,158.6" fill="#20b6d3" fill-opacity="0.92"/>
<polygon points="370.6,127.5 376.7,119.8 384.3,117.9 378.1,115.8" fill="#b4d64b" fill-opacity="0.92"/>
<polygon points="313.0,198.7 319.1,201.7 326.7,200.3 320.5,197.3" fill="#4252f2" class="c"/>
<polygon points="155.0,187.0 161.1,189.4 168.7,187.5 162.5,185.1" fill="#8d93f5" class="c"/>
<polygon points="189.9,171.4 196.0,173.6 203.6,171.6 197.5,169.5" fill="#269fe9" fill-opacity="0.92"/>
<polygon points="326.7,200.3 332.8,203.3 340.3,202.0 334.2,199.0" fill="#4252f2" class="c"/>
<polygon points="340.3,202.0 346.5,205.0 354.0,203.6 347.9,200.7" fill="#4252f2" class="c"/>
<polygon points="168.7,187.5 174.8,190.0 182.3,188.3 176.2,185.7" fill="#7f85f4" class="c"/>
<polygon points="419.2,106.7 425.3,108.9 432.9,107.0 426.7,95.0" fill="#f4d260" fill-opacity="0.92"/>
<polygon points="203.6,171.6 209.7,173.8 217.2,171.9 211.1,169.8" fill="#269fe9" fill-opacity="0.92"/>
<polygon points="354.0,203.6 360.1,206.6 367.7,205.3 361.6,202.3" fill="#4252f2" class="c"/>
<polygon points="182.3,188.3 188.4,190.8 196.0,189.2 189.9,186.5" fill="#6f78f4" class="c"/>
<polygon points="367.7,205.3 373.8,208.2 381.4,206.9 375.3,204.0" fill="#4252f2" class="c"/>
<polygon points="300.8,149.8 306.9,152.0 314.4,140.3 308.3,138.1" fill="#37cd82" fill-opacity="0.92"/>
<polygon points="106.4,207.5 112.5,198.9 120.1,187.2 114.0,184.4" fill="#7e79ee" class="c"/>
<polygon points="381.4,206.9 387.5,209.9 395.0,208.5 388.9,205.6" fill="#4252f2" class="c"/>
<polygon points="252.2,160.7 258.3,162.9 265.8,151.2 259.7,149.0" fill="#22bfc2" fill-opacity="0.92"/>
<polygon points="196.0,189.2 202.1,191.8 209.7,190.2 203.6,187.5" fill="#606bf3" class="c"/>
<polygon points="384.3,117.9 390.4,120.1 397.9,118.2 391.8,106.2" fill="#e8cf61" fill-opacity="0.92"/>
<polygon points="395.0,208.5 401.2,211.4 408.7,210.1 402.6,207.2" fill="#4252f2" class="c"/>
<polygon points="432.9,107.0 439.0,99.4 446.5,97.5 440.4,105.1" fill="#f4d260" fill-opacity="0.92"/>
<polygon points="209.7,190.2 215.8,193.0 223.4,191.4 217.2,188.6" fill="#515ef2" class="c"/>
<polygon points="349.3,129.1 355.5,131.3 363.0,129.4 356.9,127.2" fill="#96d53c" fill-opacity="0.92"/>
<polygon points="397.9,118.2 404.1,120.4 411.6,108.6 405.5,116.3" fill="#e8cf61" fill-opacity="0.92"/>
<polygon points="223.4,191.4 229.5,194.2 237.0,192.7 230.9,189.8" fill="#4252f2" class="c"/>
<polygon points="114.0,165.7 120.1,169.0 127.6,167.8 121.5,164.5" fill="#1eafdf" fill-opacity="0.92"/>
<polygon points="237.0,192.7 243.2,195.5 250.7,194.0 244.6,191.2" fill="#4252f2" class="c"/>
<polygon points="127.6,167.8 133.7,171.0 141.3,169.8 135.2,166.5" fill="#21abe2" fill-opacity="0.92"/>
<polygon points="314.4,140.3 320.5,142.4 328.1,140.5 322.0,138.4" fill="#4ecf6c" fill-opacity="0.92"/>
<polygon points="217.2,171.9 223.4,164.3 230.9,162.4 224.8,160.2" fill="#20ace1" fill-opacity="0.92"/>
<polygon points="100.3,158.4 106.4,167.0 114.0,165.7 107.8,157.2" fill="#21bcc7" fill-opacity="0.92"/>
<polygon points="141.3,169.8 147.4,173.3 155.0,172.1 148.9,168.5" fill="#23a6e5" fill-opacity="0.92"/>
<polygon points="250.7,194.0 256.8,196.9 264.4,195.4 258.3,192.6" fill="#4252f2" class="c"/>
<polygon points="363.0,129.4 369.1,131.5 376.7,119.8 370.6,127.5" fill="#b4d64b" fill-opacity="0.92"/>
<polygon points="155.0,172.1 161.1,175.6 168.7,174.4 162.5,170.8" fill="#25a1e8" fill-opacity="0.92"/>
<polygon points="265.8,151.2 272.0,153.4 279.5,151.5 273.4,149.3" fill="#2bc6a5" fill-opacity="0.92"/>
<polygon points="264.4,195.4 270.5,198.3 278.1,196.9 272.0,194.0" fill="#4252f2" class="c"/>
<polygon points="120.1,187.2 126.2,188.4 133.7,188.5 127.6,186.3" fill="#8c95f5" class="c"/>
<polygon points="328.1,140.5 334.2,142.7 341.8,140.8 335.7,138.6" fill="#4ecf6c" fill-opacity="0.92"/>
<polygon points="168.7,174.4 174.8,177.5 182.3,173.3 176.2,173.1" fill="#279dea" fill-opacity="0.92"/>
<polygon points="278.1,196.9 284.2,199.8 291.7,198.5 285.6,195.5" fill="#4252f2" class="c"/>
<polygon points="279.5,151.5 285.6,153.6 293.2,151.7 287.1,149.6" fill="#2bc6a5" fill-opacity="0.92"/>
<polygon points="133.7,188.5 139.9,190.7 147.4,188.9 141.3,186.6" fill="#8d93f5" class="c"/>
<polygon points="411.6,108.6 417.7,120.6 425.3,108.9 419.2,106.7" fill="#f1cf63" fill-opacity="0.92"/>
<polygon points="291.7,198.5 297.9,201.4 305.4,200.1 299.3,197.1" fill="#4252f2" class="c"/>
<polygon points="230.9,162.4 237.0,164.5 244.6,162.6 238.5,160.5" fill="#20b6d3" fill-opacity="0.92"/>
<polygon points="305.4,200.1 311.5,203.0 319.1,201.7 313.0,198.7" fill="#4252f2" class="c"/>
<polygon points="147.4,188.9 153.5,191.2 161.1,189.4 155.0,187.0" fill="#8d93f5" class="c"/>
<polygon points="293.2,151.7 299.3,153.9 306.9,152.0 300.8,149.8" fill="#2bc6a5" fill-opacity="0.92"/>
<polygon points="182.3,173.3 188.4,175.4 196.0,173.6 189.9,171.4" fill="#269fe9" fill-opacity="0.92"/>
<polygon points="319.1,201.7 325.2,204.6 332.8,203.3 326.7,200.3" fill="#4252f2" class="c"/>
<polygon points="244.6,162.6 250.7,164.8 258.3,162.9 252.2,160.7" fill="#20b6d3" fill-opacity="0.92"/>
<polygon points="376.7,119.8 382.8,131.8 390.4,120.1 384.3,117.9" fill="#cfd457" fill-opacity="0.92"/>
<polygon points="161.1,189.4 167.2,191.8 174.8,190.0 168.7,187.5" fill="#7f86f4" class="c"/>
<polygon points="332.8,203.3 338.9,206.2 346.5,205.0 340.3,202.0" fill="#4252f2" class="c"/>
<polygon points="196.0,173.6 202.1,175.7 209.7,173.8 203.6,171.6" fill="#269fe9" fill-opacity="0.92"/>
<polygon points="341.8,140.8 347.9,143.0 355.5,131.3 349.3,129.1" fill="#70d24e" fill-opacity="0.92"/>
<polygon points="346.5,205.0 352.6,207.9 360.1,206.6 354.0,203.6" fill="#4252f2" class="c"/>
<polygon points="174.8,190.0 180.9,192.5 188.4,190.8 182.3,188.3" fill="#7078f4" class="c"/>
<polygon points="360.1,206.6 366.2,209.5 373.8,208.2 367.7,205.3" fill="#4252f2" class="c"/>
<polygon points="425.3,108.9 431.4,111.1 439.0,99.4 432.9,107.0" fill="#f4d260" fill-opacity="0.92"/>
<polygon points="373.8,208.2 379.9,211.2 387.5,209.9 381.4,206.9" fill="#4252f2" class="c"/>
<polygon points="188.4,190.8 194.6,193.4 202.1,191.8 196.0,189.2" fill="#606bf3" class="c"/>
<polygon points="390.4,120.1 396.5,122.3 404.1,120.4 397.9,118.2" fill="#cfd457" fill-opacity="0.92"/>
<polygon points="387.5,209.9 393.6,212.7 401.2,211.4 395.0,208.5" fill="#4252f2" class="c"/>
<polygon points="209.7,173.8 215.8,176.0 223.4,164.3 217.2,171.9" fill="#20ace1" fill-opacity="0.92"/>
<polygon points="202.1,191.8 208.2,194.5 215.8,193.0 209.7,190.2" fill="#515ef2" class="c"/>
<polygon points="258.3,162.9 264.4,165.1 272.0,153.4 265.8,151.2" fill="#22bfc2" fill-opacity="0.92"/>
<polygon points="306.9,152.0 313.0,144.3 320.5,142.4 314.4,140.3" fill="#37cd82" fill-opacity="0.92"/>
<polygon points="215.8,193.0 221.9,195.7 229.5,194.2 223.4,191.4" fill="#4252f2" class="c"/>
<polygon points="112.5,198.9 118.6,200.1 126.2,188.4 120.1,187.2" fill="#8788f2" class="c"/>
<polygon points="355.5,131.3 361.6,133.4 369.1,131.5 363.0,129.4" fill="#96d53c" fill-opacity="0.92"/>
<polygon points="106.4,167.0 112.5,170.3 120.1,169.0 114.0,165.7" fill="#1eb1dd" fill-opacity="0.92"/>
<polygon points="404.1,120.4 410.2,122.5 417.7,120.6 411.6,108.6" fill="#e8cf61" fill-opacity="0.92"/>
<polygon points="229.5,194.2 235.6,196.9 243.2,195.5 237.0,192.7" fill="#4252f2" class="c"/>
<polygon points="120.1,169.0 126.2,172.3 133.7,171.0 127.6,167.8" fill="#20ace0" fill-opacity="0.92"/>
<polygon points="243.2,195.5 249.3,198.3 256.8,196.9 250.7,194.0" fill="#4252f2" class="c"/>
<polygon points="133.7,171.0 139.9,174.6 147.4,173.3 141.3,169.8" fill="#22a8e3" fill-opacity="0.92"/>
<polygon points="147.4,173.3 153.5,176.9 161.1,175.6 155.0,172.1" fill="#24a3e7" fill-opacity="0.92"/>
<polygon points="320.5,142.4 326.7,144.6 334.2,142.7 328.1,140.5" fill="#4ecf6c" fill-opacity="0.92"/>
<polygon points="256.8,196.9 262.9,199.7 270.5,198.3 264.4,195.4" fill="#4252f2" class="c"/>
<polygon points="161.1,175.6 167.2,178.8 174.8,177.5 168.7,174.4" fill="#279dea" fill-opacity="0.92"/>
<polygon points="369.1,131.5 375.3,133.7 382.8,131.8 376.7,119.8" fill="#b4d64b" fill-opacity="0.92"/>
<polygon points="272.0,153.4 278.1,155.5 285.6,153.6 279.5,151.5" fill="#2bc6a5" fill-opacity="0.92"/>
<polygon points="270.5,198.3 276.6,201.2 284.2,199.8 278.1,196.9" fill="#4252f2" class="c"/>
<polygon points="334.2,142.7 340.3,144.9 347.9,143.0 341.8,140.8" fill="#4ecf6c" fill-opacity="0.92"/>
<polygon points="126.2,188.4 132.3,189.6 139.9,190.7 133.7,188.5" fill="#8a97f5" class="c"/>
<polygon points="223.4,164.3 229.5,166.4 237.0,164.5 230.9,162.4" fill="#20b6d3" fill-opacity="0.92"/>
<polygon points="174.8,177.5 180.9,180.7 188.4,175.4 182.3,173.3" fill="#279ceb" fill-opacity="0.92"/>
<polygon points="284.2,199.8 290.3,202.7 297.9,201.4 291.7,198.5" fill="#4252f2" class="c"/>
<polygon points="139.9,190.7 146.0,193.0 153.5,191.2 147.4,188.9" fill="#8d93f5" class="c"/>
<polygon points="285.6,153.6 291.7,155.8 299.3,153.9 293.2,151.7" fill="#2bc6a5" fill-opacity="0.92"/>
<polygon points="417.7,120.6 423.8,113.0 431.4,111.1 425.3,108.9" fill="#e8cf61" fill-opacity="0.92"/>
<polygon points="297.9,201.4 304.0,204.3 311.5,203.0 305.4,200.1" fill="#4252f2" class="c"/>
<polygon points="237.0,164.5 243.2,166.7 250.7,164.8 244.6,162.6" fill="#20b6d3" fill-opacity="0.92"/>
<polygon points="311.5,203.0 317.6,205.9 325.2,204.6 319.1,201.7" fill="#4252f2" class="c"/>
<polygon points="153.5,191.2 159.6,193.5 167.2,191.8 161.1,189.4" fill="#7e86f4" class="c"/>
<polygon points="188.4,175.4 194.6,177.6 202.1,175.7 196.0,173.6" fill="#269fe9" fill-opacity="0.92"/>
<polygon points="325.2,204.6 331.3,207.5 338.9,206.2 332.8,203.3" fill="#4252f2" class="c"/>
<polygon points="250.7,164.8 256.8,167.0 264.4,165.1 258.3,162.9" fill="#20b6d3" fill-opacity="0.92"/>
<polygon points="338.9,206.2 345.0,209.1 352.6,207.9 346.5,205.0" fill="#4252f2" class="c"/>
<polygon points="382.8,131.8 388.9,124.2 396.5,122.3 390.4,120.1" fill="#b4d64b" fill-opacity="0.92"/>
<polygon points="167.2,191.8 173.3,194.2 180.9,192.5 174.8,190.0" fill="#7078f4" class="c"/>
<polygon points="299.3,153.9 305.4,156.1 313.0,144.3 306.9,152.0" fill="#37cd82" fill-opacity="0.92"/>
<polygon points="202.1,175.7 208.2,177.9 215.8,176.0 209.7,173.8" fill="#269fe9" fill-opacity="0.92"/>
<polygon points="352.6,207.9 358.7,210.8 366.2,209.5 360.1,206.6" fill="#4252f2" class="c"/>
<polygon points="347.9,143.0 354.0,145.1 361.6,133.4 355.5,131.3" fill="#70d24e" fill-opacity="0.92"/>
<polygon points="180.9,192.5 187.0,195.0 194.6,193.4 188.4,190.8" fill="#606bf3" class="c"/>
<polygon points="366.2,209.5 372.4,212.4 379.9,211.2 373.8,208.2" fill="#4252f2" class="c"/>
<polygon points="379.9,211.2 386.0,214.0 393.6,212.7 387.5,209.9" fill="#4252f2" class="c"/>
<polygon points="194.6,193.4 200.7,196.0 208.2,194.5 202.1,191.8" fill="#515ef3" class="c"/>
<polygon points="396.5,122.3 402.6,124.4 410.2,122.5 404.1,120.4" fill="#cfd457" fill-opacity="0.92"/>
<polygon points="208.2,194.5 214.4,197.1 221.9,195.7 215.8,193.0" fill="#4252f2" class="c"/>
<polygon points="221.9,195.7 228.0,198.4 235.6,196.9 229.5,194.2" fill="#4252f2" class="c"/>
<polygon points="215.8,176.0 221.9,178.1 229.5,166.4 223.4,164.3" fill="#20ace1" fill-opacity="0.92"/>
<polygon points="112.5,170.3 118.6,173.5 126.2,172.3 120.1,169.0" fill="#1faedf" fill-opacity="0.92"/>
<polygon points="361.6,133.4 367.7,135.6 375.3,133.7 369.1,131.5" fill="#96d53c" fill-opacity="0.92"/>
<polygon points="235.6,196.9 241.7,199.6 249.3,198.3 243.2,195.5" fill="#4252f2" class="c"/>
<polygon points="264.4,165.1 270.5,157.4 278.1,155.5 272.0,153.4" fill="#22bfc2" fill-opacity="0.92"/>
<polygon points="118.6,200.1 124.7,201.3 132.3,189.6 126.2,188.4" fill="#8889f3" class="c"/>
<polygon points="126.2,172.3 132.3,175.8 139.9,174.6 133.7,171.0" fill="#21a9e2" fill-opacity="0.92"/>
<polygon points="410.2,122.5 416.3,124.7 423.8,113.0 417.7,120.6" fill="#e8cf61" fill-opacity="0.92"/>
<polygon points="139.9,174.6 146.0,178.1 153.5,176.9 147.4,173.3" fill="#24a4e6" fill-opacity="0.92"/>
<polygon points="313.0,144.3 319.1,146.5 326.7,144.6 320.5,142.4" fill="#4ecf6c" fill-opacity="0.92"/>
<polygon points="249.3,198.3 255.4,201.0 262.9,199.7 256.8,196.9" fill="#4252f2" class="c"/>
<polygon points="153.5,176.9 159.6,180.0 167.2,178.8 161.1,175.6" fill="#269fe9" fill-opacity="0.92"/>
<polygon points="167.2,178.8 173.3,182.0 180.9,180.7 174.8,177.5" fill="#289bec" fill-opacity="0.92"/>
<polygon points="262.9,199.7 269.1,202.5 276.6,201.2 270.5,198.3" fill="#4252f2" class="c"/>
<polygon points="326.7,144.6 332.8,146.8 340.3,144.9 334.2,142.7" fill="#4ecf6c" fill-opacity="0.92"/>
<polygon points="276.6,201.2 282.7,204.0 290.3,202.7 284.2,199.8" fill="#4252f2" class="c"/>
<polygon points="375.3,133.7 381.4,135.9 388.9,124.2 382.8,131.8" fill="#b4d64b" fill-opacity="0.92"/>
<polygon points="278.1,155.5 284.2,157.7 291.7,155.8 285.6,153.6" fill="#2bc6a5" fill-opacity="0.92"/>
<polygon points="290.3,202.7 296.4,205.5 304.0,204.3 297.9,201.4" fill="#4252f2" class="c"/>
<polygon points="180.9,180.7 187.0,183.9 194.6,177.6 188.4,175.4" fill="#289bec" fill-opacity="0.92"/>
<polygon points="340.3,144.9 346.5,147.0 354.0,145.1 347.9,143.0" fill="#4ecf6c" fill-opacity="0.92"/>
<polygon points="229.5,166.4 235.6,168.6 243.2,166.7 237.0,164.5" fill="#20b6d3" fill-opacity="0.92"/>
<polygon points="132.3,189.6 138.4,190.8 146.0,193.0 139.9,190.7" fill="#8999f5" class="c"/>
<polygon points="304.0,204.3 310.1,207.1 317.6,205.9 311.5,203.0" fill="#4252f2" class="c"/>
<polygon points="146.0,193.0 152.1,195.2 159.6,193.5 153.5,191.2" fill="#7e86f4" class="c"/>
<polygon points="291.7,155.8 297.9,158.0 305.4,156.1 299.3,153.9" fill="#2bc6a5" fill-opacity="0.92"/>
<polygon points="317.6,205.9 323.8,208.7 331.3,207.5 325.2,204.6" fill="#4252f2" class="c"/>
<polygon points="243.2,166.7 249.3,168.9 256.8,167.0 250.7,164.8" fill="#20b6d3" fill-opacity="0.92"/>
<polygon points="159.6,193.5 165.8,195.8 173.3,194.2 167.2,191.8" fill="#6f79f4" class="c"/>
<polygon points="331.3,207.5 337.4,210.4 345.0,209.1 338.9,206.2" fill="#4252f2" class="c"/>
<polygon points="194.6,177.6 200.7,179.8 208.2,177.9 202.1,175.7" fill="#269fe9" fill-opacity="0.92"/>
<polygon points="345.0,209.1 351.1,212.0 358.7,210.8 352.6,207.9" fill="#4252f2" class="c"/>
<polygon points="388.9,124.2 395.0,136.1 402.6,124.4 396.5,122.3" fill="#cfd457" fill-opacity="0.92"/>
<polygon points="173.3,194.2 179.4,196.6 187.0,195.0 180.9,192.5" fill="#606bf3" class="c"/>
<polygon points="358.7,210.8 364.8,213.6 372.4,212.4 366.2,209.5" fill="#4252f2" class="c"/>
<polygon points="208.2,177.9 214.4,180.0 221.9,178.1 215.8,176.0" fill="#269fe9" fill-opacity="0.92"/>
<polygon points="354.0,145.1 360.1,147.3 367.7,135.6 361.6,133.4" fill="#70d24e" fill-opacity="0.92"/>
<polygon points="372.4,212.4 378.5,215.2 386.0,214.0 379.9,211.2" fill="#4252f2" class="c"/>
<polygon points="187.0,195.0 193.1,197.6 200.7,196.0 194.6,193.4" fill="#515ff3" class="c"/>
<polygon points="256.8,167.0 262.9,169.1 270.5,157.4 264.4,165.1" fill="#22bfc2" fill-opacity="0.92"/>
<polygon points="305.4,156.1 311.5,158.2 319.1,146.5 313.0,144.3" fill="#37cd82" fill-opacity="0.92"/>
<polygon points="200.7,196.0 206.8,198.6 214.4,197.1 208.2,194.5" fill="#4252f2" class="c"/>
<polygon points="402.6,124.4 408.7,126.6 416.3,124.7 410.2,122.5" fill="#cfd457" fill-opacity="0.92"/>
<polygon points="214.4,197.1 220.5,199.8 228.0,198.4 221.9,195.7" fill="#4252f2" class="c"/>
<polygon points="228.0,198.4 234.1,201.0 241.7,199.6 235.6,196.9" fill="#4252f2" class="c"/>
<polygon points="118.6,173.5 124.7,177.1 132.3,175.8 126.2,172.3" fill="#20abe1" fill-opacity="0.92"/>
<polygon points="132.3,175.8 138.4,179.3 146.0,178.1 139.9,174.6" fill="#23a6e5" fill-opacity="0.92"/>
<polygon points="221.9,178.1 228.0,180.3 235.6,168.6 229.5,166.4" fill="#20ace1" fill-opacity="0.92"/>
<polygon points="241.7,199.6 247.8,202.4 255.4,201.0 249.3,198.3" fill="#4252f2" class="c"/>
<polygon points="367.7,135.6 373.8,137.8 381.4,135.9 375.3,133.7" fill="#96d53c" fill-opacity="0.92"/>
<polygon points="146.0,178.1 152.1,181.3 159.6,180.0 153.5,176.9" fill="#25a1e8" fill-opacity="0.92"/>
<polygon points="159.6,180.0 165.8,183.2 173.3,182.0 167.2,178.8" fill="#279ceb" fill-opacity="0.92"/>
<polygon points="255.4,201.0 261.5,203.8 269.1,202.5 262.9,199.7" fill="#4252f2" class="c"/>
<polygon points="319.1,146.5 325.2,148.7 332.8,146.8 326.7,144.6" fill="#4ecf6c" fill-opacity="0.92"/>
<polygon points="124.7,201.3 130.8,202.5 138.4,190.8 132.3,189.6" fill="#898bf3" class="c"/>
<polygon points="173.3,182.0 179.4,185.2 187.0,183.9 180.9,180.7" fill="#2899ec" fill-opacity="0.92"/>
<polygon points="270.5,157.4 276.6,159.6 284.2,157.7 278.1,155.5" fill="#2bc6a5" fill-opacity="0.92"/>
<polygon points="269.1,202.5 275.2,205.2 282.7,204.0 276.6,201.2" fill="#4252f2" class="c"/>
<polygon points="332.8,146.8 338.9,148.9 346.5,147.0 340.3,144.9" fill="#4ecf6c" fill-opacity="0.92"/>
<polygon points="282.7,204.0 288.8,206.8 296.4,205.5 290.3,202.7" fill="#4252f2" class="c"/>
<polygon points="381.4,135.9 387.5,138.0 395.0,136.1 388.9,124.2" fill="#b4d64b" fill-opacity="0.92"/>
<polygon points="284.2,157.7 290.3,159.9 297.9,158.0 291.7,155.8" fill="#2bc6a5" fill-opacity="0.92"/>
<polygon points="296.4,205.5 302.5,208.3 310.1,207.1 304.0,204.3" fill="#4252f2" class="c"/>
<polygon points="346.5,147.0 352.6,149.2 360.1,147.3 354.0,145.1" fill="#4ecf6c" fill-opacity="0.92"/>
<polygon points="235.6,168.6 241.7,170.8 249.3,168.9 243.2,166.7" fill="#20b6d3" fill-opacity="0.92"/>
<polygon points="310.1,207.1 316.2,209.9 323.8,208.7 317.6,205.9" fill="#4252f2" class="c"/>
<polygon points="187.0,183.9 193.1,181.7 200.7,179.8 194.6,177.6" fill="#289aec" fill-opacity="0.92"/>
<polygon points="138.4,190.8 144.5,191.9 152.1,195.2 146.0,193.0" fill="#7a8cf4" class="c"/>
<polygon points="152.1,195.2 158.2,197.5 165.8,195.8 159.6,193.5" fill="#6f79f4" class="c"/>
<polygon points="297.9,158.0 304.0,160.1 311.5,158.2 305.4,156.1" fill="#2bc6a5" fill-opacity="0.92"/>
<polygon points="323.8,208.7 329.9,211.5 337.4,210.4 331.3,207.5" fill="#4252f2" class="c"/>
<polygon points="249.3,168.9 255.4,171.0 262.9,169.1 256.8,167.0" fill="#20b6d3" fill-opacity="0.92"/>
<polygon points="337.4,210.4 343.6,213.2 351.1,212.0 345.0,209.1" fill="#4252f2" class="c"/>
<polygon points="165.8,195.8 171.9,198.2 179.4,196.6 173.3,194.2" fill="#606cf3" class="c"/>
<polygon points="200.7,179.8 206.8,181.9 214.4,180.0 208.2,177.9" fill="#269fe9" fill-opacity="0.92"/>
<polygon points="351.1,212.0 357.2,214.8 364.8,213.6 358.7,210.8" fill="#4252f2" class="c"/>
<polygon points="179.4,196.6 185.6,199.1 193.1,197.6 187.0,195.0" fill="#515ff3" class="c"/>
<polygon points="364.8,213.6 370.9,216.4 378.5,215.2 372.4,212.4" fill="#4252f2" class="c"/>
<polygon points="395.0,136.1 401.2,128.5 408.7,126.6 402.6,124.4" fill="#b4d64b" fill-opacity="0.92"/>
<polygon points="214.4,180.0 220.5,182.2 228.0,180.3 221.9,178.1" fill="#269fe9" fill-opacity="0.92"/>
<polygon points="193.1,197.6 199.2,200.1 206.8,198.6 200.7,196.0" fill="#4252f2" class="c"/>
<polygon points="360.1,147.3 366.2,149.5 373.8,137.8 367.7,135.6" fill="#70d24e" fill-opacity="0.92"/>
<polygon points="206.8,198.6 212.9,201.2 220.5,199.8 214.4,197.1" fill="#4252f2" class="c"/>
<polygon points="262.9,169.1 269.1,171.3 276.6,159.6 270.5,157.4" fill="#22bfc2" fill-opacity="0.92"/>
<polygon points="220.5,199.8 226.6,202.4 234.1,201.0 228.0,198.4" fill="#4252f2" class="c"/>
<polygon points="311.5,158.2 317.6,150.6 325.2,148.7 319.1,146.5" fill="#37cd82" fill-opacity="0.92"/>
<polygon points="124.7,177.1 130.8,180.6 138.4,179.3 132.3,175.8" fill="#22a8e4" fill-opacity="0.92"/>
<polygon points="234.1,201.0 240.3,203.7 247.8,202.4 241.7,199.6" fill="#4252f2" class="c"/>
<polygon points="138.4,179.3 144.5,182.5 152.1,181.3 146.0,178.1" fill="#24a2e7" fill-opacity="0.92"/>
<polygon points="152.1,181.3 158.2,184.5 165.8,183.2 159.6,180.0" fill="#269eea" fill-opacity="0.92"/>
<polygon points="247.8,202.4 253.9,205.0 261.5,203.8 255.4,201.0" fill="#4252f2" class="c"/>
<polygon points="373.8,137.8 379.9,139.9 387.5,138.0 381.4,135.9" fill="#96d53c" fill-opacity="0.92"/>
<polygon points="165.8,183.2 171.9,186.4 179.4,185.2 173.3,182.0" fill="#289aec" fill-opacity="0.92"/>
<polygon points="261.5,203.8 267.6,206.5 275.2,205.2 269.1,202.5" fill="#4252f2" class="c"/>
<polygon points="325.2,148.7 331.3,150.8 338.9,148.9 332.8,146.8" fill="#4ecf6c" fill-opacity="0.92"/>
<polygon points="228.0,180.3 234.1,172.7 241.7,170.8 235.6,168.6" fill="#20ace1" fill-opacity="0.92"/>
<polygon points="275.2,205.2 281.3,208.0 288.8,206.8 282.7,204.0" fill="#4252f2" class="c"/>
<polygon points="130.8,202.5 137.0,203.7 144.5,191.9 138.4,190.8" fill="#7c81f3" class="c"/>
<polygon points="179.4,185.2 185.6,188.3 193.1,181.7 187.0,183.9" fill="#289bec" fill-opacity="0.92"/>
<polygon points="276.6,159.6 282.7,161.8 290.3,159.9 284.2,157.7" fill="#2bc6a5" fill-opacity="0.92"/>
<polygon points="288.8,206.8 295.0,209.5 302.5,208.3 296.4,205.5" fill="#4252f2" class="c"/>
<polygon points="338.9,148.9 345.0,151.1 352.6,149.2 346.5,147.0" fill="#4ecf6c" fill-opacity="0.92"/>
<polygon points="387.5,138.0 393.6,140.2 401.2,128.5 395.0,136.1" fill="#b4d64b" fill-opacity="0.92"/>
<polygon points="302.5,208.3 308.6,211.1 316.2,209.9 310.1,207.1" fill="#4252f2" class="c"/>
<polygon points="290.3,159.9 296.4,162.0 304.0,160.1 297.9,158.0" fill="#2bc6a5" fill-opacity="0.92"/>
<polygon points="316.2,209.9 322.3,212.7 329.9,211.5 323.8,208.7" fill="#4252f2" class="c"/>
<polygon points="352.6,149.2 358.7,151.4 366.2,149.5 360.1,147.3" fill="#4ecf6c" fill-opacity="0.92"/>
<polygon points="241.7,170.8 247.8,172.9 255.4,171.0 249.3,168.9" fill="#20b6d3" fill-opacity="0.92"/>
<polygon points="158.2,197.5 164.3,199.8 171.9,198.2 165.8,195.8" fill="#606cf3" class="c"/>
<polygon points="329.9,211.5 336.0,214.3 343.6,213.2 337.4,210.4" fill="#4252f2" class="c"/>
<polygon points="193.1,181.7 199.2,183.8 206.8,181.9 200.7,179.8" fill="#269fe9" fill-opacity="0.92"/>
<polygon points="343.6,213.2 349.7,216.0 357.2,214.8 351.1,212.0" fill="#4252f2" class="c"/>
<polygon points="255.4,171.0 261.5,173.2 269.1,171.3 262.9,169.1" fill="#20b6d3" fill-opacity="0.92"/>
<polygon points="171.9,198.2 178.0,200.6 185.6,199.1 179.4,196.6" fill="#515ff3" class="c"/>
<polygon points="144.5,191.9 150.6,185.8 158.2,197.5 152.1,195.2" fill="#6a80f4" class="c"/>
<polygon points="357.2,214.8 363.3,217.5 370.9,216.4 364.8,213.6" fill="#4252f2" class="c"/>
<polygon points="304.0,160.1 310.1,162.3 317.6,150.6 311.5,158.2" fill="#37cd82" fill-opacity="0.92"/>
<polygon points="206.8,181.9 212.9,184.1 220.5,182.2 214.4,180.0" fill="#269fe9" fill-opacity="0.92"/>
<polygon points="185.6,199.1 191.7,201.5 199.2,200.1 193.1,197.6" fill="#4252f2" class="c"/>
<polygon points="199.2,200.1 205.3,202.6 212.9,201.2 206.8,198.6" fill="#4252f2" class="c"/>
<polygon points="366.2,149.5 372.4,151.6 379.9,139.9 373.8,137.8" fill="#70d24e" fill-opacity="0.92"/>
<polygon points="212.9,201.2 219.0,203.7 226.6,202.4 220.5,199.8" fill="#4252f2" class="c"/>
<polygon points="220.5,182.2 226.6,184.4 234.1,172.7 228.0,180.3" fill="#20ace1" fill-opacity="0.92"/>
<polygon points="226.6,202.4 232.7,205.0 240.3,203.7 234.1,201.0" fill="#4252f2" class="c"/>
<polygon points="130.8,180.6 137.0,183.8 144.5,182.5 138.4,179.3" fill="#24a4e6" fill-opacity="0.92"/>
<polygon points="144.5,182.5 150.6,185.7 158.2,184.5 152.1,181.3" fill="#26a0e9" fill-opacity="0.92"/>
<polygon points="240.3,203.7 246.4,206.3 253.9,205.0 247.8,202.4" fill="#4252f2" class="c"/>
<polygon points="269.1,171.3 275.2,163.7 282.7,161.8 276.6,159.6" fill="#22bfc2" fill-opacity="0.92"/>
<polygon points="158.2,184.5 164.3,187.7 171.9,186.4 165.8,183.2" fill="#289cec" fill-opacity="0.92"/>
<polygon points="317.6,150.6 323.8,152.7 331.3,150.8 325.2,148.7" fill="#4ecf6c" fill-opacity="0.92"/>
<polygon points="253.9,205.0 260.0,207.7 267.6,206.5 261.5,203.8" fill="#4252f2" class="c"/>
<polygon points="171.9,186.4 178.0,189.6 185.6,188.3 179.4,185.2" fill="#2898ed" fill-opacity="0.92"/>
<polygon points="379.9,139.9 386.0,142.1 393.6,140.2 387.5,138.0" fill="#96d53c" fill-opacity="0.92"/>
<polygon points="267.6,206.5 273.7,209.2 281.3,208.0 275.2,205.2" fill="#4252f2" class="c"/>
<polygon points="331.3,150.8 337.4,153.0 345.0,151.1 338.9,148.9" fill="#4ecf6c" fill-opacity="0.92"/>
<polygon points="281.3,208.0 287.4,210.7 295.0,209.5 288.8,206.8" fill="#4252f2" class="c"/>
<polygon points="282.7,161.8 288.8,163.9 296.4,162.0 290.3,159.9" fill="#2bc6a5" fill-opacity="0.92"/>
<polygon points="295.0,209.5 301.1,212.3 308.6,211.1 302.5,208.3" fill="#4252f2" class="c"/>
<polygon points="185.6,188.3 191.7,191.3 199.2,183.8 193.1,181.7" fill="#2899ec" fill-opacity="0.92"/>
<polygon points="345.0,151.1 351.1,153.3 358.7,151.4 352.6,149.2" fill="#4ecf6c" fill-opacity="0.92"/>
<polygon points="234.1,172.7 240.3,174.8 247.8,172.9 241.7,170.8" fill="#20b6d3" fill-opacity="0.92"/>
<polygon points="308.6,211.1 314.8,213.9 322.3,212.7 316.2,209.9" fill="#4252f2" class="c"/>
<polygon points="296.4,162.0 302.5,164.2 310.1,162.3 304.0,160.1" fill="#2bc6a5" fill-opacity="0.92"/>
<polygon points="322.3,212.7 328.4,215.5 336.0,214.3 329.9,211.5" fill="#4252f2" class="c"/>
<polygon points="358.7,151.4 364.8,153.5 372.4,151.6 366.2,149.5" fill="#4ecf6c" fill-opacity="0.92"/>
<polygon points="247.8,172.9 253.9,175.1 261.5,173.2 255.4,171.0" fill="#20b6d3" fill-opacity="0.92"/>
<polygon points="137.0,203.7 143.1,197.5 150.6,185.8 144.5,191.9" fill="#6f77f3" class="c"/>
<polygon points="336.0,214.3 342.1,217.1 349.7,216.0 343.6,213.2" fill="#4252f2" class="c"/>
<polygon points="164.3,199.8 170.4,202.1 178.0,200.6 171.9,198.2" fill="#515ff3" class="c"/>
<polygon points="199.2,183.8 205.3,186.0 212.9,184.1 206.8,181.9" fill="#269fe9" fill-opacity="0.92"/>
<polygon points="349.7,216.0 355.8,218.6 363.3,217.5 357.2,214.8" fill="#4252f2" class="c"/>
<polygon points="150.6,185.8 156.7,201.4 164.3,199.8 158.2,197.5" fill="#5976f3" class="c"/>
<polygon points="178.0,200.6 184.1,203.0 191.7,201.5 185.6,199.1" fill="#4252f2" class="c"/>
<polygon points="212.9,184.1 219.0,186.3 226.6,184.4 220.5,182.2" fill="#269fe9" fill-opacity="0.92"/>
<polygon points="191.7,201.5 197.8,204.0 205.3,202.6 199.2,200.1" fill="#4252f2" class="c"/>
<polygon points="261.5,173.2 267.6,175.4 275.2,163.7 269.1,171.3" fill="#22bfc2" fill-opacity="0.92"/>
<polygon points="310.1,162.3 316.2,164.5 323.8,152.7 317.6,150.6" fill="#37cd82" fill-opacity="0.92"/>
<polygon points="205.3,202.6 211.5,205.1 219.0,203.7 212.9,201.2" fill="#4252f2" class="c"/>
<polygon points="372.4,151.6 378.5,153.8 386.0,142.1 379.9,139.9" fill="#70d24e" fill-opacity="0.92"/>
<polygon points="219.0,203.7 225.1,206.3 232.7,205.0 226.6,202.4" fill="#4252f2" class="c"/>
<polygon points="137.0,183.8 143.1,187.0 150.6,185.7 144.5,182.5" fill="#25a2e8" fill-opacity="0.92"/>
<polygon points="232.7,205.0 238.8,207.6 246.4,206.3 240.3,203.7" fill="#4252f2" class="c"/>
<polygon points="150.6,185.7 156.7,188.9 164.3,187.7 158.2,184.5" fill="#279deb" fill-opacity="0.92"/>
<polygon points="246.4,206.3 252.5,208.9 260.0,207.7 253.9,205.0" fill="#4252f2" class="c"/>
<polygon points="226.6,184.4 232.7,186.5 240.3,174.8 234.1,172.7" fill="#20ace1" fill-opacity="0.92"/>
<polygon points="164.3,187.7 170.4,190.8 178.0,189.6 171.9,186.4" fill="#2899ec" fill-opacity="0.92"/>
<polygon points="260.0,207.7 266.2,210.4 273.7,209.2 267.6,206.5" fill="#4252f2" class="c"/>
<polygon points="178.0,189.6 184.1,192.6 191.7,191.3 185.6,188.3" fill="#2896ed" fill-opacity="0.92"/>
<polygon points="323.8,152.7 329.9,154.9 337.4,153.0 331.3,150.8" fill="#4ecf6c" fill-opacity="0.92"/>
<polygon points="273.7,209.2 279.8,211.9 287.4,210.7 281.3,208.0" fill="#4252f2" class="c"/>
<polygon points="275.2,163.7 281.3,165.8 288.8,163.9 282.7,161.8" fill="#2bc6a5" fill-opacity="0.92"/>
<polygon points="287.4,210.7 293.5,213.4 301.1,212.3 295.0,209.5" fill="#4252f2" class="c"/>
<polygon points="337.4,153.0 343.6,155.2 351.1,153.3 345.0,151.1" fill="#4ecf6c" fill-opacity="0.92"/>
<polygon points="301.1,212.3 307.2,215.0 314.8,213.9 308.6,211.1" fill="#4252f2" class="c"/>
<polygon points="288.8,163.9 295.0,166.1 302.5,164.2 296.4,162.0" fill="#2bc6a5" fill-opacity="0.92"/>
<polygon points="314.8,213.9 320.9,216.6 328.4,215.5 322.3,212.7" fill="#4252f2" class="c"/>
<polygon points="351.1,153.3 357.2,155.4 364.8,153.5 358.7,151.4" fill="#4ecf6c" fill-opacity="0.92"/>
<polygon points="240.3,174.8 246.4,177.0 253.9,175.1 247.8,172.9" fill="#20b6d3" fill-opacity="0.92"/>
<polygon points="191.7,191.3 197.8,187.9 205.3,186.0 199.2,183.8" fill="#2899ec" fill-opacity="0.92"/>
<polygon points="328.4,215.5 334.5,218.2 342.1,217.1 336.0,214.3" fill="#4252f2" class="c"/>
<polygon points="156.7,201.4 162.9,203.6 170.4,202.1 164.3,199.8" fill="#515ff3" class="c"/>
<polygon points="302.5,164.2 308.6,166.4 316.2,164.5 310.1,162.3" fill="#2bc6a5" fill-opacity="0.92"/>
<polygon points="342.1,217.1 348.2,219.7 355.8,218.6 349.7,216.0" fill="#4252f2" class="c"/>
<polygon points="364.8,153.5 370.9,155.7 378.5,153.8 372.4,151.6" fill="#4ecf6c" fill-opacity="0.92"/>
<polygon points="253.9,175.1 260.0,177.3 267.6,175.4 261.5,173.2" fill="#20b6d3" fill-opacity="0.92"/>
<polygon points="143.1,197.5 149.2,202.9 156.7,201.4 150.6,185.8" fill="#5d70f3" class="c"/>
<polygon points="170.4,202.1 176.5,204.4 184.1,203.0 178.0,200.6" fill="#4252f2" class="c"/>
<polygon points="205.3,186.0 211.5,188.2 219.0,186.3 212.9,184.1" fill="#269fe9" fill-opacity="0.92"/>
<polygon points="184.1,203.0 190.2,205.3 197.8,204.0 191.7,201.5" fill="#4252f2" class="c"/>
<polygon points="219.0,186.3 225.1,188.4 232.7,186.5 226.6,184.4" fill="#269fe9" fill-opacity="0.92"/>
<polygon points="197.8,204.0 203.9,206.4 211.5,205.1 205.3,202.6" fill="#4252f2" class="c"/>
<polygon points="211.5,205.1 217.6,207.5 225.1,206.3 219.0,203.7" fill="#4252f2" class="c"/>
<polygon points="267.6,175.4 273.7,177.5 281.3,165.8 275.2,163.7" fill="#22bfc2" fill-opacity="0.92"/>
<polygon points="225.1,206.3 231.2,208.8 238.8,207.6 232.7,205.0" fill="#4252f2" class="c"/>
<polygon points="316.2,164.5 322.3,156.8 329.9,154.9 323.8,152.7" fill="#37cd82" fill-opacity="0.92"/>
<polygon points="143.1,187.0 149.2,190.1 156.7,188.9 150.6,185.7" fill="#269fe9" fill-opacity="0.92"/>
<polygon points="238.8,207.6 244.9,210.1 252.5,208.9 246.4,206.3" fill="#4252f2" class="c"/>
<polygon points="156.7,188.9 162.9,192.1 170.4,190.8 164.3,187.7" fill="#289bec" fill-opacity="0.92"/>
<polygon points="170.4,190.8 176.5,193.8 184.1,192.6 178.0,189.6" fill="#2897ed" fill-opacity="0.92"/>
<polygon points="252.5,208.9 258.6,211.5 266.2,210.4 260.0,207.7" fill="#4252f2" class="c"/>
<polygon points="266.2,210.4 272.3,213.0 279.8,211.9 273.7,209.2" fill="#4252f2" class="c"/>
<polygon points="329.9,154.9 336.0,157.1 343.6,155.2 337.4,153.0" fill="#4ecf6c" fill-opacity="0.92"/>
<polygon points="184.1,192.6 190.2,195.6 197.8,187.9 191.7,191.3" fill="#2899ec" fill-opacity="0.92"/>
<polygon points="232.7,186.5 238.8,178.9 246.4,177.0 240.3,174.8" fill="#20ace1" fill-opacity="0.92"/>
<polygon points="279.8,211.9 286.0,214.5 293.5,213.4 287.4,210.7" fill="#4252f2" class="c"/>
<polygon points="281.3,165.8 287.4,168.0 295.0,166.1 288.8,163.9" fill="#2bc6a5" fill-opacity="0.92"/>
<polygon points="293.5,213.4 299.6,216.1 307.2,215.0 301.1,212.3" fill="#4252f2" class="c"/>
<polygon points="343.6,155.2 349.7,157.3 357.2,155.4 351.1,153.3" fill="#4ecf6c" fill-opacity="0.92"/>
<polygon points="307.2,215.0 313.3,217.7 320.9,216.6 314.8,213.9" fill="#4252f2" class="c"/>
<polygon points="295.0,166.1 301.1,168.3 308.6,166.4 302.5,164.2" fill="#2bc6a5" fill-opacity="0.92"/>
<polygon points="149.2,202.9 155.3,205.1 162.9,203.6 156.7,201.4" fill="#515ff3" class="c"/>
<polygon points="320.9,216.6 327.0,219.3 334.5,218.2 328.4,215.5" fill="#4252f2" class="c"/>
<polygon points="357.2,155.4 363.3,157.6 370.9,155.7 364.8,153.5" fill="#4ecf6c" fill-opacity="0.92"/>
<polygon points="246.4,177.0 252.5,179.2 260.0,177.3 253.9,175.1" fill="#20b6d3" fill-opacity="0.92"/>
<polygon points="334.5,218.2 340.7,220.8 348.2,219.7 342.1,217.1" fill="#4252f2" class="c"/>
<polygon points="162.9,203.6 169.0,205.8 176.5,204.4 170.4,202.1" fill="#4252f2" class="c"/>
<polygon points="197.8,187.9 203.9,190.1 211.5,188.2 205.3,186.0" fill="#269fe9" fill-opacity="0.92"/>
<polygon points="260.0,177.3 266.2,179.4 273.7,177.5 267.6,175.4" fill="#20b6d3" fill-opacity="0.92"/>
<polygon points="176.5,204.4 182.7,206.7 190.2,205.3 184.1,203.0" fill="#4252f2" class="c"/>
<polygon points="308.6,166.4 314.8,168.5 322.3,156.8 316.2,164.5" fill="#37cd82" fill-opacity="0.92"/>
<polygon points="211.5,188.2 217.6,190.3 225.1,188.4 219.0,186.3" fill="#269fe9" fill-opacity="0.92"/>
<polygon points="190.2,205.3 196.3,207.7 203.9,206.4 197.8,204.0" fill="#4252f2" class="c"/>
<polygon points="203.9,206.4 210.0,208.8 217.6,207.5 211.5,205.1" fill="#4252f2" class="c"/>
<polygon points="217.6,207.5 223.7,210.0 231.2,208.8 225.1,206.3" fill="#4252f2" class="c"/>
<polygon points="225.1,188.4 231.2,190.6 238.8,178.9 232.7,186.5" fill="#20ace1" fill-opacity="0.92"/>
<polygon points="231.2,208.8 237.4,211.3 244.9,210.1 238.8,207.6" fill="#4252f2" class="c"/>
<polygon points="149.2,190.1 155.3,193.3 162.9,192.1 156.7,188.9" fill="#279ceb" fill-opacity="0.92"/>
<polygon points="162.9,192.1 169.0,195.1 176.5,193.8 170.4,190.8" fill="#2899ec" fill-opacity="0.92"/>
<polygon points="244.9,210.1 251.0,212.7 258.6,211.5 252.5,208.9" fill="#4252f2" class="c"/>
<polygon points="273.7,177.5 279.8,169.9 287.4,168.0 281.3,165.8" fill="#22bfc2" fill-opacity="0.92"/>
<polygon points="176.5,193.8 182.7,196.8 190.2,195.6 184.1,192.6" fill="#2896ed" fill-opacity="0.92"/>
<polygon points="258.6,211.5 264.7,214.1 272.3,213.0 266.2,210.4" fill="#4252f2" class="c"/>
<polygon points="322.3,156.8 328.4,159.0 336.0,157.1 329.9,154.9" fill="#4ecf6c" fill-opacity="0.92"/>
<polygon points="272.3,213.0 278.4,215.6 286.0,214.5 279.8,211.9" fill="#4252f2" class="c"/>
<polygon points="286.0,214.5 292.1,217.1 299.6,216.1 293.5,213.4" fill="#4252f2" class="c"/>
<polygon points="336.0,157.1 342.1,159.2 349.7,157.3 343.6,155.2" fill="#4ecf6c" fill-opacity="0.92"/>
<polygon points="190.2,195.6 196.3,198.6 203.9,190.1 197.8,187.9" fill="#2898ed" fill-opacity="0.92"/>
<polygon points="299.6,216.1 305.7,218.7 313.3,217.7 307.2,215.0" fill="#4252f2" class="c"/>
<polygon points="287.4,168.0 293.5,170.2 301.1,168.3 295.0,166.1" fill="#2bc6a5" fill-opacity="0.92"/>
<polygon points="349.7,157.3 355.8,159.5 363.3,157.6 357.2,155.4" fill="#4ecf6c" fill-opacity="0.92"/>
<polygon points="313.3,217.7 319.4,220.3 327.0,219.3 320.9,216.6" fill="#4252f2" class="c"/>
<polygon points="238.8,178.9 244.9,181.1 252.5,179.2 246.4,177.0" fill="#20b6d3" fill-opacity="0.92"/>
<polygon points="301.1,168.3 307.2,170.4 314.8,168.5 308.6,166.4" fill="#2bc6a5" fill-opacity="0.92"/>
<polygon points="327.0,219.3 333.1,221.8 340.7,220.8 334.5,218.2" fill="#4252f2" class="c"/>
<polygon points="155.3,205.1 161.4,207.2 169.0,205.8 162.9,203.6" fill="#4252f2" class="c"/>
<polygon points="252.5,179.2 258.6,181.3 266.2,179.4 260.0,177.3" fill="#20b6d3" fill-opacity="0.92"/>
<polygon points="169.0,205.8 175.1,208.1 182.7,206.7 176.5,204.4" fill="#4252f2" class="c"/>
<polygon points="203.9,190.1 210.0,192.2 217.6,190.3 211.5,188.2" fill="#269fe9" fill-opacity="0.92"/>
<polygon points="182.7,206.7 188.8,209.0 196.3,207.7 190.2,205.3" fill="#4252f2" class="c"/>
<polygon points="217.6,190.3 223.7,192.5 231.2,190.6 225.1,188.4" fill="#269fe9" fill-opacity="0.92"/>
<polygon points="196.3,207.7 202.4,210.1 210.0,208.8 203.9,206.4" fill="#4252f2" class="c"/>
<polygon points="266.2,179.4 272.3,181.6 279.8,169.9 273.7,177.5" fill="#22bfc2" fill-opacity="0.92"/>
<polygon points="314.8,168.5 320.9,170.7 328.4,159.0 322.3,156.8" fill="#37cd82" fill-opacity="0.92"/>
<polygon points="210.0,208.8 216.1,211.2 223.7,210.0 217.6,207.5" fill="#4252f2" class="c"/>
<polygon points="223.7,210.0 229.8,212.5 237.4,211.3 231.2,208.8" fill="#4252f2" class="c"/>
<polygon points="155.3,193.3 161.4,196.3 169.0,195.1 162.9,192.1" fill="#289aec" fill-opacity="0.92"/>
<polygon points="237.4,211.3 243.5,213.8 251.0,212.7 244.9,210.1" fill="#4252f2" class="c"/>
<polygon points="169.0,195.1 175.1,198.1 182.7,196.8 176.5,193.8" fill="#2897ed" fill-opacity="0.92"/>
<polygon points="251.0,212.7 257.1,215.2 264.7,214.1 258.6,211.5" fill="#4252f2" class="c"/>
<polygon points="231.2,190.6 237.4,192.8 244.9,181.1 238.8,178.9" fill="#20ace1" fill-opacity="0.92"/>
<polygon points="182.7,196.8 188.8,199.9 196.3,198.6 190.2,195.6" fill="#2894ed" fill-opacity="0.92"/>
<polygon points="264.7,214.1 270.8,216.7 278.4,215.6 272.3,213.0" fill="#4252f2" class="c"/>
<polygon points="328.4,159.0 334.5,161.1 342.1,159.2 336.0,157.1" fill="#4ecf6c" fill-opacity="0.92"/>
<polygon points="278.4,215.6 284.5,218.2 292.1,217.1 286.0,214.5" fill="#4252f2" class="c"/>
<polygon points="279.8,169.9 286.0,172.1 293.5,170.2 287.4,168.0" fill="#2bc6a5" fill-opacity="0.92"/>
<polygon points="292.1,217.1 298.2,219.8 305.7,218.7 299.6,216.1" fill="#4252f2" class="c"/>
<polygon points="342.1,159.2 348.2,161.4 355.8,159.5 349.7,157.3" fill="#4ecf6c" fill-opacity="0.92"/>
<polygon points="305.7,218.7 311.9,221.3 319.4,220.3 313.3,217.7" fill="#4252f2" class="c"/>
<polygon points="196.3,198.6 202.4,201.3 210.0,192.2 203.9,190.1" fill="#2898ed" fill-opacity="0.92"/>
<polygon points="293.5,170.2 299.6,172.3 307.2,170.4 301.1,168.3" fill="#2bc6a5" fill-opacity="0.92"/>
<polygon points="319.4,220.3 325.5,222.8 333.1,221.8 327.0,219.3" fill="#4252f2" class="c"/>
<polygon points="244.9,181.1 251.0,183.2 258.6,181.3 252.5,179.2" fill="#20b6d3" fill-opacity="0.92"/>
<polygon points="307.2,170.4 313.3,172.6 320.9,170.7 314.8,168.5" fill="#2bc6a5" fill-opacity="0.92"/>
<polygon points="161.4,207.2 167.5,209.4 175.1,208.1 169.0,205.8" fill="#4252f2" class="c"/>
<polygon points="258.6,181.3 264.7,183.5 272.3,181.6 266.2,179.4" fill="#20b6d3" fill-opacity="0.92"/>
<polygon points="175.1,208.1 181.2,210.3 188.8,209.0 182.7,206.7" fill="#4252f2" class="c"/>
<polygon points="210.0,192.2 216.1,194.4 223.7,192.5 217.6,190.3" fill="#269fe9" fill-opacity="0.92"/>
<polygon points="188.8,209.0 194.9,211.3 202.4,210.1 196.3,207.7" fill="#4252f2" class="c"/>
<polygon points="223.7,192.5 229.8,194.7 237.4,192.8 231.2,190.6" fill="#269fe9" fill-opacity="0.92"/>
<polygon points="202.4,210.1 208.6,212.4 216.1,211.2 210.0,208.8" fill="#4252f2" class="c"/>
<polygon points="216.1,211.2 222.2,213.6 229.8,212.5 223.7,210.0" fill="#4252f2" class="c"/>
<polygon points="229.8,212.5 235.9,214.9 243.5,213.8 237.4,211.3" fill="#4252f2" class="c"/>
<polygon points="320.9,170.7 327.0,163.0 334.5,161.1 328.4,159.0" fill="#37cd82" fill-opacity="0.92"/>
<polygon points="161.4,196.3 167.5,199.3 175.1,198.1 169.0,195.1" fill="#2898ed" fill-opacity="0.92"/>
<polygon points="243.5,213.8 249.6,216.3 257.1,215.2 251.0,212.7" fill="#4252f2" class="c"/>
<polygon points="272.3,181.6 278.4,174.0 286.0,172.1 279.8,169.9" fill="#22bfc2" fill-opacity="0.92"/>
<polygon points="175.1,198.1 181.2,201.1 188.8,199.9 182.7,196.8" fill="#2895ed" fill-opacity="0.92"/>
<polygon points="257.1,215.2 263.3,217.7 270.8,216.7 264.7,214.1" fill="#4252f2" class="c"/>
<polygon points="188.8,199.9 194.9,203.2 202.4,201.3 196.3,198.6" fill="#2892ee" fill-opacity="0.92"/>
<polygon points="270.8,216.7 276.9,219.2 284.5,218.2 278.4,215.6" fill="#4252f2" class="c"/>
<polygon points="334.5,161.1 340.7,163.3 348.2,161.4 342.1,159.2" fill="#4ecf6c" fill-opacity="0.92"/>
<polygon points="284.5,218.2 290.6,220.8 298.2,219.8 292.1,217.1" fill="#4252f2" class="c"/>
<polygon points="237.4,192.8 243.5,185.1 251.0,183.2 244.9,181.1" fill="#20ace1" fill-opacity="0.92"/>
<polygon points="286.0,172.1 292.1,174.2 299.6,172.3 293.5,170.2" fill="#2bc6a5" fill-opacity="0.92"/>
<polygon points="298.2,219.8 304.3,222.3 311.9,221.3 305.7,218.7" fill="#4252f2" class="c"/>
<polygon points="311.9,221.3 318.0,223.8 325.5,222.8 319.4,220.3" fill="#4252f2" class="c"/>
<polygon points="299.6,172.3 305.7,174.5 313.3,172.6 307.2,170.4" fill="#2bc6a5" fill-opacity="0.92"/>
<polygon points="202.4,201.3 208.6,196.3 216.1,194.4 210.0,192.2" fill="#2897ed" fill-opacity="0.92"/>
<polygon points="251.0,183.2 257.1,185.4 264.7,183.5 258.6,181.3" fill="#20b6d3" fill-opacity="0.92"/>
<polygon points="167.5,209.4 173.6,211.6 181.2,210.3 175.1,208.1" fill="#4252f2" class="c"/>
<polygon points="181.2,210.3 187.3,212.5 194.9,211.3 188.8,209.0" fill="#4252f2" class="c"/>
<polygon points="313.3,172.6 319.4,174.8 327.0,163.0 320.9,170.7" fill="#37cd82" fill-opacity="0.92"/>
<polygon points="216.1,194.4 222.2,196.6 229.8,194.7 223.7,192.5" fill="#269fe9" fill-opacity="0.92"/>
<polygon points="264.7,183.5 270.8,185.7 278.4,174.0 272.3,181.6" fill="#22bfc2" fill-opacity="0.92"/>
<polygon points="194.9,211.3 201.0,213.6 208.6,212.4 202.4,210.1" fill="#4252f2" class="c"/>
<polygon points="208.6,212.4 214.7,214.8 222.2,213.6 216.1,211.2" fill="#4252f2" class="c"/>
<polygon points="222.2,213.6 228.3,216.0 235.9,214.9 229.8,212.5" fill="#4252f2" class="c"/>
<polygon points="229.8,194.7 235.9,196.8 243.5,185.1 237.4,192.8" fill="#20ace1" fill-opacity="0.92"/>
<polygon points="235.9,214.9 242.0,217.4 249.6,216.3 243.5,213.8" fill="#4252f2" class="c"/>
<polygon points="167.5,199.3 173.6,202.3 181.2,201.1 175.1,198.1" fill="#2897ed" fill-opacity="0.92"/>
<polygon points="181.2,201.1 187.3,204.4 194.9,203.2 188.8,199.9" fill="#2893ee" fill-opacity="0.92"/>
<polygon points="249.6,216.3 255.7,218.8 263.3,217.7 257.1,215.2" fill="#4252f2" class="c"/>
<polygon points="263.3,217.7 269.4,220.2 276.9,219.2 270.8,216.7" fill="#4252f2" class="c"/>
<polygon points="327.0,163.0 333.1,165.2 340.7,163.3 334.5,161.1" fill="#4ecf6c" fill-opacity="0.92"/>
<polygon points="276.9,219.2 283.1,221.8 290.6,220.8 284.5,218.2" fill="#4252f2" class="c"/>
<polygon points="278.4,174.0 284.5,176.1 292.1,174.2 286.0,172.1" fill="#2bc6a5" fill-opacity="0.92"/>
<polygon points="194.9,203.2 201.0,205.9 208.6,196.3 202.4,201.3" fill="#2897ed" fill-opacity="0.92"/>
<polygon points="290.6,220.8 296.7,223.3 304.3,222.3 298.2,219.8" fill="#4252f2" class="c"/>
<polygon points="304.3,222.3 310.4,224.7 318.0,223.8 311.9,221.3" fill="#4252f2" class="c"/>
<polygon points="292.1,174.2 298.2,176.4 305.7,174.5 299.6,172.3" fill="#2bc6a5" fill-opacity="0.92"/>
<polygon points="243.5,185.1 249.6,187.3 257.1,185.4 251.0,183.2" fill="#20b6d3" fill-opacity="0.92"/>
<polygon points="305.7,174.5 311.9,176.7 319.4,174.8 313.3,172.6" fill="#2bc6a5" fill-opacity="0.92"/>
<polygon points="257.1,185.4 263.3,187.6 270.8,185.7 264.7,183.5" fill="#20b6d3" fill-opacity="0.92"/>
<polygon points="173.6,211.6 179.8,213.7 187.3,212.5 181.2,210.3" fill="#4252f2" class="c"/>
<polygon points="208.6,196.3 214.7,198.5 222.2,196.6 216.1,194.4" fill="#269fe9" fill-opacity="0.92"/>
<polygon points="187.3,212.5 193.4,214.8 201.0,213.6 194.9,211.3" fill="#4252f2" class="c"/>
<polygon points="222.2,196.6 228.3,198.7 235.9,196.8 229.8,194.7" fill="#269fe9" fill-opacity="0.92"/>
<polygon points="201.0,213.6 207.1,215.9 214.7,214.8 208.6,212.4" fill="#4252f2" class="c"/>
<polygon points="214.7,214.8 220.8,217.1 228.3,216.0 222.2,213.6" fill="#4252f2" class="c"/>
<polygon points="270.8,185.7 276.9,187.8 284.5,176.1 278.4,174.0" fill="#22bfc2" fill-opacity="0.92"/>
<polygon points="228.3,216.0 234.5,218.4 242.0,217.4 235.9,214.9" fill="#4252f2" class="c"/>
<polygon points="319.4,174.8 325.5,167.1 333.1,165.2 327.0,163.0" fill="#37cd82" fill-opacity="0.92"/>
<polygon points="173.6,202.3 179.8,205.7 187.3,204.4 181.2,201.1" fill="#2895ed" fill-opacity="0.92"/>
<polygon points="242.0,217.4 248.1,219.8 255.7,218.8 249.6,216.3" fill="#4252f2" class="c"/>
<polygon points="187.3,204.4 193.4,207.8 201.0,205.9 194.9,203.2" fill="#2891ee" fill-opacity="0.92"/>
<polygon points="255.7,218.8 261.8,221.2 269.4,220.2 263.3,217.7" fill="#4252f2" class="c"/>
<polygon points="235.9,196.8 242.0,199.0 249.6,187.3 243.5,185.1" fill="#20ace1" fill-opacity="0.92"/>
<polygon points="269.4,220.2 275.5,222.7 283.1,221.8 276.9,219.2" fill="#4252f2" class="c"/>
<polygon points="283.1,221.8 289.2,224.3 296.7,223.3 290.6,220.8" fill="#4252f2" class="c"/>
<polygon points="284.5,176.1 290.6,178.3 298.2,176.4 292.1,174.2" fill="#2bc6a5" fill-opacity="0.92"/>
<polygon points="296.7,223.3 302.8,225.7 310.4,224.7 304.3,222.3" fill="#4252f2" class="c"/>
<polygon points="201.0,205.9 207.1,208.6 214.7,198.5 208.6,196.3" fill="#2897ed" fill-opacity="0.92"/>
<polygon points="298.2,176.4 304.3,178.6 311.9,176.7 305.7,174.5" fill="#2bc6a5" fill-opacity="0.92"/>
<polygon points="249.6,187.3 255.7,189.5 263.3,187.6 257.1,185.4" fill="#20b6d3" fill-opacity="0.92"/>
<polygon points="263.3,187.6 269.4,189.7 276.9,187.8 270.8,185.7" fill="#20b6d3" fill-opacity="0.92"/>
<polygon points="311.9,176.7 318.0,178.8 325.5,167.1 319.4,174.8" fill="#37cd82" fill-opacity="0.92"/>
<polygon points="179.8,213.7 185.9,215.9 193.4,214.8 187.3,212.5" fill="#4252f2" class="c"/>
<polygon points="214.7,198.5 220.8,200.6 228.3,198.7 222.2,196.6" fill="#269fe9" fill-opacity="0.92"/>
<polygon points="193.4,214.8 199.5,217.0 207.1,215.9 201.0,213.6" fill="#4252f2" class="c"/>
<polygon points="228.3,198.7 234.5,200.9 242.0,199.0 235.9,196.8" fill="#269fe9" fill-opacity="0.92"/>
<polygon points="207.1,215.9 213.2,218.2 220.8,217.1 214.7,214.8" fill="#4252f2" class="c"/>
<polygon points="220.8,217.1 226.9,219.4 234.5,218.4 228.3,216.0" fill="#4252f2" class="c"/>
<polygon points="234.5,218.4 240.6,220.8 248.1,219.8 242.0,217.4" fill="#4252f2" class="c"/>
<polygon points="179.8,205.7 185.9,209.0 193.4,207.8 187.3,204.4" fill="#2892ee" fill-opacity="0.92"/>
<polygon points="248.1,219.8 254.3,222.2 261.8,221.2 255.7,218.8" fill="#4252f2" class="c"/>
<polygon points="276.9,187.8 283.1,180.2 290.6,178.3 284.5,176.1" fill="#22bfc2" fill-opacity="0.92"/>
<polygon points="193.4,207.8 199.5,210.5 207.1,208.6 201.0,205.9" fill="#288fee" fill-opacity="0.92"/>
<polygon points="261.8,221.2 267.9,223.7 275.5,222.7 269.4,220.2" fill="#4252f2" class="c"/>
<polygon points="275.5,222.7 281.6,225.2 289.2,224.3 283.1,221.8" fill="#4252f2" class="c"/>
<polygon points="242.0,199.0 248.1,191.4 255.7,189.5 249.6,187.3" fill="#20ace1" fill-opacity="0.92"/>
<polygon points="289.2,224.3 295.3,226.6 302.8,225.7 296.7,223.3" fill="#4252f2" class="c"/>
<polygon points="290.6,178.3 296.7,180.5 304.3,178.6 298.2,176.4" fill="#2bc6a5" fill-opacity="0.92"/>
<polygon points="207.1,208.6 213.2,211.5 220.8,200.6 214.7,198.5" fill="#2896ed" fill-opacity="0.92"/>
<polygon points="304.3,178.6 310.4,180.7 318.0,178.8 311.9,176.7" fill="#2bc6a5" fill-opacity="0.92"/>
<polygon points="255.7,189.5 261.8,191.6 269.4,189.7 263.3,187.6" fill="#20b6d3" fill-opacity="0.92"/>
<polygon points="185.9,215.9 192.0,218.1 199.5,217.0 193.4,214.8" fill="#4252f2" class="c"/>
<polygon points="220.8,200.6 226.9,202.8 234.5,200.9 228.3,198.7" fill="#269fe9" fill-opacity="0.92"/>
<polygon points="269.4,189.7 275.5,191.9 283.1,180.2 276.9,187.8" fill="#22bfc2" fill-opacity="0.92"/>
<polygon points="199.5,217.0 205.7,219.2 213.2,218.2 207.1,215.9" fill="#4252f2" class="c"/>
<polygon points="213.2,218.2 219.3,220.4 226.9,219.4 220.8,217.1" fill="#4252f2" class="c"/>
<polygon points="226.9,219.4 233.0,221.7 240.6,220.8 234.5,218.4" fill="#4252f2" class="c"/>
<polygon points="234.5,200.9 240.6,203.1 248.1,191.4 242.0,199.0" fill="#20ace1" fill-opacity="0.92"/>
<polygon points="185.9,209.0 192.0,212.4 199.5,210.5 193.4,207.8" fill="#2890ee" fill-opacity="0.92"/>
<polygon points="240.6,220.8 246.7,223.1 254.3,222.2 248.1,219.8" fill="#4252f2" class="c"/>
<polygon points="199.5,210.5 205.7,213.4 213.2,211.5 207.1,208.6" fill="#288eef" fill-opacity="0.92"/>
<polygon points="254.3,222.2 260.4,224.6 267.9,223.7 261.8,221.2" fill="#4252f2" class="c"/>
<polygon points="267.9,223.7 274.0,226.1 281.6,225.2 275.5,222.7" fill="#4252f2" class="c"/>
<polygon points="283.1,180.2 289.2,182.4 296.7,180.5 290.6,178.3" fill="#2bc6a5" fill-opacity="0.92"/>
<polygon points="281.6,225.2 287.7,227.4 295.3,226.6 289.2,224.3" fill="#4252f2" class="c"/>
<polygon points="296.7,180.5 302.8,182.6 310.4,180.7 304.3,178.6" fill="#2bc6a5" fill-opacity="0.92"/>
<polygon points="248.1,191.4 254.3,193.5 261.8,191.6 255.7,189.5" fill="#20b6d3" fill-opacity="0.92"/>
<polygon points="213.2,211.5 219.3,204.7 226.9,202.8 220.8,200.6" fill="#2895ed" fill-opacity="0.92"/>
<polygon points="261.8,191.6 267.9,193.8 275.5,191.9 269.4,189.7" fill="#20b6d3" fill-opacity="0.92"/>
<polygon points="192.0,218.1 198.1,220.2 205.7,219.2 199.5,217.0" fill="#4252f2" class="c"/>
<polygon points="226.9,202.8 233.0,205.0 240.6,203.1 234.5,200.9" fill="#269fe9" fill-opacity="0.92"/>
<polygon points="205.7,219.2 211.8,221.4 219.3,220.4 213.2,218.2" fill="#4252f2" class="c"/>
<polygon points="219.3,220.4 225.5,222.7 233.0,221.7 226.9,219.4" fill="#4252f2" class="c"/>
<polygon points="233.0,221.7 239.1,224.1 246.7,223.1 240.6,220.8" fill="#4252f2" class="c"/>
<polygon points="192.0,212.4 198.1,215.3 205.7,213.4 199.5,210.5" fill="#288eef" fill-opacity="0.92"/>
<polygon points="275.5,191.9 281.6,184.3 289.2,182.4 283.1,180.2" fill="#22bfc2" fill-opacity="0.92"/>
<polygon points="246.7,223.1 252.8,225.5 260.4,224.6 254.3,222.2" fill="#4252f2" class="c"/>
<polygon points="240.6,203.1 246.7,205.2 254.3,193.5 248.1,191.4" fill="#20ace1" fill-opacity="0.92"/>
<polygon points="260.4,224.6 266.5,227.0 274.0,226.1 267.9,223.7" fill="#4252f2" class="c"/>
<polygon points="274.0,226.1 280.2,228.3 287.7,227.4 281.6,225.2" fill="#4252f2" class="c"/>
<polygon points="205.7,213.4 211.8,216.3 219.3,204.7 213.2,211.5" fill="#2895ed" fill-opacity="0.92"/>
<polygon points="289.2,182.4 295.3,184.5 302.8,182.6 296.7,180.5" fill="#2bc6a5" fill-opacity="0.92"/>
<polygon points="254.3,193.5 260.4,195.7 267.9,193.8 261.8,191.6" fill="#20b6d3" fill-opacity="0.92"/>
<polygon points="219.3,204.7 225.5,216.7 233.0,205.0 226.9,202.8" fill="#269fe9" fill-opacity="0.92"/>
<polygon points="267.9,193.8 274.0,196.0 281.6,184.3 275.5,191.9" fill="#22bfc2" fill-opacity="0.92"/>
<polygon points="198.1,220.2 204.2,222.4 211.8,221.4 205.7,219.2" fill="#4252f2" class="c"/>
<polygon points="233.0,205.0 239.1,207.1 246.7,205.2 240.6,203.1" fill="#269fe9" fill-opacity="0.92"/>
<polygon points="211.8,221.4 217.9,223.6 225.5,222.7 219.3,220.4" fill="#4252f2" class="c"/>
<polygon points="225.5,222.7 231.6,225.0 239.1,224.1 233.0,221.7" fill="#4252f2" class="c"/>
<polygon points="198.1,215.3 204.2,218.2 211.8,216.3 205.7,213.4" fill="#288cef" fill-opacity="0.92"/>
<polygon points="239.1,224.1 245.2,226.4 252.8,225.5 246.7,223.1" fill="#4252f2" class="c"/>
<polygon points="252.8,225.5 258.9,227.8 266.5,227.0 260.4,224.6" fill="#4252f2" class="c"/>
<polygon points="246.7,205.2 252.8,207.4 260.4,195.7 254.3,193.5" fill="#20ace1" fill-opacity="0.92"/>
<polygon points="266.5,227.0 272.6,229.1 280.2,228.3 274.0,226.1" fill="#4252f2" class="c"/>
<polygon points="281.6,184.3 287.7,186.4 295.3,184.5 289.2,182.4" fill="#2bc6a5" fill-opacity="0.92"/>
<polygon points="211.8,216.3 217.9,218.6 225.5,216.7 219.3,204.7" fill="#2894ed" fill-opacity="0.92"/>
<polygon points="225.5,216.7 231.6,218.9 239.1,207.1 233.0,205.0" fill="#2894ed" fill-opacity="0.92"/>
<polygon points="260.4,195.7 266.5,197.9 274.0,196.0 267.9,193.8" fill="#20b6d3" fill-opacity="0.92"/>
<polygon points="239.1,207.1 245.2,219.1 252.8,207.4 246.7,205.2" fill="#269fe9" fill-opacity="0.92"/>
<polygon points="204.2,222.4 210.3,224.6 217.9,223.6 211.8,221.4" fill="#4252f2" class="c"/>
<polygon points="274.0,196.0 280.2,198.1 287.7,186.4 281.6,184.3" fill="#22bfc2" fill-opacity="0.92"/>
<polygon points="217.9,223.6 224.0,225.9 231.6,225.0 225.5,222.7" fill="#4252f2" class="c"/>
<polygon points="231.6,225.0 237.7,227.2 245.2,226.4 239.1,224.1" fill="#4252f2" class="c"/>
<polygon points="204.2,218.2 210.3,221.2 217.9,218.6 211.8,216.3" fill="#288bef" fill-opacity="0.92"/>
<polygon points="245.2,226.4 251.4,228.7 258.9,227.8 252.8,225.5" fill="#4252f2" class="c"/>
<polygon points="252.8,207.4 258.9,219.4 266.5,197.9 260.4,195.7" fill="#20ace1" fill-opacity="0.92"/>
<polygon points="258.9,227.8 265.0,229.9 272.6,229.1 266.5,227.0" fill="#4252f2" class="c"/>
<polygon points="217.9,218.6 224.0,220.8 231.6,218.9 225.5,216.7" fill="#288aef" fill-opacity="0.92"/>
<polygon points="231.6,218.9 237.7,221.0 245.2,219.1 239.1,207.1" fill="#2894ed" fill-opacity="0.92"/>
<polygon points="245.2,219.1 251.4,221.3 258.9,219.4 252.8,207.4" fill="#2894ed" fill-opacity="0.92"/>
<polygon points="266.5,197.9 272.6,200.0 280.2,198.1 274.0,196.0" fill="#20b6d3" fill-opacity="0.92"/>
<polygon points="210.3,224.6 216.4,226.7 224.0,225.9 217.9,223.6" fill="#4252f2" class="c"/>
<polygon points="224.0,225.9 230.1,228.1 237.7,227.2 231.6,225.0" fill="#4252f2" class="c"/>
<polygon points="258.9,219.4 265.0,221.6 272.6,200.0 266.5,197.9" fill="#269fe9" fill-opacity="0.92"/>
<polygon points="237.7,227.2 243.8,229.5 251.4,228.7 245.2,226.4" fill="#4252f2" class="c"/>
<polygon points="210.3,221.2 216.4,224.1 224.0,220.8 217.9,218.6" fill="#288aef" fill-opacity="0.92"/>
<polygon points="251.4,228.7 257.5,230.7 265.0,229.9 258.9,227.8" fill="#4252f2" class="c"/>
<polygon points="224.0,220.8 230.1,222.9 237.7,221.0 231.6,218.9" fill="#288aef" fill-opacity="0.92"/>
<polygon points="237.7,221.0 243.8,223.2 251.4,221.3 245.2,219.1" fill="#288aef" fill-opacity="0.92"/>
<polygon points="251.4,221.3 257.5,223.4 265.0,221.6 258.9,219.4" fill="#288aef" fill-opacity="0.92"/>
<polygon points="216.4,226.7 222.6,228.9 230.1,228.1 224.0,225.9" fill="#4252f2" class="c"/>
<polygon points="230.1,228.1 236.2,230.3 243.8,229.5 237.7,227.2" fill="#4252f2" class="c"/>
<polygon points="243.8,229.5 249.9,231.5 257.5,230.7 251.4,228.7" fill="#4252f2" class="c"/>
<polygon points="216.4,224.1 222.6,227.0 230.1,222.9 224.0,220.8" fill="#2889f0" fill-opacity="0.92"/>
<polygon points="230.1,222.9 236.2,225.1 243.8,223.2 237.7,221.0" fill="#288aef" fill-opacity="0.92"/>
<polygon points="243.8,223.2 249.9,225.4 257.5,223.4 251.4,221.3" fill="#288aef" fill-opacity="0.92"/>
<polygon points="222.6,228.9 228.7,231.1 236.2,230.3 230.1,228.1" fill="#4252f2" class="c"/>
<polygon points="236.2,230.3 242.3,232.2 249.9,231.5 243.8,229.5" fill="#4252f2" class="c"/>
<polygon points="222.6,227.0 228.7,230.0 236.2,225.1 230.1,222.9" fill="#2888f0" fill-opacity="0.92"/>
<polygon points="236.2,225.1 242.3,227.2 249.9,225.4 243.8,223.2" fill="#288aef" fill-opacity="0.92"/>
<polygon points="228.7,231.1 234.8,232.9 242.3,232.2 236.2,230.3" fill="#4252f2" class="c"/>
<polygon points="228.7,230.0 234.8,232.9 242.3,227.2 236.2,225.1" fill="#2887f0" fill-opacity="0.92"/></g>
<polyline points="115.1,119.2 121.2,129.2 134.9,133.7 141.0,138.8 147.1,143.9 153.2,148.9 166.9,156.2 157.9,162.0 164.0,165.2 170.1,168.8 176.2,172.3 174.8,176.7 180.9,179.9 187.0,183.1 185.6,187.5 191.7,190.5 190.2,194.8 196.3,197.8 194.9,202.4 193.4,207.0 192.0,211.5 198.1,214.5 204.2,217.4 210.3,220.3 216.4,223.3 222.6,226.2 228.7,229.2 234.8,232.1" fill="none" stroke="#000" stroke-width="2.6" stroke-linejoin="round"/>
<line x1="176.2" y1="124.5" x2="176.2" y2="162" stroke="#c8202a" stroke-width="2.6"/>
<path d="M169,159.2 L176.2,173.3 L183.2,159.2 Z" fill="#c8202a"/>
<text x="35" y="227.9" text-anchor="end" class="t3">0.6</text>
<text x="35" y="195.2" text-anchor="end" class="t3">0.8</text>
<text x="35" y="162.5" text-anchor="end" class="t3">1</text>
<text x="35" y="129.8" text-anchor="end" class="t3">1.2</text>
<text x="35" y="97.1" text-anchor="end" class="t3">1.4</text>
<text x="35" y="64.4" text-anchor="end" class="t3">1.6</text>
<text transform="translate(14.7,146) rotate(-90)" text-anchor="middle" class="l3">Normalized PBT vs CO2</text>
<text x="32.2" y="239.5" text-anchor="middle" class="t3">0</text>
<text x="80.8" y="257.8" text-anchor="middle" class="t3">10</text>
<text x="131.6" y="276.1" text-anchor="middle" class="t3">20</text>
<text x="182" y="294.4" text-anchor="middle" class="t3">30</text>
<text x="233.1" y="312.2" text-anchor="middle" class="t3">40</text>
<text x="259.4" y="313.1" text-anchor="middle" class="t3">0</text>
<text x="290.0" y="305.4" text-anchor="middle" class="t3">10</text>
<text x="320.6" y="297.7" text-anchor="middle" class="t3">20</text>
<text x="351.2" y="290.1" text-anchor="middle" class="t3">30</text>
<text x="381.8" y="282.4" text-anchor="middle" class="t3">40</text>
<text x="412.4" y="274.7" text-anchor="middle" class="t3">50</text>
<text x="443.0" y="267.0" text-anchor="middle" class="t3">60</text>
<text x="473.6" y="259.3" text-anchor="middle" class="t3">70</text>
<text x="504.2" y="251.7" text-anchor="middle" class="t3">80</text>
<text x="142.5" y="313" text-anchor="middle" class="l3">PV [kWp]</text>
<text x="387" y="314.7" text-anchor="middle" class="l3">BESS capacity [kWh]</text>
<text x="336.5" y="45" text-anchor="middle" class="t3">PBT</text>
<text x="403.5" y="220.8" text-anchor="middle" class="t3">CO2</text>
<text x="256.8" y="335" text-anchor="middle" class="al">(<tspan font-weight="bold">a</tspan>)</text>
<line x1="84.20" y1="347.5" x2="84.20" y2="485.0" class="gd"/>
<line x1="94.91" y1="347.5" x2="94.91" y2="485.0" class="gd"/>
<line x1="105.61" y1="347.5" x2="105.61" y2="485.0" class="gd"/>
<line x1="116.31" y1="347.5" x2="116.31" y2="485.0" class="gd"/>
<line x1="127.01" y1="347.5" x2="127.01" y2="485.0" class="gd"/>
<line x1="137.72" y1="347.5" x2="137.72" y2="485.0" class="gd"/>
<line x1="148.42" y1="347.5" x2="148.42" y2="485.0" class="gd"/>
<line x1="159.12" y1="347.5" x2="159.12" y2="485.0" class="gd"/>
<line x1="169.82" y1="347.5" x2="169.82" y2="485.0" class="gd"/>
<line x1="180.53" y1="347.5" x2="180.53" y2="485.0" class="gd"/>
<line x1="191.23" y1="347.5" x2="191.23" y2="485.0" class="gd"/>
<line x1="201.93" y1="347.5" x2="201.93" y2="485.0" class="gd"/>
<line x1="212.64" y1="347.5" x2="212.64" y2="485.0" class="gd"/>
<line x1="223.34" y1="347.5" x2="223.34" y2="485.0" class="gd"/>
<line x1="234.04" y1="347.5" x2="234.04" y2="485.0" class="gd"/>
<line x1="244.74" y1="347.5" x2="244.74" y2="485.0" class="gd"/>
<line x1="255.45" y1="347.5" x2="255.45" y2="485.0" class="gd"/>
<line x1="266.15" y1="347.5" x2="266.15" y2="485.0" class="gd"/>
<line x1="276.85" y1="347.5" x2="276.85" y2="485.0" class="gd"/>
<line x1="287.55" y1="347.5" x2="287.55" y2="485.0" class="gd"/>
<line x1="298.26" y1="347.5" x2="298.26" y2="485.0" class="gd"/>
<line x1="308.96" y1="347.5" x2="308.96" y2="485.0" class="gd"/>
<line x1="319.66" y1="347.5" x2="319.66" y2="485.0" class="gd"/>
<line x1="330.36" y1="347.5" x2="330.36" y2="485.0" class="gd"/>
<line x1="341.07" y1="347.5" x2="341.07" y2="485.0" class="gd"/>
<line x1="351.77" y1="347.5" x2="351.77" y2="485.0" class="gd"/>
<line x1="362.47" y1="347.5" x2="362.47" y2="485.0" class="gd"/>
<line x1="373.18" y1="347.5" x2="373.18" y2="485.0" class="gd"/>
<line x1="383.88" y1="347.5" x2="383.88" y2="485.0" class="gd"/>
<line x1="394.58" y1="347.5" x2="394.58" y2="485.0" class="gd"/>
<line x1="405.28" y1="347.5" x2="405.28" y2="485.0" class="gd"/>
<line x1="415.99" y1="347.5" x2="415.99" y2="485.0" class="gd"/>
<line x1="426.69" y1="347.5" x2="426.69" y2="485.0" class="gd"/>
<line x1="437.39" y1="347.5" x2="437.39" y2="485.0" class="gd"/>
<line x1="448.09" y1="347.5" x2="448.09" y2="485.0" class="gd"/>
<line x1="458.80" y1="347.5" x2="458.80" y2="485.0" class="gd"/>
<line x1="73.5" y1="473.54" x2="469.5" y2="473.54" class="gd"/>
<line x1="73.5" y1="462.08" x2="469.5" y2="462.08" class="gd"/>
<line x1="73.5" y1="450.62" x2="469.5" y2="450.62" class="gd"/>
<line x1="73.5" y1="439.17" x2="469.5" y2="439.17" class="gd"/>
<line x1="73.5" y1="427.71" x2="469.5" y2="427.71" class="gd"/>
<line x1="73.5" y1="416.25" x2="469.5" y2="416.25" class="gd"/>
<line x1="73.5" y1="404.79" x2="469.5" y2="404.79" class="gd"/>
<line x1="73.5" y1="393.33" x2="469.5" y2="393.33" class="gd"/>
<line x1="73.5" y1="381.88" x2="469.5" y2="381.88" class="gd"/>
<line x1="73.5" y1="370.42" x2="469.5" y2="370.42" class="gd"/>
<line x1="73.5" y1="358.96" x2="469.5" y2="358.96" class="gd"/>
<polyline points="86.34,477.71 99.19,454.11 112.03,431.72 124.87,420.90 137.72,406.30 150.56,400.21 163.40,393.86 176.25,388.86 189.09,377.11 201.93,385.13 214.78,381.42 227.62,377.64 240.46,373.85 253.31,378.87 266.15,376.60 278.99,374.36 291.84,380.61 304.68,378.12 317.52,385.13 330.36,382.61 343.21,392.62 356.05,402.61 368.89,415.86 381.74,414.55 394.58,413.29 407.42,412.12 420.27,411.03 433.11,410.04 445.95,409.20 458.80,408.62" fill="none" stroke="#0072BD" stroke-width="4" stroke-linejoin="round"/>
<polyline points="86.34,443.75 99.19,416.25 112.03,388.75 124.87,388.75 137.72,375.00 150.56,375.00 163.40,375.00 176.25,375.00 189.09,361.25 201.93,388.75 214.78,388.75 227.62,388.75 240.46,388.75 253.31,402.50 266.15,402.50 278.99,402.50 291.84,416.25 304.68,416.25 317.52,430.00 330.36,430.00 343.21,443.75 356.05,457.50 368.89,471.25 381.74,471.25 394.58,471.25 407.42,471.25 420.27,471.25 433.11,471.25 445.95,471.25 458.80,471.25" fill="none" stroke="#D95319" stroke-width="4" stroke-linejoin="round"/>
<rect x="73.5" y="347.5" width="396.0" height="137.5" fill="none" stroke="#262626" stroke-width="1"/>
<line x1="73.50" y1="485.0" x2="73.50" y2="481.0" class="tk"/>
<line x1="73.50" y1="347.5" x2="73.50" y2="351.5" class="tk"/>
<text x="73.50" y="502.3" text-anchor="middle" class="tl" textLength="5.5" lengthAdjust="spacingAndGlyphs">0</text>
<line x1="127.01" y1="485.0" x2="127.01" y2="481.0" class="tk"/>
<line x1="127.01" y1="347.5" x2="127.01" y2="351.5" class="tk"/>
<text x="127.01" y="502.3" text-anchor="middle" class="tl" textLength="5.5" lengthAdjust="spacingAndGlyphs">5</text>
<line x1="180.53" y1="485.0" x2="180.53" y2="481.0" class="tk"/>
<line x1="180.53" y1="347.5" x2="180.53" y2="351.5" class="tk"/>
<text x="180.53" y="502.3" text-anchor="middle" class="tl" textLength="12.9" lengthAdjust="spacingAndGlyphs">10</text>
<line x1="234.04" y1="485.0" x2="234.04" y2="481.0" class="tk"/>
<line x1="234.04" y1="347.5" x2="234.04" y2="351.5" class="tk"/>
<text x="234.04" y="502.3" text-anchor="middle" class="tl" textLength="12.9" lengthAdjust="spacingAndGlyphs">15</text>
<line x1="287.55" y1="485.0" x2="287.55" y2="481.0" class="tk"/>
<line x1="287.55" y1="347.5" x2="287.55" y2="351.5" class="tk"/>
<text x="287.55" y="502.3" text-anchor="middle" class="tl" textLength="12.9" lengthAdjust="spacingAndGlyphs">20</text>
<line x1="341.07" y1="485.0" x2="341.07" y2="481.0" class="tk"/>
<line x1="341.07" y1="347.5" x2="341.07" y2="351.5" class="tk"/>
<text x="341.07" y="502.3" text-anchor="middle" class="tl" textLength="12.9" lengthAdjust="spacingAndGlyphs">25</text>
<line x1="394.58" y1="485.0" x2="394.58" y2="481.0" class="tk"/>
<line x1="394.58" y1="347.5" x2="394.58" y2="351.5" class="tk"/>
<text x="394.58" y="502.3" text-anchor="middle" class="tl" textLength="12.9" lengthAdjust="spacingAndGlyphs">30</text>
<line x1="448.09" y1="485.0" x2="448.09" y2="481.0" class="tk"/>
<line x1="448.09" y1="347.5" x2="448.09" y2="351.5" class="tk"/>
<text x="448.09" y="502.3" text-anchor="middle" class="tl" textLength="12.9" lengthAdjust="spacingAndGlyphs">35</text>
<line x1="73.5" y1="462.08" x2="77.5" y2="462.08" class="tk"/>
<text x="68.8" y="465.68" text-anchor="end" class="tl" textLength="25.3" lengthAdjust="spacingAndGlyphs">2000</text>
<line x1="73.5" y1="416.25" x2="77.5" y2="416.25" class="tk"/>
<text x="68.8" y="419.85" text-anchor="end" class="tl" textLength="25.3" lengthAdjust="spacingAndGlyphs">4000</text>
<line x1="73.5" y1="370.42" x2="77.5" y2="370.42" class="tk"/>
<text x="68.8" y="374.02" text-anchor="end" class="tl" textLength="25.3" lengthAdjust="spacingAndGlyphs">6000</text>
<line x1="469.5" y1="485.00" x2="465.5" y2="485.00" class="tk"/>
<text x="474.9" y="486.90" text-anchor="start" class="tl" textLength="5.5" lengthAdjust="spacingAndGlyphs">0</text>
<line x1="469.5" y1="457.50" x2="465.5" y2="457.50" class="tk"/>
<text x="474.9" y="459.40" text-anchor="start" class="tl" textLength="5.5" lengthAdjust="spacingAndGlyphs">5</text>
<line x1="469.5" y1="430.00" x2="465.5" y2="430.00" class="tk"/>
<text x="474.9" y="431.90" text-anchor="start" class="tl" textLength="12.1" lengthAdjust="spacingAndGlyphs">10</text>
<line x1="469.5" y1="402.50" x2="465.5" y2="402.50" class="tk"/>
<text x="474.9" y="404.40" text-anchor="start" class="tl" textLength="12.1" lengthAdjust="spacingAndGlyphs">15</text>
<line x1="469.5" y1="375.00" x2="465.5" y2="375.00" class="tk"/>
<text x="474.9" y="376.90" text-anchor="start" class="tl" textLength="12.1" lengthAdjust="spacingAndGlyphs">20</text>
<line x1="469.5" y1="347.50" x2="465.5" y2="347.50" class="tk"/>
<text x="474.9" y="349.40" text-anchor="start" class="tl" textLength="12.1" lengthAdjust="spacingAndGlyphs">25</text>
<rect x="135.5" y="438" width="174" height="40" fill="#fff" stroke="#262626" stroke-width="1"/>
<line x1="139" y1="448.5" x2="177" y2="448.5" stroke="#0072BD" stroke-width="4"/>
<line x1="139" y1="467" x2="177" y2="467" stroke="#D95319" stroke-width="4"/>
<text x="180.3" y="450.8" class="lg" textLength="124.2" lengthAdjust="spacingAndGlyphs">Self-consumed energy</text>
<text x="180.3" y="469" class="lg" textLength="77.7" lengthAdjust="spacingAndGlyphs">BESS capacity</text>
<line x1="240.6" y1="354.6" x2="240.6" y2="364" stroke="#A2142F" stroke-width="1.2"/>
<path d="M235.7,359.2 L240.6,372 L245.5,359.2 L240.6,362.5 Z" fill="#A2142F"/>
<text x="244.1" y="521.8" class="al" textLength="54" lengthAdjust="spacingAndGlyphs">PV [kWp]</text>
<text x="257" y="542.3" text-anchor="middle" class="al" font-size="14">(<tspan font-weight="bold">b</tspan>)</text>
<text transform="translate(14.2,481.3) rotate(-90)" class="al" textLength="129.5" lengthAdjust="spacingAndGlyphs">Self-consumed energy</text>
<text transform="translate(32.3,447.8) rotate(-90)" class="al" textLength="64" lengthAdjust="spacingAndGlyphs">[kWh/year]</text>
<text transform="translate(504.3,476.4) rotate(-90)" class="al" textLength="118.7" lengthAdjust="spacingAndGlyphs">BESS capacity [kWh]</text>
</svg></body></html>
